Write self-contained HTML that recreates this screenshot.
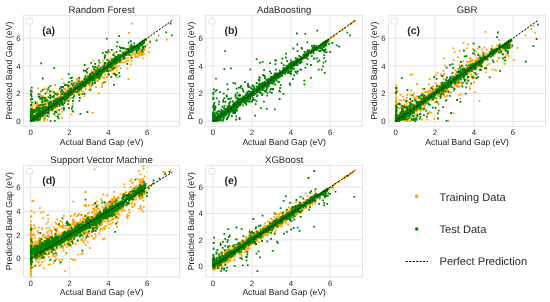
<!DOCTYPE html><html><head><meta charset="utf-8"><style>html,body{margin:0;padding:0;background:#fff;width:550px;height:302px;overflow:hidden}svg{display:block;filter:blur(0.3px)}text{font-family:"Liberation Sans",sans-serif;fill:#262626;text-rendering:geometricPrecision}</style></head><body>
<svg width="550" height="302" viewBox="0 0 550 302">
<path d="M30.69 15.20V126.20M23.60 121.15H179.50M69.52 15.20V126.20M23.60 93.51H179.50M108.35 15.20V126.20M23.60 65.86H179.50M147.17 15.20V126.20M23.60 38.22H179.50" stroke="#dedede" stroke-width="0.8" fill="none"/>
<rect x="23.60" y="15.20" width="155.90" height="111.00" stroke="#dedede" stroke-width="0.8" fill="none"/>
<path d="M31.3 117.8h0M31.9 108.7h0M32.0 117.2h0M30.8 120.0h0M30.9 119.6h0M31.9 117.9h0M31.2 99.8h0M31.2 119.5h0M31.2 120.9h0M31.4 117.7h0M31.0 118.1h0M30.9 121.2h0M31.6 117.2h0M31.2 117.9h0M31.4 118.9h0M30.8 115.5h0M31.4 116.5h0M30.7 121.1h0M31.6 116.6h0M31.3 116.6h0M30.8 112.8h0M31.3 119.7h0M31.0 120.4h0M31.4 120.9h0M31.7 115.0h0M30.9 120.1h0M30.8 114.3h0M30.8 120.6h0M31.0 115.2h0M30.8 115.5h0M31.6 120.3h0M31.4 118.8h0M30.9 116.1h0M31.3 119.1h0M31.6 118.5h0M31.5 109.9h0M30.9 121.0h0M30.7 120.1h0M30.8 113.4h0M31.2 107.6h0M30.9 117.1h0M31.7 110.3h0M32.1 117.4h0M30.8 118.6h0M31.0 117.5h0M31.6 118.9h0M31.7 113.2h0M31.6 114.4h0M31.3 110.4h0M31.1 119.3h0M30.7 100.8h0M31.4 117.7h0M31.7 118.6h0M31.6 117.6h0M31.0 118.6h0M31.2 119.7h0M31.2 119.0h0M30.9 117.6h0M30.7 115.4h0M31.3 117.8h0M31.8 119.0h0M30.8 121.1h0M30.7 110.7h0M31.2 114.1h0M31.3 117.7h0M31.5 113.7h0M31.1 117.2h0M31.5 118.4h0M30.9 115.4h0M31.1 120.8h0M30.7 115.6h0M31.1 112.7h0M30.9 114.1h0M31.2 93.6h0M31.4 120.3h0M30.9 121.0h0M31.1 117.5h0M31.0 119.7h0M31.3 113.2h0M31.2 120.9h0M30.8 113.3h0M31.6 117.8h0M32.1 117.9h0M31.1 116.3h0M31.6 120.4h0M30.8 120.0h0M31.3 116.5h0M31.3 117.0h0M30.7 115.0h0M31.4 105.4h0M52.9 105.1h0M40.0 116.3h0M46.3 89.3h0M55.7 105.7h0M34.6 115.1h0M39.7 108.4h0M31.2 119.1h0M39.1 112.4h0M35.3 116.2h0M43.4 105.4h0M59.3 97.1h0M44.5 115.0h0M38.2 116.0h0M54.5 102.9h0M31.1 121.0h0M43.5 115.9h0M47.2 109.1h0M53.0 107.7h0M53.5 102.9h0M50.6 110.1h0M49.8 109.0h0M60.8 95.4h0M57.8 102.9h0M35.7 119.9h0M47.8 109.8h0M70.8 88.5h0M34.0 118.2h0M33.1 118.4h0M33.2 112.9h0M46.2 109.9h0M43.2 111.3h0M31.7 119.7h0M35.1 118.2h0M53.8 108.2h0M32.4 120.6h0M43.4 102.6h0M41.7 113.2h0M37.7 108.8h0M32.3 115.0h0M31.8 120.6h0M31.8 119.1h0M51.3 106.3h0M37.6 108.6h0M35.3 117.3h0M32.4 107.1h0M35.9 116.1h0M43.0 107.1h0M34.3 119.0h0M40.8 113.0h0M39.2 114.3h0M43.1 110.9h0M35.3 108.5h0M36.9 106.2h0M32.8 119.3h0M34.2 105.2h0M52.3 105.0h0M35.2 117.5h0M45.4 112.7h0M38.7 118.2h0M76.3 92.2h0M32.3 108.7h0M51.7 106.5h0M45.5 111.2h0M47.2 113.4h0M59.4 98.3h0M41.2 111.4h0M42.6 96.1h0M44.5 88.6h0M36.8 111.2h0M35.9 115.3h0M36.1 119.1h0M38.3 116.0h0M33.8 110.4h0M35.4 119.5h0M46.3 106.2h0M44.0 114.8h0M46.6 111.9h0M53.5 103.9h0M32.2 115.3h0M33.0 114.6h0M45.9 109.5h0M34.6 117.6h0M39.9 113.6h0M33.7 115.2h0M46.5 105.6h0M41.1 95.7h0M34.6 117.2h0M41.0 111.3h0M39.0 114.9h0M33.3 120.0h0M35.5 120.0h0M32.1 115.9h0M39.8 115.0h0M69.1 91.1h0M43.3 112.0h0M41.1 116.7h0M33.2 119.9h0M31.3 110.5h0M31.1 115.0h0M31.5 120.0h0M36.2 118.5h0M32.6 112.4h0M37.8 112.8h0M63.9 97.5h0M59.1 100.8h0M35.6 119.6h0M38.1 116.6h0M31.9 120.2h0M42.8 112.9h0M32.9 120.3h0M54.1 105.8h0M44.1 110.9h0M31.1 121.0h0M47.8 102.2h0M57.0 101.1h0M58.4 104.1h0M64.4 83.8h0M49.3 110.5h0M43.1 102.6h0M31.4 118.4h0M35.7 118.8h0M36.5 114.9h0M31.1 113.8h0M41.9 110.6h0M48.7 103.5h0M35.3 115.5h0M34.1 119.2h0M36.0 119.2h0M38.8 116.2h0M46.7 108.9h0M31.7 113.4h0M45.7 109.4h0M39.4 117.0h0M45.2 109.8h0M64.1 97.1h0M36.5 110.6h0M50.3 105.8h0M34.7 116.9h0M39.2 112.1h0M44.9 116.7h0M31.8 116.1h0M45.3 111.7h0M51.9 103.1h0M46.4 107.7h0M34.6 119.2h0M67.0 93.6h0M48.9 107.0h0M42.9 116.1h0M37.9 88.4h0M51.1 101.4h0M40.9 116.6h0M63.8 82.9h0M94.3 72.3h0M33.5 120.5h0M35.3 112.3h0M32.3 118.9h0M38.8 108.3h0M41.9 115.5h0M32.6 120.1h0M35.6 119.1h0M46.6 108.9h0M38.2 106.5h0M32.9 121.1h0M31.7 118.3h0M35.3 108.2h0M31.3 121.0h0M31.6 114.3h0M36.8 114.4h0M54.2 113.9h0M31.1 114.8h0M31.2 116.2h0M47.8 110.8h0M36.5 104.3h0M36.3 117.9h0M39.9 99.6h0M64.9 99.5h0M47.2 102.1h0M38.6 117.6h0M52.8 102.8h0M58.4 96.6h0M31.3 117.7h0M33.7 117.5h0M40.9 114.6h0M33.2 119.9h0M36.2 113.7h0M52.8 102.4h0M53.7 105.2h0M36.0 118.8h0M56.8 102.8h0M42.8 102.7h0M39.5 115.4h0M32.8 120.4h0M31.7 120.7h0M34.1 111.0h0M32.5 117.7h0M36.7 120.8h0M31.1 120.4h0M97.4 76.7h0M68.0 95.0h0M38.8 111.8h0M58.4 105.4h0M106.1 63.6h0M44.8 101.8h0M55.5 93.3h0M51.0 105.8h0M103.6 71.6h0M53.8 106.0h0M50.9 91.4h0M54.8 101.3h0M109.6 52.3h0M105.4 70.8h0M66.4 98.2h0M93.5 78.4h0M97.4 73.0h0M38.1 108.0h0M83.4 84.3h0M59.5 100.8h0M43.9 100.6h0M112.8 62.3h0M42.9 113.1h0M85.4 78.4h0M66.3 90.4h0M90.4 81.8h0M103.3 65.7h0M62.3 93.2h0M60.8 98.5h0M82.0 82.8h0M53.6 105.8h0M104.9 67.3h0M116.7 65.6h0M38.6 118.5h0M94.9 78.7h0M64.8 99.2h0M52.5 107.5h0M55.8 107.9h0M91.0 76.4h0M104.6 68.3h0M88.2 81.7h0M40.0 117.8h0M56.2 101.1h0M45.2 113.3h0M40.6 108.1h0M46.0 107.8h0M101.0 68.2h0M66.2 93.1h0M116.6 57.9h0M96.8 73.0h0M107.5 64.6h0M87.3 82.1h0M68.6 96.7h0M38.5 94.6h0M68.3 93.3h0M92.1 81.2h0M68.8 99.5h0M91.0 80.4h0M64.5 100.5h0M86.0 80.5h0M60.2 113.6h0M85.2 79.1h0M111.3 60.7h0M111.8 68.6h0M99.6 72.6h0M73.5 87.8h0M60.9 89.4h0M94.7 74.3h0M58.4 105.9h0M69.2 92.6h0M95.8 73.6h0M59.7 103.4h0M37.1 113.7h0M93.6 79.9h0M99.9 68.9h0M49.5 110.1h0M62.1 118.1h0M42.9 111.5h0M48.1 106.5h0M59.4 102.0h0M66.7 97.4h0M82.0 86.3h0M55.8 102.0h0M42.1 104.9h0M85.9 89.3h0M104.2 69.2h0M105.6 67.8h0M62.2 100.0h0M99.7 68.9h0M107.5 52.8h0M73.7 90.4h0M116.7 60.2h0M53.4 107.9h0M44.3 111.0h0M90.6 76.4h0M113.1 62.0h0M56.5 100.3h0M97.7 71.3h0M66.4 100.4h0M39.6 111.0h0M113.0 61.7h0M88.4 67.8h0M105.4 68.9h0M54.3 103.9h0M87.0 83.3h0M98.9 79.8h0M104.5 68.3h0M67.5 92.3h0M68.1 88.0h0M47.1 108.1h0M101.4 76.2h0M85.1 85.5h0M108.7 70.0h0M37.5 115.0h0M66.4 97.9h0M103.0 82.9h0M70.5 90.3h0M102.3 86.2h0M52.6 105.0h0M72.8 93.5h0M52.4 106.5h0M45.0 114.7h0M40.3 105.1h0M64.6 98.1h0M60.1 101.1h0M87.5 81.3h0M108.0 65.5h0M47.2 91.8h0M103.7 66.8h0M90.4 80.1h0M50.7 106.5h0M95.1 71.6h0M102.3 71.0h0M37.7 114.4h0M107.6 67.6h0M73.6 89.9h0M115.5 67.0h0M64.0 99.2h0M54.3 103.2h0M108.2 73.1h0M85.7 80.3h0M42.2 114.8h0M99.0 70.4h0M107.3 65.7h0M55.9 104.3h0M52.0 110.2h0M84.6 84.0h0M80.9 85.8h0M117.4 59.8h0M105.1 65.9h0M43.0 115.9h0M113.9 66.8h0M43.3 104.4h0M54.1 107.8h0M74.9 92.0h0M46.3 108.8h0M50.8 98.5h0M58.0 94.4h0M107.2 69.8h0M71.0 95.2h0M109.3 67.4h0M47.8 109.9h0M98.2 73.1h0M65.0 93.8h0M50.6 108.3h0M79.3 89.1h0M69.1 96.8h0M40.7 112.8h0M85.0 87.9h0M88.7 83.1h0M109.7 64.4h0M49.4 105.1h0M76.9 92.2h0M53.4 107.1h0M69.3 93.8h0M94.8 72.0h0M117.4 60.0h0M85.2 84.0h0M98.0 72.5h0M71.6 92.3h0M92.3 74.1h0M108.9 67.6h0M44.6 107.9h0M96.0 73.7h0M92.7 78.1h0M67.2 96.3h0M74.4 93.2h0M78.6 91.4h0M111.4 60.3h0M89.7 77.3h0M65.6 95.9h0M94.7 72.5h0M104.8 54.9h0M109.4 63.3h0M63.8 89.2h0M42.0 114.2h0M81.2 82.0h0M62.8 100.6h0M87.7 78.4h0M63.1 97.2h0M112.1 65.1h0M89.2 82.4h0M87.8 81.2h0M98.9 76.9h0M74.4 87.4h0M90.8 81.1h0M112.1 60.3h0M107.8 75.6h0M56.3 103.5h0M84.8 82.3h0M51.0 106.3h0M117.5 77.5h0M38.8 114.5h0M115.3 66.5h0M99.0 69.3h0M99.0 70.2h0M68.6 92.6h0M68.8 98.1h0M115.7 60.6h0M115.2 68.4h0M72.0 93.0h0M81.5 87.6h0M74.1 94.9h0M72.7 86.2h0M56.5 110.9h0M82.1 82.5h0M66.1 96.5h0M83.6 84.3h0M85.4 81.6h0M101.5 74.1h0M40.0 106.9h0M53.3 103.0h0M43.4 116.6h0M63.3 96.4h0M106.5 65.3h0M48.8 108.5h0M62.1 103.4h0M81.1 86.5h0M107.9 65.9h0M38.1 110.0h0M102.7 70.5h0M111.8 66.9h0M46.9 100.2h0M49.2 109.1h0M111.3 67.0h0M77.2 89.2h0M60.0 97.7h0M101.7 66.3h0M66.1 96.9h0M40.8 109.0h0M61.7 102.5h0M84.0 85.6h0M89.2 89.8h0M59.1 101.0h0M91.0 81.5h0M86.8 80.7h0M47.1 115.9h0M79.8 94.3h0M49.0 108.1h0M118.0 62.3h0M99.1 76.0h0M65.7 96.8h0M94.4 78.5h0M45.6 99.1h0M65.5 91.5h0M94.3 77.4h0M64.5 102.7h0M50.2 109.3h0M100.7 72.0h0M51.8 109.6h0M66.3 94.1h0M108.2 65.1h0M105.9 69.5h0M107.6 64.3h0M40.9 106.6h0M39.5 115.9h0M69.4 96.8h0M66.0 89.9h0M108.1 69.1h0M99.4 78.8h0M40.1 114.4h0M49.5 107.2h0M52.1 91.5h0M79.0 83.2h0M74.3 95.5h0M111.0 64.9h0M79.3 86.7h0M85.7 81.1h0M83.7 82.6h0M44.3 114.5h0M41.6 112.2h0M79.6 85.8h0M56.0 116.1h0M89.7 80.9h0M48.4 106.7h0M40.1 116.3h0M75.0 90.5h0M81.5 86.4h0M63.1 100.9h0M109.6 68.0h0M97.1 68.9h0M62.0 111.6h0M60.9 103.3h0M87.2 80.5h0M90.6 79.1h0M36.8 113.3h0M79.5 86.2h0M83.7 85.5h0M99.6 70.1h0M95.8 75.0h0M53.9 107.6h0M62.2 105.2h0M102.9 68.3h0M105.3 67.9h0M80.5 86.6h0M66.8 93.5h0M112.8 61.7h0M82.7 83.4h0M38.9 113.3h0M73.3 88.8h0M49.4 112.1h0M54.0 103.4h0M45.0 113.6h0M49.3 108.0h0M40.9 113.9h0M83.2 85.1h0M118.0 55.7h0M91.5 85.0h0M37.2 118.9h0M95.6 70.5h0M53.6 103.6h0M113.6 64.4h0M44.5 101.2h0M80.7 88.9h0M76.8 89.4h0M79.6 84.3h0M89.8 90.5h0M104.6 69.1h0M92.2 75.1h0M89.6 77.8h0M113.7 69.3h0M111.0 58.5h0M72.9 91.1h0M78.2 87.9h0M69.5 92.3h0M40.5 115.4h0M69.1 91.1h0M80.4 89.9h0M84.8 84.5h0M48.9 108.6h0M42.7 110.2h0M40.5 107.5h0M87.3 79.8h0M95.8 73.5h0M37.5 104.2h0M85.9 80.3h0M112.9 69.9h0M87.6 80.5h0M47.2 103.5h0M54.5 98.9h0M54.8 104.8h0M109.8 60.7h0M104.3 65.7h0M92.6 112.9h0M90.1 78.6h0M67.9 94.4h0M44.5 112.5h0M49.1 107.7h0M82.0 85.3h0M76.4 88.6h0M107.8 71.0h0M45.6 111.1h0M57.3 105.3h0M60.3 100.9h0M39.1 106.4h0M64.6 93.5h0M90.1 80.7h0M39.5 106.0h0M62.3 79.2h0M111.3 63.1h0M100.2 71.7h0M86.7 77.0h0M81.5 84.6h0M78.8 89.4h0M77.6 88.1h0M112.0 67.2h0M92.0 74.0h0M97.1 75.7h0M114.9 64.0h0M105.0 74.6h0M72.8 92.0h0M58.4 94.8h0M79.2 79.5h0M70.3 92.2h0M85.5 76.9h0M39.2 114.1h0M100.7 72.3h0M111.1 61.6h0M92.6 79.5h0M101.0 70.9h0M52.8 106.3h0M99.6 77.2h0M80.3 81.8h0M108.3 70.0h0M115.0 65.3h0M107.1 69.0h0M80.9 86.6h0M48.7 106.1h0M57.8 103.6h0M40.4 109.7h0M80.2 82.9h0M101.4 69.9h0M53.9 97.7h0M84.5 82.1h0M57.3 98.9h0M77.1 80.5h0M69.2 94.6h0M57.9 102.4h0M115.9 59.0h0M113.2 65.0h0M54.2 106.0h0M74.5 88.9h0M79.4 78.8h0M102.0 72.6h0M97.5 73.9h0M39.0 116.5h0M111.5 62.9h0M101.4 71.5h0M105.0 64.9h0M75.8 83.8h0M106.2 71.4h0M54.3 105.6h0M45.1 107.4h0M90.5 78.4h0M62.3 97.1h0M104.9 69.1h0M88.6 81.1h0M83.7 85.5h0M76.9 86.6h0M86.8 79.0h0M41.6 102.1h0M67.5 91.5h0M97.4 81.1h0M67.8 90.8h0M54.9 99.2h0M71.2 91.1h0M96.1 87.0h0M49.6 104.6h0M91.5 71.1h0M48.3 108.2h0M108.9 63.0h0M101.7 70.3h0M64.0 94.8h0M54.6 107.4h0M57.2 99.0h0M57.8 98.8h0M93.8 77.9h0M74.5 87.8h0M90.9 86.5h0M47.6 109.2h0M72.0 91.7h0M94.0 75.9h0M94.3 74.1h0M41.3 115.6h0M115.7 59.1h0M52.9 105.1h0M84.1 85.1h0M37.2 110.8h0M66.5 93.1h0M95.9 79.1h0M113.9 60.6h0M63.2 95.7h0M86.9 79.9h0M48.3 110.1h0M116.8 58.7h0M53.8 103.1h0M61.0 100.8h0M81.2 87.0h0M76.8 89.0h0M69.7 81.9h0M99.5 70.8h0M111.2 61.4h0M115.7 66.0h0M76.6 92.0h0M54.0 104.6h0M57.9 100.7h0M63.3 101.3h0M99.2 72.6h0M46.1 98.2h0M83.5 80.7h0M98.7 93.5h0M97.1 72.6h0M38.8 108.2h0M47.9 108.0h0M51.0 107.3h0M92.4 78.8h0M95.5 75.7h0M46.8 110.2h0M36.9 109.7h0M40.7 114.9h0M49.1 117.0h0M92.3 77.0h0M82.5 84.1h0M89.1 85.5h0M37.4 116.4h0M107.6 63.5h0M56.6 94.2h0M103.2 67.6h0M87.4 80.0h0M98.1 74.6h0M104.7 69.2h0M56.3 106.2h0M56.6 104.1h0M57.9 97.7h0M64.7 102.1h0M103.2 71.4h0M84.7 86.6h0M42.6 113.8h0M36.6 111.1h0M82.1 83.5h0M80.6 88.3h0M39.3 117.1h0M70.2 95.0h0M106.6 77.1h0M104.3 77.8h0M85.9 82.3h0M89.8 83.2h0M108.7 74.0h0M84.8 82.2h0M39.8 114.1h0M85.8 81.2h0M57.3 98.2h0M89.4 80.5h0M90.0 83.8h0M94.4 79.4h0M64.8 99.4h0M107.4 68.1h0M65.1 89.0h0M112.8 65.5h0M86.7 77.8h0M69.7 92.9h0M70.3 92.9h0M72.7 89.3h0M70.1 93.2h0M105.3 65.9h0M85.7 82.4h0M102.1 71.2h0M114.2 72.7h0M76.4 87.2h0M72.2 92.1h0M104.5 71.1h0M61.3 98.1h0M72.9 103.8h0M60.8 99.8h0M53.9 106.7h0M69.2 95.0h0M59.2 90.3h0M115.4 62.0h0M82.6 84.1h0M101.0 68.8h0M86.0 85.3h0M71.3 89.2h0M110.0 66.9h0M92.0 80.1h0M98.3 70.9h0M74.5 88.2h0M111.2 61.7h0M37.2 112.3h0M105.4 66.6h0M112.3 70.2h0M73.6 90.0h0M108.8 66.3h0M71.4 114.6h0M103.0 60.8h0M59.1 97.7h0M92.9 79.3h0M80.9 88.7h0M72.7 89.1h0M60.6 97.1h0M79.8 87.8h0M38.0 115.7h0M116.9 59.0h0M80.4 84.2h0M39.3 117.8h0M116.9 67.6h0M113.0 67.1h0M59.1 99.9h0M104.3 65.8h0M116.9 60.5h0M75.7 91.7h0M92.1 78.9h0M54.3 102.5h0M62.2 99.8h0M51.3 106.2h0M107.9 67.3h0M71.4 92.1h0M46.0 108.7h0M46.7 110.2h0M94.0 80.0h0M56.3 104.9h0M71.0 98.1h0M39.0 116.4h0M115.6 61.3h0M95.1 78.7h0M79.9 82.3h0M66.8 95.0h0M55.1 85.0h0M109.4 65.1h0M51.6 101.9h0M113.2 59.5h0M50.0 109.1h0M96.0 72.7h0M62.4 97.9h0M98.4 78.1h0M110.8 59.7h0M99.8 69.7h0M47.0 110.6h0M86.8 81.7h0M101.9 83.9h0M40.2 112.9h0M68.5 88.3h0M114.5 52.9h0M74.9 82.2h0M114.7 61.3h0M104.7 71.1h0M49.9 108.0h0M113.0 61.5h0M63.9 99.0h0M102.2 70.0h0M67.4 100.8h0M43.8 108.9h0M86.5 85.6h0M109.6 62.1h0M59.0 103.0h0M41.3 111.2h0M108.9 61.7h0M115.8 59.9h0M41.5 105.4h0M93.6 77.5h0M108.1 67.6h0M81.6 83.9h0M83.8 91.8h0M59.9 100.3h0M101.1 72.8h0M68.3 94.6h0M94.7 74.3h0M79.2 92.8h0M46.9 108.8h0M81.0 90.5h0M105.1 68.1h0M69.2 92.4h0M38.3 119.5h0M82.1 85.0h0M84.3 96.1h0M116.6 63.3h0M101.3 74.9h0M100.0 73.4h0M66.0 94.7h0M67.2 96.3h0M79.8 87.6h0M77.1 78.8h0M48.5 103.1h0M87.0 83.3h0M105.4 69.7h0M44.1 120.8h0M65.1 101.1h0M101.0 72.8h0M82.5 91.6h0M107.1 62.8h0M105.5 68.4h0M67.5 95.5h0M54.5 107.5h0M45.9 108.6h0M41.9 113.0h0M109.6 67.6h0M93.8 73.8h0M95.5 76.9h0M64.7 96.5h0M59.1 100.8h0M56.0 102.1h0M114.0 60.9h0M44.8 109.3h0M83.3 83.2h0M55.6 104.6h0M42.5 110.0h0M62.6 96.7h0M100.2 73.9h0M109.2 65.9h0M97.1 71.7h0M36.8 117.8h0M90.2 84.5h0M39.6 114.4h0M78.6 86.6h0M61.1 98.6h0M71.6 94.3h0M94.6 76.7h0M58.9 102.7h0M83.5 82.5h0M73.5 89.5h0M110.6 66.1h0M116.8 70.4h0M48.5 103.9h0M55.9 107.1h0M92.5 74.6h0M41.5 114.1h0M39.4 117.7h0M59.3 102.7h0M93.9 78.6h0M66.7 95.3h0M82.9 86.7h0M93.5 60.7h0M50.2 110.0h0M75.2 89.4h0M104.2 67.7h0M107.7 73.9h0M116.4 58.9h0M94.2 78.4h0M82.3 87.0h0M64.4 98.0h0M82.2 85.4h0M97.8 70.4h0M114.9 66.0h0M87.3 81.2h0M40.3 113.7h0M113.2 63.6h0M58.6 98.5h0M89.6 76.5h0M87.3 82.2h0M117.1 61.6h0M115.3 67.0h0M103.9 69.4h0M66.7 95.9h0M75.3 87.5h0M115.7 57.6h0M82.1 86.2h0M78.8 85.6h0M40.1 117.8h0M37.7 117.9h0M43.7 114.6h0M87.4 82.3h0M103.9 77.3h0M52.9 106.9h0M102.8 77.7h0M39.2 115.1h0M104.5 69.3h0M94.1 76.5h0M110.5 68.0h0M114.1 59.6h0M38.3 117.4h0M94.3 80.4h0M102.7 72.5h0M63.1 97.2h0M68.8 98.0h0M58.2 106.0h0M44.9 98.4h0M91.1 80.2h0M88.4 81.5h0M66.7 96.1h0M77.5 93.4h0M112.6 62.7h0M38.0 118.5h0M94.0 77.7h0M112.3 63.9h0M95.8 70.9h0M39.5 116.9h0M44.3 111.3h0M76.5 85.7h0M45.6 106.5h0M113.1 66.0h0M113.6 63.0h0M48.3 108.5h0M61.5 103.8h0M112.5 62.8h0M41.6 114.5h0M84.5 84.7h0M55.2 103.1h0M112.6 63.3h0M102.1 66.4h0M88.1 79.6h0M91.1 81.9h0M46.8 111.6h0M91.7 77.8h0M112.8 73.6h0M86.4 83.2h0M107.2 64.2h0M77.8 86.4h0M70.7 92.1h0M101.8 87.2h0M60.5 102.8h0M97.7 72.3h0M68.5 94.4h0M41.5 115.4h0M92.1 76.1h0M97.3 70.6h0M88.7 76.6h0M49.5 106.2h0M82.3 85.7h0M93.5 70.1h0M65.4 94.4h0M95.4 75.5h0M91.8 75.1h0M111.0 65.1h0M98.4 72.5h0M64.2 100.3h0M89.4 82.0h0M45.8 110.3h0M46.6 108.7h0M53.0 101.5h0M114.0 60.0h0M40.6 113.4h0M58.0 93.1h0M91.0 79.3h0M90.5 78.5h0M114.0 63.6h0M63.9 95.5h0M66.7 96.5h0M110.5 63.0h0M46.9 111.1h0M116.9 61.0h0M105.5 70.0h0M99.3 73.2h0M66.9 95.2h0M92.2 78.3h0M40.2 113.4h0M43.3 105.2h0M68.1 92.3h0M106.4 81.9h0M42.5 114.9h0M79.1 89.1h0M68.9 89.0h0M97.2 73.3h0M85.8 75.6h0M50.6 106.0h0M115.8 61.1h0M113.8 62.7h0M58.0 103.6h0M66.9 92.9h0M72.0 90.4h0M73.5 112.0h0M50.1 101.2h0M57.4 100.8h0M41.4 112.2h0M83.4 83.8h0M62.5 98.4h0M71.5 90.3h0M46.7 113.4h0M82.7 86.1h0M59.0 99.0h0M87.7 75.4h0M112.0 66.3h0M78.4 86.6h0M79.4 90.6h0M66.6 96.8h0M65.3 99.4h0M97.4 76.6h0M83.9 83.6h0M90.4 81.1h0M68.0 96.6h0M110.8 62.2h0M45.3 112.5h0M37.0 111.3h0M50.3 109.0h0M113.7 69.6h0M96.6 76.9h0M115.8 61.6h0M49.8 107.6h0M94.7 73.5h0M40.0 113.4h0M49.7 93.2h0M39.8 110.6h0M61.5 108.7h0M109.9 62.4h0M47.8 107.3h0M64.3 96.8h0M37.3 102.5h0M108.1 66.0h0M57.4 95.1h0M59.5 100.9h0M56.1 105.2h0M70.3 92.0h0M78.5 85.7h0M68.7 94.0h0M88.0 77.4h0M56.5 95.1h0M61.3 97.3h0M102.3 67.1h0M49.5 109.6h0M68.2 98.6h0M80.0 81.1h0M96.3 73.2h0M110.5 61.0h0M60.3 101.6h0M81.1 86.7h0M58.5 102.9h0M82.9 83.0h0M79.3 79.2h0M61.6 98.8h0M37.8 118.5h0M104.0 68.8h0M39.7 114.3h0M62.4 98.2h0M42.7 114.3h0M67.8 92.5h0M95.0 75.9h0M40.7 111.2h0M97.8 81.0h0M102.4 66.0h0M61.1 99.1h0M45.5 115.9h0M61.4 98.2h0M44.0 111.0h0M63.8 96.5h0M108.1 68.7h0M73.3 93.3h0M98.9 75.9h0M111.8 61.4h0M108.0 68.3h0M68.8 98.9h0M106.4 65.7h0M101.5 69.0h0M108.7 64.3h0M99.8 70.9h0M115.4 59.9h0M95.5 81.1h0M43.2 107.9h0M89.6 83.6h0M72.6 88.2h0M111.4 64.0h0M41.7 110.8h0M84.0 83.1h0M50.8 105.1h0M84.7 84.7h0M60.5 98.6h0M49.0 104.3h0M70.5 85.2h0M38.9 115.5h0M102.7 72.8h0M67.9 95.6h0M48.9 116.3h0M101.6 67.6h0M45.0 107.3h0M38.5 111.4h0M93.4 78.0h0M47.3 119.7h0M39.9 112.4h0M53.2 100.9h0M40.0 94.4h0M44.5 109.8h0M96.0 67.1h0M106.1 65.3h0M60.7 99.2h0M96.6 71.6h0M65.6 97.7h0M52.1 102.3h0M118.0 57.9h0M79.9 83.2h0M113.4 65.0h0M54.4 103.6h0M127.9 51.6h0M128.7 54.9h0M132.3 47.2h0M131.4 50.3h0M125.7 53.7h0M133.0 51.9h0M128.1 49.5h0M132.2 52.6h0M137.4 52.7h0M118.3 58.1h0M132.4 55.0h0M131.4 49.1h0M127.2 51.0h0M122.7 62.2h0M128.2 53.9h0M136.9 45.9h0M135.4 57.1h0M133.3 47.1h0M128.7 53.2h0M122.5 59.4h0M120.7 59.8h0M132.1 57.9h0M130.9 47.3h0M136.9 56.7h0M130.4 50.9h0M128.2 52.7h0M131.5 60.7h0M126.2 53.8h0M128.0 58.0h0M137.1 46.2h0M134.1 48.7h0M125.0 62.1h0M129.7 47.7h0M127.6 53.9h0M135.6 56.9h0M135.1 48.3h0M121.6 57.4h0M125.7 59.1h0M128.0 54.0h0M136.0 46.8h0M133.0 47.4h0M133.7 47.5h0M123.3 56.2h0M127.4 68.5h0M121.0 57.1h0M125.4 55.1h0M119.9 58.2h0M137.0 53.0h0M120.8 56.6h0M128.8 33.0h0M119.1 61.4h0M125.6 51.3h0M133.3 50.2h0M134.2 53.8h0M136.2 49.3h0M131.2 50.5h0M132.1 47.6h0M129.4 55.1h0M120.9 68.2h0M118.5 59.1h0M123.4 56.9h0M135.4 55.0h0M132.0 48.5h0M131.0 47.3h0M126.9 60.9h0M131.2 58.1h0M129.8 45.8h0M132.4 51.5h0M120.4 54.9h0M121.2 58.2h0M121.4 58.5h0M135.0 49.6h0M119.3 58.8h0M128.3 50.6h0M129.5 51.6h0M123.1 54.9h0M134.5 48.1h0M123.8 57.2h0M132.3 49.7h0M122.4 55.8h0M124.9 52.0h0M127.1 51.0h0M135.3 47.8h0M129.0 48.7h0M122.3 55.5h0M118.4 56.8h0M128.7 60.7h0M127.1 50.1h0M122.4 51.7h0M119.6 62.5h0M136.0 55.8h0M128.4 79.0h0M122.5 57.9h0M119.7 56.8h0M133.7 48.3h0M124.5 54.0h0M121.2 62.4h0M126.4 55.0h0M124.7 53.4h0M132.3 49.7h0M130.8 64.4h0M122.2 53.4h0M125.6 57.1h0M128.2 54.9h0M119.3 65.8h0M131.7 23.6h0M118.2 60.0h0M128.6 52.6h0M125.5 53.3h0M128.6 49.0h0M134.6 53.3h0M136.1 46.4h0M142.5 50.0h0M140.8 43.2h0M142.1 42.3h0M138.7 52.6h0M143.1 51.3h0M144.1 42.0h0M143.0 41.3h0M143.4 41.0h0M140.0 43.4h0M141.5 42.6h0M140.0 43.8h0M140.7 45.2h0M140.8 49.3h0M141.4 55.3h0M143.8 53.6h0M141.4 43.1h0M141.2 43.5h0M142.7 41.5h0M142.0 42.7h0M143.5 41.6h0M141.7 53.1h0M141.8 50.6h0M140.4 43.8h0M141.9 42.4h0M136.4 47.0h0M142.6 41.6h0M140.1 43.7h0M141.0 43.6h0M143.5 54.5h0M143.8 50.5h0M142.9 41.9h0M142.7 50.5h0M139.8 44.6h0M140.9 50.5h0M140.5 50.6h0M139.9 44.5h0M142.9 43.3h0M139.1 46.5h0M142.7 54.6h0M142.4 49.6h0M139.1 44.7h0M141.1 44.3h0M144.4 49.3h0M142.8 41.6h0M139.6 44.1h0M143.1 41.7h0M142.1 44.2h0M142.5 41.9h0M146.1 40.4h0M142.4 41.8h0M138.3 57.2h0M142.9 41.3h0M138.6 44.6h0M138.4 45.3h0M143.1 51.3h0M140.6 42.9h0M143.3 58.3h0M139.4 51.6h0M139.5 52.2h0M139.3 43.9h0M142.6 49.8h0M140.7 54.3h0M141.1 51.1h0M144.8 40.3h0M136.6 46.8h0M144.9 40.0h0M141.9 42.5h0M141.3 44.0h0M136.8 46.3h0M143.5 42.3h0M138.3 45.8h0M143.7 41.0h0M143.5 41.2h0M139.4 44.6h0M139.8 43.6h0M142.6 43.6h0M142.5 42.3h0M142.3 43.3h0M142.4 51.8h0M138.9 54.2h0M146.9 44.6h0M142.6 41.5h0M143.2 43.1h0M141.7 42.7h0M140.0 54.8h0M142.7 43.0h0M140.2 43.8h0M142.6 49.5h0M143.0 51.8h0M143.1 41.6h0M141.5 43.3h0M141.5 42.4h0M144.0 40.7h0M142.5 42.5h0M141.8 45.1h0M142.2 51.7h0M138.9 53.5h0M140.5 51.0h0M137.6 45.6h0M136.2 46.8h0M142.6 50.3h0M144.6 49.0h0M139.7 43.6h0M141.5 42.3h0M141.5 51.1h0M143.4 42.5h0M141.2 42.7h0M142.5 42.9h0M139.1 52.8h0M142.2 42.0h0M141.6 51.5h0M136.3 48.2h0M143.1 48.8h0M142.4 43.7h0M143.7 40.8h0M138.4 44.8h0M142.7 49.8h0M143.6 53.8h0M141.8 54.8h0M138.1 54.5h0M140.2 44.1h0M144.6 40.3h0M140.2 52.3h0M141.7 44.0h0M142.2 50.7h0M142.8 51.9h0M145.3 40.1h0M138.9 46.0h0M141.3 43.2h0M142.8 53.8h0M140.9 43.5h0M139.9 43.7h0M140.7 43.1h0M145.9 39.7h0M139.6 43.7h0M140.4 43.5h0M141.9 51.4h0M138.4 45.5h0M150.0 41.6h0M166.7 39.5h0M158.8 35.5h0M149.0 52.2h0M149.5 47.7h0" stroke="#ffa500" stroke-width="1.8" stroke-linecap="square" fill="none"/>
<path d="M30.7 115.7h0M30.8 116.6h0M31.2 117.3h0M31.4 118.2h0M31.2 94.7h0M31.2 119.6h0M30.8 117.7h0M31.6 119.4h0M30.9 119.5h0M31.6 118.4h0M31.0 113.9h0M31.2 118.6h0M30.9 112.7h0M30.8 119.8h0M31.1 91.7h0M31.2 118.3h0M31.0 118.6h0M31.1 115.4h0M30.9 113.0h0M31.7 113.1h0M30.8 115.5h0M31.2 112.3h0M30.9 114.1h0M30.8 115.4h0M31.1 118.9h0M31.1 120.1h0M30.8 117.1h0M31.8 119.4h0M30.7 110.2h0M31.2 118.5h0M31.4 104.7h0M30.9 118.5h0M30.9 112.9h0M31.0 117.7h0M30.7 117.0h0M31.4 120.5h0M31.4 119.9h0M31.3 119.4h0M31.5 120.2h0M31.2 112.2h0M31.0 105.0h0M31.3 119.2h0M31.8 121.0h0M31.2 120.8h0M31.5 113.5h0M31.0 116.8h0M30.9 114.5h0M31.2 112.1h0M31.5 117.5h0M30.7 118.6h0M31.3 114.8h0M30.7 90.4h0M31.6 119.1h0M31.0 99.1h0M31.0 121.0h0M30.9 118.2h0M31.4 116.9h0M31.7 120.6h0M30.8 94.2h0M30.7 115.6h0M31.2 113.3h0M31.0 120.6h0M31.1 114.5h0M30.9 119.6h0M30.9 113.5h0M31.0 111.9h0M31.0 117.6h0M31.2 117.1h0M31.7 96.7h0M30.8 114.6h0M32.5 116.0h0M31.1 121.0h0M31.4 104.7h0M31.2 120.2h0M31.6 120.8h0M31.8 87.7h0M31.1 120.1h0M31.3 119.0h0M31.6 115.3h0M30.9 112.9h0M30.7 115.1h0M31.7 117.7h0M30.7 115.2h0M31.0 119.7h0M31.2 119.4h0M30.9 118.9h0M30.7 116.6h0M31.5 118.1h0M31.3 119.7h0M31.8 117.6h0M31.3 119.9h0M30.8 117.3h0M32.1 102.4h0M30.8 120.6h0M30.8 113.7h0M31.6 113.5h0M31.3 114.7h0M31.4 120.6h0M41.6 111.4h0M42.7 115.2h0M33.9 111.9h0M48.7 113.5h0M54.7 100.3h0M31.3 117.7h0M36.1 116.7h0M40.8 116.9h0M50.4 106.1h0M33.7 119.8h0M46.7 109.7h0M36.5 107.7h0M41.3 91.4h0M33.1 117.8h0M43.7 97.7h0M47.5 109.4h0M40.5 98.7h0M43.3 109.7h0M44.0 110.2h0M32.0 121.0h0M40.3 113.7h0M37.4 116.9h0M31.6 119.1h0M52.4 104.8h0M41.3 112.7h0M34.2 112.1h0M37.4 115.7h0M53.4 106.3h0M37.6 117.0h0M31.7 119.8h0M33.6 120.3h0M49.1 102.8h0M32.8 120.7h0M33.6 118.8h0M32.7 112.7h0M54.4 114.1h0M32.9 120.1h0M43.1 112.5h0M60.0 88.3h0M62.6 94.2h0M35.7 119.1h0M32.5 118.9h0M51.6 105.7h0M83.8 70.5h0M41.5 112.3h0M32.4 119.5h0M43.8 110.9h0M35.9 116.2h0M38.8 116.9h0M31.6 118.4h0M31.8 120.9h0M35.8 118.2h0M50.1 98.1h0M44.6 118.6h0M32.8 111.1h0M38.2 117.5h0M33.3 120.0h0M38.7 105.6h0M40.4 111.5h0M43.2 112.0h0M34.8 119.6h0M32.3 116.7h0M37.2 107.7h0M51.4 106.2h0M43.1 114.1h0M31.8 120.8h0M69.6 92.3h0M76.5 89.2h0M79.9 85.7h0M35.8 118.1h0M32.8 109.8h0M39.9 112.4h0M64.9 99.0h0M31.8 91.5h0M34.6 115.9h0M50.5 121.1h0M39.0 115.4h0M31.8 119.1h0M58.5 99.7h0M42.6 111.8h0M55.9 100.8h0M43.6 112.1h0M37.4 111.6h0M48.1 109.7h0M33.8 120.6h0M33.9 117.3h0M33.7 119.0h0M83.2 84.8h0M31.6 112.2h0M35.7 117.3h0M32.4 113.9h0M50.5 85.8h0M32.6 120.6h0M38.8 114.8h0M32.9 120.6h0M35.3 102.2h0M36.6 116.7h0M31.1 116.9h0M44.5 98.8h0M35.6 116.3h0M45.5 109.5h0M54.8 120.8h0M71.7 92.2h0M41.3 108.6h0M33.7 119.9h0M31.1 120.8h0M35.5 103.1h0M37.2 115.1h0M72.1 91.1h0M48.1 109.5h0M32.9 119.0h0M37.4 115.3h0M36.2 110.9h0M56.2 102.4h0M38.9 115.8h0M36.4 116.4h0M43.0 110.1h0M47.5 108.2h0M32.9 119.7h0M38.6 96.9h0M45.5 111.0h0M39.5 113.1h0M52.5 106.5h0M31.1 114.8h0M42.5 115.8h0M34.8 117.4h0M52.3 105.3h0M39.3 111.2h0M36.5 113.7h0M34.4 111.3h0M60.5 100.2h0M34.7 110.0h0M36.5 110.5h0M34.6 118.3h0M31.1 95.0h0M50.5 105.5h0M46.2 110.4h0M32.3 99.2h0M31.3 120.0h0M43.2 104.9h0M50.8 107.3h0M35.7 115.2h0M50.5 121.1h0M57.3 103.4h0M52.3 107.5h0M67.7 97.0h0M55.4 102.2h0M41.0 111.6h0M42.2 114.5h0M34.8 120.9h0M48.7 106.6h0M56.7 99.0h0M39.6 112.3h0M36.2 117.4h0M32.7 116.3h0M31.4 109.0h0M47.7 100.7h0M32.7 119.4h0M45.7 111.8h0M46.3 110.2h0M53.2 105.9h0M33.9 115.9h0M37.5 115.9h0M77.4 85.7h0M32.8 117.6h0M64.8 98.9h0M32.1 119.9h0M34.3 118.5h0M33.4 116.9h0M44.3 113.7h0M31.5 116.5h0M38.6 113.5h0M38.4 114.7h0M38.2 117.1h0M39.2 115.1h0M33.6 111.2h0M33.9 116.8h0M50.4 105.8h0M54.8 106.2h0M50.0 106.6h0M36.6 114.9h0M31.7 120.0h0M104.8 70.1h0M109.1 65.8h0M100.2 70.4h0M64.1 96.7h0M57.4 99.0h0M90.5 74.0h0M99.2 74.9h0M46.8 109.8h0M48.0 89.7h0M104.1 82.3h0M73.0 91.9h0M37.0 118.6h0M57.7 101.9h0M107.9 67.1h0M104.0 68.4h0M83.4 81.6h0M102.4 71.0h0M111.4 62.5h0M51.0 107.5h0M101.0 72.8h0M108.1 64.7h0M108.5 50.3h0M101.8 72.1h0M103.3 67.6h0M112.4 62.9h0M88.2 76.8h0M92.8 75.6h0M85.9 80.6h0M116.7 59.0h0M110.2 67.2h0M102.8 52.9h0M65.7 99.3h0M109.6 63.4h0M53.7 104.1h0M49.4 108.3h0M70.2 92.6h0M61.3 87.0h0M105.9 52.2h0M88.4 80.6h0M77.7 86.7h0M108.1 65.2h0M69.9 88.7h0M93.6 77.6h0M112.7 64.0h0M115.3 59.0h0M42.0 114.9h0M90.2 80.4h0M56.3 103.9h0M64.3 99.2h0M44.8 110.2h0M79.1 77.6h0M111.2 66.3h0M80.4 88.7h0M37.8 115.0h0M96.4 75.7h0M60.3 98.2h0M92.9 66.7h0M87.0 82.5h0M98.0 75.3h0M58.1 103.3h0M51.0 102.6h0M98.1 77.6h0M41.1 112.3h0M41.7 114.7h0M68.6 93.3h0M82.9 83.6h0M85.2 86.2h0M104.3 71.7h0M115.2 58.1h0M48.7 109.3h0M104.8 68.3h0M43.2 112.2h0M99.4 77.2h0M102.7 69.6h0M115.7 61.2h0M58.7 118.3h0M87.1 81.8h0M97.2 72.5h0M76.0 87.4h0M52.2 108.8h0M65.2 100.8h0M71.4 92.2h0M60.0 99.0h0M63.1 91.9h0M40.3 98.3h0M84.8 79.6h0M84.4 85.3h0M42.3 100.7h0M100.3 72.8h0M95.2 63.8h0M116.0 57.6h0M80.8 87.0h0M90.5 89.5h0M87.4 82.6h0M39.0 114.3h0M69.8 94.4h0M46.9 107.8h0M108.0 63.6h0M54.3 105.2h0M117.4 42.1h0M85.2 79.6h0M111.6 65.0h0M82.2 82.6h0M85.0 83.7h0M37.1 108.9h0M61.4 100.6h0M52.3 105.9h0M95.8 73.6h0M65.3 93.8h0M66.3 96.5h0M92.2 77.3h0M60.5 100.4h0M89.5 77.0h0M98.1 72.9h0M54.9 104.4h0M107.0 70.8h0M49.9 105.5h0M38.7 94.3h0M99.6 62.7h0M76.5 88.7h0M116.7 59.1h0M86.7 79.3h0M70.8 91.8h0M62.0 99.1h0M54.3 105.9h0M74.5 89.2h0M111.5 63.0h0M72.2 92.4h0M101.2 74.4h0M55.8 106.5h0M82.1 87.7h0M68.7 82.2h0M98.3 71.5h0M72.6 110.8h0M38.9 107.8h0M100.1 75.1h0M60.8 100.5h0M78.5 87.2h0M38.4 111.7h0M48.1 111.6h0M68.2 93.6h0M62.0 99.6h0M81.3 84.9h0M75.1 90.2h0M87.5 83.1h0M42.7 111.3h0M69.1 108.2h0M114.6 58.6h0M53.6 106.5h0M97.9 73.3h0M111.8 63.4h0M69.8 92.6h0M66.8 85.2h0M78.1 90.9h0M51.0 103.3h0M46.2 109.8h0M108.1 66.6h0M108.3 71.0h0M48.5 97.1h0M105.6 69.5h0M61.4 94.2h0M82.9 84.7h0M81.5 82.2h0M67.6 95.1h0M104.9 68.0h0M42.8 113.5h0M105.9 68.8h0M83.3 86.0h0M100.6 73.2h0M99.7 71.1h0M116.1 61.0h0M96.9 76.3h0M114.3 60.7h0M84.9 82.8h0M70.5 94.6h0M83.9 82.4h0M81.4 82.5h0M56.7 102.5h0M75.7 87.6h0M88.6 77.8h0M112.7 65.3h0M55.4 104.4h0M102.3 69.6h0M107.4 66.9h0M95.7 76.2h0M52.7 104.6h0M73.1 91.6h0M102.9 69.6h0M60.9 98.2h0M107.9 67.6h0M86.6 82.4h0M58.6 101.4h0M94.1 74.5h0M87.2 82.1h0M59.9 100.6h0M41.4 113.9h0M57.9 101.0h0M107.5 65.5h0M76.9 91.9h0M51.9 108.7h0M64.0 99.2h0M116.8 61.2h0M116.7 46.4h0M106.0 69.2h0M104.0 68.1h0M80.6 84.0h0M103.6 68.1h0M48.6 87.7h0M96.6 77.7h0M42.6 113.7h0M91.2 77.7h0M68.1 104.2h0M87.0 80.3h0M88.8 82.5h0M85.5 70.8h0M78.3 88.6h0M37.3 115.2h0M111.6 64.1h0M50.9 107.6h0M113.8 62.1h0M117.1 61.6h0M56.7 101.7h0M56.8 100.1h0M112.3 69.2h0M49.7 104.6h0M84.7 65.0h0M69.5 94.1h0M99.7 70.5h0M74.7 91.7h0M61.2 99.1h0M75.0 90.5h0M96.8 75.0h0M108.9 74.5h0M92.5 77.1h0M57.3 100.4h0M86.6 79.9h0M71.8 93.8h0M114.0 84.9h0M110.4 64.1h0M117.6 58.6h0M95.2 75.5h0M111.8 63.8h0M45.8 110.4h0M60.4 101.6h0M93.3 75.4h0M60.8 101.7h0M107.1 65.7h0M51.5 106.8h0M92.2 76.9h0M60.9 98.2h0M87.9 83.0h0M40.0 119.6h0M60.5 98.7h0M97.6 73.6h0M89.6 78.4h0M117.0 57.8h0M84.7 83.4h0M66.2 95.7h0M54.1 102.7h0M102.5 70.1h0M102.5 72.0h0M81.4 85.4h0M104.6 58.3h0M74.8 91.6h0M91.2 62.8h0M113.0 63.7h0M97.8 70.6h0M97.1 73.7h0M70.0 91.0h0M99.5 70.7h0M50.5 106.7h0M74.8 89.8h0M99.3 73.6h0M109.7 67.3h0M111.5 61.7h0M68.5 86.0h0M95.0 77.3h0M37.9 118.0h0M78.9 89.6h0M94.8 75.7h0M100.5 69.8h0M95.1 66.9h0M115.1 74.1h0M104.5 65.1h0M104.9 55.7h0M65.6 98.6h0M37.3 116.8h0M81.6 85.3h0M65.6 95.5h0M71.1 91.5h0M91.3 77.3h0M89.4 80.0h0M93.9 68.7h0M46.4 109.7h0M80.7 89.3h0M84.6 93.8h0M104.0 68.0h0M78.6 88.5h0M109.1 66.6h0M41.4 112.8h0M41.3 113.4h0M98.0 74.1h0M39.8 114.4h0M86.0 79.3h0M106.8 68.5h0M92.6 82.5h0M45.9 111.1h0M38.1 120.4h0M85.8 83.5h0M45.5 106.8h0M93.4 79.9h0M86.3 83.5h0M94.7 76.8h0M57.8 100.4h0M108.2 66.0h0M96.2 74.2h0M48.6 108.7h0M52.9 97.1h0M86.6 82.1h0M94.6 75.6h0M69.7 94.6h0M104.4 68.6h0M99.0 75.1h0M44.2 114.3h0M97.5 71.7h0M71.7 90.6h0M97.7 75.3h0M105.2 67.1h0M47.8 108.1h0M62.0 90.0h0M89.7 79.3h0M99.3 71.4h0M45.1 107.5h0M93.9 80.0h0M49.7 107.5h0M94.7 75.5h0M48.8 105.6h0M99.9 72.0h0M55.1 93.9h0M54.4 104.1h0M75.3 87.7h0M85.2 84.6h0M70.8 89.2h0M45.3 107.2h0M106.7 69.1h0M61.1 100.8h0M50.6 105.8h0M112.4 63.9h0M114.2 61.5h0M56.8 103.6h0M115.2 56.3h0M87.0 72.5h0M100.5 67.9h0M108.2 64.0h0M79.9 85.0h0M56.6 112.4h0M47.3 108.8h0M56.5 106.0h0M60.3 101.9h0M80.7 85.0h0M48.5 107.9h0M66.8 95.8h0M60.9 91.8h0M74.2 96.2h0M48.5 111.2h0M109.0 63.6h0M59.3 109.8h0M110.8 66.7h0M39.2 113.4h0M96.0 77.0h0M61.4 104.0h0M81.4 85.3h0M52.3 110.4h0M118.0 58.1h0M79.8 86.8h0M42.9 109.1h0M100.6 72.3h0M71.4 91.5h0M71.3 92.8h0M94.4 79.6h0M111.7 61.9h0M107.4 52.3h0M74.7 90.5h0M86.7 79.0h0M94.9 82.4h0M62.9 97.9h0M59.9 99.8h0M117.5 58.7h0M38.9 114.1h0M82.4 94.2h0M55.8 103.1h0M56.8 94.1h0M46.6 109.1h0M58.3 102.4h0M106.5 66.9h0M69.1 93.1h0M94.6 77.5h0M69.5 94.2h0M117.2 56.6h0M53.6 103.0h0M91.8 76.8h0M62.4 94.2h0M43.8 107.1h0M49.0 105.2h0M90.5 76.0h0M59.6 102.6h0M99.3 72.5h0M60.6 101.4h0M89.3 81.3h0M60.4 99.4h0M105.3 66.9h0M76.2 87.3h0M66.7 95.8h0M105.8 67.9h0M71.3 88.8h0M111.4 77.0h0M57.0 103.8h0M44.8 112.9h0M45.2 97.7h0M45.5 109.4h0M113.4 61.2h0M69.3 93.7h0M46.7 109.7h0M111.1 64.0h0M36.6 118.6h0M67.2 97.2h0M45.6 111.6h0M42.7 78.5h0M112.0 61.1h0M40.2 114.4h0M79.5 83.7h0M110.8 64.0h0M53.8 101.0h0M51.9 107.4h0M115.5 61.0h0M44.9 110.9h0M94.2 76.2h0M88.6 83.4h0M116.6 51.9h0M70.1 95.2h0M73.9 88.2h0M85.4 83.7h0M41.7 113.4h0M77.5 86.5h0M105.3 62.8h0M46.2 100.7h0M104.1 69.7h0M39.8 117.1h0M63.5 97.1h0M43.5 111.2h0M100.4 71.6h0M67.4 97.8h0M89.5 78.8h0M67.2 98.6h0M104.8 57.1h0M45.1 104.2h0M48.9 105.8h0M60.3 98.3h0M69.2 95.5h0M92.6 84.6h0M90.2 80.9h0M45.1 112.3h0M46.5 110.3h0M85.3 80.0h0M60.0 102.2h0M73.4 89.8h0M72.5 106.4h0M67.9 85.3h0M93.0 72.5h0M43.3 112.4h0M91.2 79.5h0M72.0 77.6h0M103.2 66.9h0M63.9 109.9h0M116.3 59.1h0M73.9 91.0h0M82.9 82.3h0M66.3 95.3h0M48.1 109.4h0M118.0 56.4h0M40.0 117.4h0M61.5 97.4h0M56.8 106.0h0M96.3 75.2h0M77.5 84.3h0M114.3 63.0h0M97.5 67.6h0M38.9 119.9h0M77.0 83.1h0M82.2 82.8h0M64.7 93.1h0M74.4 89.3h0M38.9 110.7h0M50.1 95.2h0M96.1 75.8h0M52.0 105.1h0M65.0 85.1h0M65.3 98.2h0M44.0 111.2h0M80.8 86.3h0M67.9 92.4h0M107.4 60.0h0M88.1 80.4h0M78.8 81.4h0M52.6 106.2h0M95.5 75.6h0M91.7 79.5h0M56.0 104.8h0M53.8 96.0h0M61.3 97.7h0M88.9 80.7h0M80.4 113.9h0M89.9 74.3h0M100.3 70.2h0M69.2 93.4h0M59.0 99.6h0M93.2 79.6h0M104.4 68.9h0M112.2 61.8h0M78.4 90.7h0M38.8 115.1h0M115.7 61.5h0M41.4 112.4h0M48.8 109.7h0M72.1 94.2h0M110.0 64.3h0M39.6 96.9h0M90.1 77.3h0M63.5 99.4h0M63.7 97.2h0M48.5 108.6h0M45.5 93.5h0M66.9 96.3h0M87.0 79.6h0M100.1 71.3h0M98.7 65.7h0M113.1 63.2h0M56.7 103.8h0M50.1 105.4h0M95.4 73.8h0M73.3 91.0h0M115.5 58.9h0M95.4 75.4h0M103.0 70.0h0M106.3 69.1h0M113.7 54.4h0M84.0 85.7h0M112.3 64.9h0M53.0 108.8h0M101.9 73.0h0M98.8 60.4h0M65.6 98.4h0M42.1 102.4h0M91.1 77.0h0M86.2 82.2h0M38.0 117.4h0M108.4 64.9h0M111.6 62.6h0M90.6 77.4h0M71.5 83.6h0M45.8 110.7h0M85.6 80.4h0M50.0 91.2h0M58.7 99.0h0M41.5 112.6h0M63.0 97.3h0M113.3 59.0h0M83.2 82.7h0M113.3 62.3h0M44.8 110.4h0M53.6 104.4h0M97.1 71.1h0M108.9 63.1h0M54.3 105.9h0M56.6 102.3h0M93.0 77.9h0M82.7 82.3h0M103.0 70.4h0M89.1 76.6h0M45.8 109.8h0M90.9 79.5h0M50.9 102.3h0M81.3 82.9h0M46.4 110.0h0M52.0 106.6h0M115.7 75.7h0M90.0 80.9h0M65.2 94.3h0M48.8 103.2h0M49.4 107.8h0M48.7 108.2h0M66.7 96.1h0M73.6 83.5h0M72.5 90.7h0M111.3 64.8h0M95.8 74.9h0M104.5 67.8h0M112.6 62.0h0M46.6 109.4h0M93.4 76.4h0M49.3 107.8h0M69.3 96.4h0M80.4 87.0h0M80.8 85.6h0M53.7 104.5h0M115.8 61.8h0M65.9 93.7h0M64.8 98.8h0M92.5 84.2h0M61.3 98.5h0M83.4 84.9h0M63.9 108.0h0M42.1 99.1h0M46.7 112.8h0M115.4 58.0h0M62.1 98.6h0M38.6 115.4h0M82.4 81.4h0M38.2 114.0h0M108.5 66.5h0M93.4 76.8h0M36.6 118.5h0M64.5 95.1h0M45.9 110.1h0M74.5 87.6h0M52.7 106.1h0M116.5 63.2h0M40.6 114.9h0M70.2 94.2h0M96.0 74.8h0M91.7 72.8h0M114.9 60.1h0M53.8 103.2h0M101.1 71.7h0M98.5 69.4h0M115.6 60.5h0M57.9 104.4h0M73.4 90.5h0M105.3 69.7h0M68.0 95.1h0M49.1 106.2h0M86.0 81.5h0M82.2 85.2h0M86.0 70.6h0M92.0 76.1h0M79.1 94.8h0M50.6 101.7h0M109.1 61.4h0M70.7 78.1h0M65.7 93.7h0M84.8 84.2h0M101.8 70.6h0M65.0 96.4h0M94.1 77.9h0M46.7 100.0h0M52.7 104.4h0M92.9 73.4h0M73.8 91.3h0M106.7 68.2h0M114.8 60.5h0M54.8 102.5h0M117.0 60.0h0M62.0 102.0h0M52.5 105.9h0M110.5 70.6h0M102.3 70.3h0M56.6 102.6h0M112.6 63.4h0M68.7 94.5h0M97.3 73.0h0M42.8 112.3h0M115.2 63.9h0M62.9 97.4h0M110.8 65.2h0M79.8 98.0h0M102.5 69.9h0M90.6 76.0h0M106.8 68.1h0M60.8 97.3h0M108.5 50.7h0M54.3 68.2h0M68.0 90.9h0M55.7 103.9h0M72.8 85.4h0M76.8 88.0h0M100.1 71.6h0M95.0 77.4h0M97.9 72.7h0M37.4 120.2h0M116.6 74.9h0M103.2 66.8h0M50.9 107.3h0M54.8 111.9h0M41.3 115.1h0M105.0 68.0h0M57.8 101.9h0M43.8 109.8h0M59.1 100.9h0M91.9 77.0h0M76.7 88.6h0M66.3 95.8h0M58.6 100.0h0M112.0 60.5h0M42.2 108.0h0M40.3 104.8h0M60.4 100.6h0M73.0 101.0h0M55.2 105.0h0M82.2 83.3h0M116.3 59.5h0M114.0 68.0h0M82.4 83.9h0M67.5 95.3h0M104.5 63.0h0M52.2 104.5h0M104.1 71.0h0M81.9 85.1h0M94.9 75.3h0M81.4 85.4h0M64.2 97.7h0M68.6 94.3h0M61.2 97.6h0M114.9 61.1h0M42.3 115.2h0M65.7 96.3h0M90.4 79.4h0M53.4 104.1h0M44.8 110.1h0M83.1 83.3h0M42.0 97.6h0M110.6 65.5h0M63.6 107.8h0M90.8 77.6h0M85.4 81.9h0M69.7 92.6h0M102.9 69.9h0M40.4 108.5h0M72.9 92.2h0M86.8 82.8h0M56.8 101.4h0M107.7 65.0h0M93.6 74.7h0M106.8 38.7h0M107.4 68.5h0M48.3 108.5h0M89.5 79.7h0M37.4 116.1h0M79.5 85.8h0M55.6 104.7h0M115.4 59.5h0M58.2 102.3h0M88.2 82.0h0M82.2 82.8h0M62.5 103.6h0M79.5 85.6h0M93.0 77.9h0M95.8 72.1h0M107.1 66.2h0M104.4 70.3h0M56.3 101.7h0M85.0 83.1h0M48.9 107.7h0M96.6 74.1h0M59.4 103.6h0M44.9 109.7h0M65.0 96.5h0M84.2 78.8h0M73.1 90.9h0M43.2 111.6h0M99.1 70.4h0M70.1 93.2h0M95.7 69.8h0M45.1 110.8h0M51.7 105.7h0M54.0 102.2h0M85.9 83.9h0M91.9 80.1h0M71.4 92.4h0M100.8 70.7h0M44.7 106.9h0M111.9 49.8h0M41.9 113.8h0M66.1 93.5h0M56.1 102.6h0M84.7 85.5h0M54.3 106.9h0M103.9 69.7h0M115.5 59.4h0M117.8 60.1h0M75.2 85.7h0M60.8 102.0h0M40.4 111.4h0M111.8 66.6h0M69.4 91.3h0M104.4 64.8h0M96.4 75.4h0M54.0 92.2h0M77.1 88.0h0M111.7 64.4h0M113.9 61.3h0M74.1 88.9h0M87.2 69.2h0M68.6 74.2h0M40.4 111.0h0M93.3 75.4h0M45.0 101.1h0M49.7 110.1h0M39.4 113.8h0M64.5 103.1h0M44.8 113.4h0M85.8 81.9h0M68.6 101.2h0M53.1 103.6h0M40.0 115.3h0M87.1 82.1h0M103.7 70.4h0M68.6 92.5h0M71.8 108.5h0M69.2 94.4h0M104.6 68.1h0M63.2 87.0h0M82.5 83.2h0M38.8 109.6h0M47.7 113.3h0M66.6 94.0h0M109.2 66.9h0M80.0 85.1h0M111.4 63.0h0M102.1 70.5h0M92.3 78.8h0M72.8 91.0h0M108.8 65.5h0M62.2 101.6h0M85.3 76.7h0M107.1 70.3h0M83.1 82.1h0M109.5 62.9h0M95.0 83.0h0M52.1 103.5h0M66.7 97.1h0M79.4 100.8h0M86.9 82.5h0M89.8 79.6h0M115.1 61.1h0M56.1 99.3h0M61.2 100.3h0M55.7 104.4h0M71.2 91.5h0M58.5 114.6h0M114.4 73.9h0M80.8 84.5h0M103.5 67.5h0M45.1 112.2h0M39.5 114.1h0M42.9 89.9h0M81.6 84.4h0M111.0 64.1h0M47.4 116.1h0M73.3 97.9h0M87.4 112.0h0M63.4 105.1h0M59.9 105.5h0M93.2 78.1h0M60.1 98.6h0M96.3 77.6h0M41.2 63.4h0M89.7 75.6h0M99.6 78.4h0M91.6 76.4h0M78.7 87.4h0M60.7 100.7h0M94.9 74.1h0M55.3 111.7h0M42.4 105.4h0M51.0 96.3h0M94.8 75.3h0M67.4 94.4h0M70.9 88.5h0M100.3 76.1h0M83.3 81.7h0M42.9 113.9h0M113.3 55.0h0M113.9 61.5h0M71.9 80.8h0M57.9 116.9h0M120.9 48.2h0M134.3 43.3h0M129.4 50.2h0M119.9 61.1h0M132.7 49.6h0M123.4 53.9h0M125.4 54.4h0M132.4 49.4h0M132.4 51.4h0M130.4 48.2h0M136.4 50.8h0M126.2 54.9h0M126.4 49.2h0M118.8 55.0h0M124.5 48.3h0M120.9 55.1h0M119.8 46.8h0M130.0 49.7h0M131.4 57.4h0M134.0 48.0h0M127.4 51.4h0M130.9 50.5h0M132.8 46.4h0M120.0 58.8h0M135.3 46.9h0M130.8 41.1h0M119.3 61.5h0M129.7 55.0h0M124.1 54.2h0M124.0 56.9h0M133.5 46.3h0M123.5 58.8h0M134.8 47.2h0M127.1 52.3h0M124.9 55.1h0M132.6 47.4h0M126.2 54.1h0M135.6 47.3h0M120.2 55.9h0M124.2 57.8h0M131.5 50.8h0M135.9 46.7h0M122.7 48.0h0M137.0 45.9h0M118.4 54.9h0M119.0 72.9h0M136.3 47.1h0M130.8 50.2h0M120.2 50.9h0M131.3 52.2h0M126.2 52.2h0M124.2 53.2h0M130.0 49.6h0M136.5 47.7h0M127.9 48.8h0M127.6 53.5h0M127.0 53.2h0M135.5 47.1h0M129.9 50.5h0M128.9 52.6h0M137.0 46.1h0M131.3 46.3h0M136.2 46.8h0M134.7 47.7h0M136.1 49.0h0M134.5 46.2h0M118.7 60.0h0M133.7 50.0h0M128.7 50.8h0M130.9 51.4h0M128.5 53.4h0M123.0 56.5h0M126.2 53.4h0M124.3 57.8h0M128.2 52.8h0M133.1 48.3h0M126.3 54.1h0M118.2 59.5h0M130.2 52.2h0M136.1 46.8h0M120.3 60.5h0M119.0 36.1h0M128.7 49.5h0M124.1 56.7h0M126.9 53.2h0M121.8 55.3h0M136.6 52.6h0M119.0 60.3h0M125.6 52.7h0M127.2 63.8h0M124.9 54.5h0M135.1 47.6h0M128.8 42.7h0M120.5 57.5h0M119.6 76.4h0M123.3 53.0h0M132.0 47.9h0M122.2 56.4h0M131.3 44.7h0M118.5 57.1h0M133.3 47.1h0M136.2 47.5h0M119.7 55.9h0M136.3 46.1h0M140.4 43.1h0M139.2 45.4h0M142.9 41.4h0M139.2 44.3h0M143.0 48.1h0M141.3 43.8h0M140.0 44.2h0M140.1 43.4h0M144.0 40.9h0M140.4 45.0h0M143.7 41.1h0M140.6 43.9h0M143.5 41.0h0M142.1 42.1h0M136.3 46.2h0M138.2 44.6h0M139.2 44.6h0M143.2 42.7h0M137.9 45.1h0M138.3 50.0h0M137.2 45.7h0M143.7 41.5h0M139.1 45.8h0M140.7 42.8h0M141.2 42.5h0M139.6 44.5h0M142.4 49.8h0M141.4 42.7h0M139.7 46.6h0M141.7 45.0h0M139.5 45.5h0M141.4 43.2h0M142.4 43.7h0M140.1 43.8h0M140.6 43.6h0M137.6 45.1h0M138.2 44.7h0M142.4 43.8h0M142.5 41.9h0M143.3 41.8h0M140.9 44.9h0M138.1 45.2h0M141.2 42.6h0M143.3 47.0h0M142.6 46.8h0M144.2 40.4h0M144.3 40.8h0M142.4 41.7h0M143.1 41.6h0M138.2 45.5h0M136.6 46.1h0M141.7 42.9h0M142.3 42.9h0M139.4 44.1h0M140.3 43.4h0M140.3 43.8h0M139.4 45.1h0M141.7 42.9h0M142.7 42.2h0M143.3 41.8h0M141.7 42.6h0M141.9 42.4h0M138.9 45.4h0M142.6 41.6h0M137.8 48.3h0M139.6 43.8h0M142.4 42.1h0M138.4 45.8h0M142.6 41.6h0M141.3 43.2h0M139.4 47.8h0M142.9 43.0h0M138.3 44.8h0M142.1 42.3h0M140.6 43.6h0M141.6 42.9h0M143.4 41.8h0M142.3 51.5h0M143.0 41.5h0M142.8 42.7h0M141.2 42.9h0M142.8 44.4h0M141.8 45.3h0M141.2 43.9h0M140.5 43.2h0M145.8 39.4h0M144.2 40.4h0M140.9 42.9h0M139.2 44.5h0M145.0 39.9h0M142.5 43.5h0M139.4 45.5h0M140.5 42.9h0M141.0 43.7h0M144.4 40.7h0M143.0 41.6h0M139.7 43.7h0M143.0 42.0h0M141.4 42.7h0M143.6 40.8h0M140.3 43.5h0M141.7 42.6h0M139.6 44.2h0M143.3 41.2h0M138.3 45.3h0M140.6 44.0h0M139.8 43.8h0M145.3 39.9h0M141.9 42.1h0M145.6 39.8h0M144.6 40.5h0M139.4 48.6h0M143.2 41.9h0M144.1 42.5h0M141.4 43.0h0M145.3 39.7h0M138.3 44.6h0M140.4 43.3h0M145.2 46.5h0M139.1 44.1h0M142.3 43.9h0M138.7 45.1h0M137.7 46.7h0M139.8 44.8h0M139.4 47.0h0M141.3 43.3h0M170.7 23.6h0M150.1 41.6h0M156.5 40.3h0M166.2 32.4h0M171.8 35.3h0" stroke="#008000" stroke-width="1.8" stroke-linecap="square" fill="none"/>
<line x1="30.69" y1="121.15" x2="172.41" y2="20.25" stroke="#000" stroke-width="1" stroke-dasharray="2.2 1.3"/>
<rect x="26.40" y="18.40" width="6.2" height="5.6" rx="1.5" stroke="#dddddd" stroke-width="0.8" fill="#fff" fill-opacity="0.8"/>
<text x="42.20" y="33.70" font-size="10.5" font-weight="bold">(a)</text>
<text x="101.55" y="12.70" font-size="9.6" text-anchor="middle">Random Forest</text>
<text x="30.69" y="135.10" font-size="7.8" text-anchor="middle">0</text>
<text x="20.70" y="123.95" font-size="7.8" text-anchor="end">0</text>
<text x="69.52" y="135.10" font-size="7.8" text-anchor="middle">2</text>
<text x="20.70" y="96.31" font-size="7.8" text-anchor="end">2</text>
<text x="108.35" y="135.10" font-size="7.8" text-anchor="middle">4</text>
<text x="20.70" y="68.66" font-size="7.8" text-anchor="end">4</text>
<text x="147.17" y="135.10" font-size="7.8" text-anchor="middle">6</text>
<text x="20.70" y="41.02" font-size="7.8" text-anchor="end">6</text>
<text x="101.55" y="144.60" font-size="8.6" text-anchor="middle">Actual Band Gap (eV)</text>
<text transform="translate(11.80 70.70) rotate(-90)" x="0" y="0" font-size="8.8" text-anchor="middle">Predicted Band Gap (eV)</text>
<path d="M212.93 15.20V126.20M205.80 121.15H362.60M251.98 15.20V126.20M205.80 93.51H362.60M291.03 15.20V126.20M205.80 65.86H362.60M330.09 15.20V126.20M205.80 38.22H362.60" stroke="#dedede" stroke-width="0.8" fill="none"/>
<rect x="205.80" y="15.20" width="156.80" height="111.00" stroke="#dedede" stroke-width="0.8" fill="none"/>
<path d="M213.6 120.4h0M213.0 121.0h0M213.7 121.1h0M213.4 121.1h0M213.6 120.8h0M213.4 121.1h0M213.6 121.0h0M213.1 121.1h0M213.1 120.2h0M213.4 120.7h0M213.5 121.1h0M213.3 120.9h0M213.1 121.0h0M214.1 121.1h0M214.2 120.8h0M213.8 121.1h0M213.0 120.9h0M213.4 121.0h0M213.0 120.6h0M213.1 121.2h0M213.0 121.0h0M213.3 121.0h0M213.2 120.7h0M213.0 120.7h0M213.5 120.8h0M213.2 121.1h0M213.0 120.9h0M214.2 120.9h0M213.2 120.4h0M214.1 121.1h0M213.2 121.0h0M213.1 120.4h0M213.5 120.8h0M213.3 121.0h0M213.4 120.6h0M213.4 120.7h0M213.8 120.9h0M213.3 121.0h0M213.0 120.3h0M213.7 120.9h0M213.8 121.1h0M213.0 120.8h0M213.0 120.5h0M213.1 120.4h0M213.4 120.9h0M213.1 121.0h0M213.3 121.0h0M213.2 120.8h0M213.1 120.7h0M214.0 121.1h0M213.5 120.2h0M213.1 120.7h0M213.2 120.5h0M213.2 120.9h0M213.0 120.9h0M213.1 121.0h0M214.0 120.8h0M213.6 121.0h0M213.7 121.1h0M213.6 120.7h0M213.3 120.8h0M213.0 120.9h0M213.7 120.7h0M213.2 121.2h0M213.1 120.8h0M213.8 120.9h0M213.1 120.8h0M213.1 121.1h0M213.0 121.1h0M212.9 121.1h0M213.6 121.1h0M213.2 120.7h0M213.4 120.9h0M213.0 120.9h0M213.6 121.0h0M213.6 120.7h0M213.0 121.1h0M213.5 121.1h0M213.2 120.8h0M213.5 121.0h0M213.6 120.7h0M214.0 120.8h0M213.0 120.8h0M213.1 120.3h0M213.4 120.9h0M213.3 121.1h0M213.0 120.5h0M213.1 120.5h0M213.5 120.8h0M213.0 120.6h0M213.1 121.1h0M213.3 121.1h0M213.5 121.0h0M213.9 121.0h0M213.1 120.7h0M213.6 120.9h0M213.0 120.9h0M213.7 120.9h0M213.3 120.8h0M213.8 121.1h0M213.5 120.2h0M213.0 120.9h0M213.4 120.6h0M213.1 120.8h0M213.0 120.7h0M213.3 121.0h0M213.2 120.1h0M213.3 121.0h0M213.4 120.4h0M213.4 120.9h0M213.0 120.8h0M213.0 121.1h0M213.3 121.0h0M213.7 121.1h0M213.8 121.0h0M213.1 121.0h0M213.2 120.9h0M213.7 120.7h0M213.7 120.9h0M214.5 121.0h0M231.4 108.5h0M213.3 120.5h0M223.7 113.5h0M216.3 118.3h0M215.8 118.5h0M218.1 117.9h0M233.3 107.6h0M221.4 114.9h0M218.4 116.6h0M217.6 118.2h0M219.4 117.1h0M214.5 119.8h0M217.7 118.3h0M285.7 69.0h0M230.0 108.7h0M213.3 121.1h0M233.3 106.8h0M213.8 121.0h0M229.1 109.4h0M239.5 102.4h0M219.7 117.0h0M215.4 120.0h0M223.8 113.6h0M221.8 115.2h0M218.2 116.9h0M236.3 104.9h0M304.7 56.6h0M217.0 118.5h0M229.5 109.3h0M217.8 117.3h0M213.4 120.7h0M213.3 121.0h0M219.6 116.1h0M277.9 75.3h0M224.9 112.2h0M233.0 106.6h0M218.0 117.1h0M213.7 121.0h0M226.1 111.7h0M231.8 107.2h0M243.6 99.3h0M233.3 107.3h0M215.0 119.5h0M223.5 113.7h0M222.6 115.4h0M220.1 116.6h0M219.5 116.6h0M215.1 119.0h0M214.4 119.8h0M229.0 109.9h0M217.9 117.3h0M220.3 115.0h0M217.9 117.9h0M230.2 109.1h0M244.4 99.1h0M225.5 112.5h0M221.0 115.9h0M216.0 118.8h0M222.1 114.9h0M231.9 107.3h0M220.3 115.4h0M217.4 118.2h0M216.2 118.7h0M225.1 112.2h0M230.0 109.0h0M220.0 116.2h0M225.9 112.1h0M241.3 101.7h0M216.1 119.4h0M223.6 113.9h0M225.4 112.3h0M227.9 110.9h0M240.0 102.3h0M226.6 111.3h0M221.3 115.0h0M213.8 120.0h0M218.5 117.3h0M215.7 119.8h0M219.7 116.5h0M228.7 109.6h0M251.8 93.3h0M225.2 113.5h0M242.4 99.8h0M214.4 120.1h0M213.4 120.8h0M232.4 107.4h0M215.8 118.7h0M218.4 116.6h0M220.0 116.1h0M224.4 112.2h0M213.7 120.4h0M235.1 105.6h0M215.6 118.9h0M216.1 118.6h0M217.1 118.2h0M226.7 111.5h0M228.2 109.9h0M225.0 112.4h0M242.4 100.5h0M216.9 118.7h0M220.9 116.9h0M214.9 119.7h0M218.4 117.4h0M216.4 119.4h0M218.3 117.5h0M299.1 60.6h0M214.8 120.3h0M215.8 118.9h0M221.8 115.8h0M224.0 113.8h0M227.5 111.1h0M215.8 118.3h0M213.3 121.1h0M228.5 110.4h0M218.4 116.8h0M218.7 117.3h0M214.5 120.9h0M217.7 118.0h0M214.6 120.3h0M229.0 110.3h0M217.5 118.1h0M215.3 119.1h0M233.7 106.1h0M219.0 117.1h0M235.1 105.3h0M237.7 103.7h0M220.3 116.5h0M216.3 119.3h0M222.3 114.3h0M219.3 116.4h0M217.5 117.3h0M213.8 120.8h0M214.9 118.8h0M242.2 100.4h0M221.0 115.3h0M234.1 105.9h0M222.0 114.3h0M222.8 113.8h0M214.8 120.0h0M260.0 88.2h0M236.9 104.7h0M227.3 111.4h0M225.2 111.7h0M244.0 99.7h0M229.6 109.8h0M216.2 119.2h0M248.3 95.7h0M227.4 110.8h0M241.0 101.9h0M219.5 115.6h0M233.8 106.9h0M225.3 111.9h0M233.2 107.2h0M222.5 114.6h0M213.3 121.1h0M230.9 108.1h0M214.3 119.6h0M229.9 108.8h0M213.3 121.0h0M241.5 100.6h0M229.3 109.8h0M220.4 116.1h0M268.8 81.6h0M217.8 118.2h0M215.1 119.5h0M216.0 118.7h0M232.3 106.5h0M215.4 119.6h0M214.0 120.0h0M216.0 119.3h0M215.0 118.9h0M220.7 115.7h0M214.6 120.1h0M220.6 116.0h0M220.2 116.4h0M215.0 119.9h0M223.1 114.5h0M230.2 109.2h0M228.5 110.2h0M227.7 111.4h0M220.6 115.4h0M229.8 109.6h0M217.9 117.7h0M219.6 116.7h0M214.2 119.6h0M213.8 120.6h0M214.5 120.2h0M220.5 116.2h0M215.3 119.1h0M228.4 110.8h0M214.7 119.6h0M214.7 119.7h0M215.3 119.5h0M221.1 115.5h0M222.0 114.5h0M224.0 113.3h0M216.5 118.9h0M225.4 111.7h0M217.2 118.1h0M251.6 93.2h0M222.8 114.0h0M218.7 116.9h0M213.5 120.8h0M216.6 118.8h0M220.6 115.8h0M216.2 118.5h0M223.5 114.0h0M228.0 110.9h0M228.0 110.5h0M223.1 114.1h0M233.1 107.6h0M223.6 114.4h0M226.8 111.1h0M218.5 116.9h0M219.8 116.0h0M222.9 113.5h0M214.4 120.1h0M227.6 111.6h0M217.7 117.7h0M231.4 108.1h0M213.3 120.4h0M217.0 117.4h0M213.3 120.8h0M217.4 118.0h0M213.3 121.1h0M224.8 113.1h0M240.4 101.9h0M215.9 119.6h0M223.3 113.8h0M219.9 116.5h0M214.9 119.6h0M221.7 114.5h0M217.1 118.1h0M214.9 119.9h0M250.7 94.0h0M215.8 119.1h0M225.5 112.6h0M229.6 109.6h0M216.1 119.6h0M215.3 119.5h0M219.0 116.3h0M214.5 120.1h0M220.7 115.3h0M217.5 118.2h0M216.0 119.4h0M213.3 120.9h0M233.3 107.0h0M215.2 119.4h0M219.6 117.0h0M225.2 112.8h0M217.7 117.8h0M221.2 115.0h0M242.0 100.0h0M218.6 117.2h0M221.2 114.9h0M228.9 110.2h0M214.7 119.2h0M213.9 121.0h0M214.0 120.2h0M218.9 116.4h0M252.1 92.1h0M216.1 118.9h0M238.5 102.9h0M254.1 91.7h0M252.7 93.2h0M274.6 77.2h0M298.4 60.9h0M271.5 79.8h0M248.7 95.9h0M235.2 104.9h0M294.9 63.3h0M281.1 72.6h0M242.2 100.1h0M274.1 77.7h0M234.4 106.0h0M285.8 69.7h0M269.0 81.9h0M254.1 92.1h0M272.9 78.3h0M254.2 91.0h0M270.1 80.9h0M268.2 81.5h0M271.9 79.7h0M257.6 89.4h0M219.4 116.6h0M268.0 82.0h0M233.4 106.8h0M225.4 112.5h0M266.9 83.6h0M238.1 103.6h0M243.3 100.0h0M273.3 78.8h0M238.9 102.5h0M298.5 60.5h0M259.1 89.0h0M266.9 83.0h0M239.3 102.4h0M219.1 116.0h0M219.4 116.4h0M285.3 70.1h0M229.7 109.0h0M280.3 73.0h0M229.0 109.8h0M263.4 85.5h0M276.8 76.3h0M268.7 82.3h0M281.4 72.4h0M270.3 80.7h0M267.4 82.3h0M240.3 101.7h0M265.1 84.6h0M232.9 106.7h0M258.1 89.2h0M251.4 94.3h0M280.6 73.6h0M255.0 91.7h0M240.7 101.2h0M223.4 113.7h0M260.5 87.3h0M231.8 107.0h0M297.8 61.0h0M238.3 102.7h0M275.3 76.7h0M230.3 109.2h0M294.7 62.1h0M282.3 72.5h0M287.5 68.5h0M276.3 76.1h0M293.6 63.6h0M258.6 89.3h0M265.8 84.1h0M262.9 86.2h0M299.9 60.4h0M222.0 114.7h0M265.0 84.2h0M284.6 70.9h0M231.3 108.1h0M273.2 78.7h0M251.7 92.9h0M220.2 115.8h0M282.4 71.8h0M285.9 69.7h0M258.4 88.5h0M290.1 67.1h0M228.7 109.9h0M230.9 108.3h0M288.0 68.2h0M269.7 80.7h0M267.4 82.8h0M229.3 109.9h0M239.9 101.8h0M288.8 67.7h0M264.7 83.9h0M262.6 86.4h0M264.7 83.9h0M300.4 59.3h0M246.7 97.3h0M264.8 84.8h0M260.7 87.9h0M232.8 107.3h0M226.7 111.4h0M256.7 90.2h0M276.6 76.5h0M282.0 72.3h0M244.3 98.7h0M228.4 109.3h0M297.8 61.1h0M279.0 74.3h0M269.9 81.0h0M254.9 91.0h0M231.8 108.2h0M286.6 68.7h0M240.9 102.1h0M229.6 108.8h0M277.0 75.5h0M228.5 110.4h0M235.0 105.2h0M243.4 99.3h0M223.2 114.0h0M245.3 98.6h0M261.2 86.9h0M253.0 93.2h0M283.8 70.9h0M227.5 110.9h0M229.3 109.3h0M241.0 100.8h0M283.4 71.1h0M293.4 64.2h0M221.1 115.0h0M258.8 88.6h0M243.8 99.1h0M266.7 82.4h0M228.8 110.1h0M283.2 72.0h0M226.3 111.9h0M268.2 81.7h0M251.3 94.3h0M261.9 86.3h0M241.8 100.9h0M298.0 60.7h0M268.3 81.8h0M221.7 115.3h0M223.0 113.4h0M250.4 95.0h0M223.9 113.8h0M293.6 64.0h0M272.5 79.0h0M250.4 94.2h0M293.1 64.4h0M219.2 116.9h0M280.9 73.4h0M283.7 71.1h0M299.0 59.6h0M291.3 66.3h0M243.3 99.8h0M272.8 78.4h0M230.2 109.1h0M242.7 100.5h0M270.3 80.6h0M252.4 93.7h0M278.2 74.9h0M283.9 70.6h0M246.2 97.8h0M261.6 87.1h0M281.6 73.2h0M297.2 60.7h0M276.7 76.4h0M238.6 103.1h0M298.7 60.2h0M271.8 80.1h0M278.6 74.0h0M224.5 113.1h0M266.4 82.9h0M278.6 74.0h0M241.6 101.0h0M247.5 97.0h0M291.5 65.1h0M263.4 85.6h0M235.0 105.7h0M252.2 93.2h0M225.0 112.9h0M267.6 82.7h0M282.7 71.6h0M295.5 63.3h0M237.9 103.9h0M231.1 108.4h0M238.9 102.5h0M256.1 90.3h0M233.0 106.3h0M231.0 108.1h0M226.1 112.3h0M274.9 77.1h0M282.0 72.8h0M262.3 86.5h0M296.6 62.1h0M274.1 77.3h0M283.2 71.6h0M296.2 61.8h0M249.4 95.1h0M244.9 98.7h0M262.6 85.8h0M270.3 79.9h0M254.1 92.1h0M227.4 110.9h0M287.1 68.9h0M293.9 63.7h0M257.8 89.6h0M269.9 81.8h0M283.8 70.7h0M250.7 94.6h0M255.9 91.4h0M247.5 96.7h0M245.7 98.4h0M290.4 66.1h0M276.5 76.0h0M232.9 106.4h0M275.8 76.4h0M265.6 83.6h0M236.1 104.3h0M237.5 103.2h0M293.3 64.7h0M224.7 112.1h0M225.6 112.3h0M283.7 71.5h0M239.1 102.7h0M269.0 82.4h0M260.4 87.3h0M221.3 115.1h0M296.0 62.6h0M245.1 98.6h0M247.6 96.5h0M288.3 67.5h0M253.7 92.5h0M226.3 112.1h0M220.4 115.9h0M258.0 90.0h0M274.2 77.8h0M227.2 110.3h0M264.5 85.3h0M245.3 98.0h0M241.1 100.8h0M262.3 86.1h0M274.1 78.1h0M300.5 59.2h0M262.4 85.5h0M237.4 104.0h0M235.4 105.3h0M299.8 60.5h0M278.8 75.0h0M246.0 97.2h0M242.0 100.6h0M274.6 77.4h0M279.4 74.6h0M269.3 81.0h0M278.0 75.0h0M243.8 99.8h0M260.4 88.3h0M289.0 67.1h0M245.4 97.9h0M264.9 84.3h0M243.5 99.0h0M242.0 100.5h0M290.8 66.3h0M300.0 59.8h0M256.3 90.2h0M253.6 92.6h0M221.7 114.0h0M226.5 112.2h0M223.3 113.7h0M237.7 103.4h0M261.5 87.0h0M240.6 100.6h0M278.4 74.9h0M286.5 69.7h0M250.1 95.3h0M297.3 61.4h0M261.9 86.2h0M244.5 98.3h0M293.8 63.8h0M269.1 81.4h0M287.0 67.8h0M244.7 99.2h0M248.9 96.7h0M299.2 60.7h0M224.1 113.1h0M251.4 94.4h0M286.1 69.7h0M244.3 98.3h0M228.6 110.1h0M260.9 86.6h0M223.0 114.1h0M222.8 115.0h0M230.1 109.3h0M219.9 116.6h0M277.9 74.6h0M219.4 117.0h0M253.9 91.3h0M235.3 104.8h0M258.6 88.8h0M299.8 59.7h0M269.7 80.5h0M235.3 105.3h0M247.7 96.4h0M231.3 108.5h0M224.6 113.2h0M256.7 89.9h0M284.6 70.8h0M266.1 83.5h0M240.6 101.2h0M274.3 78.1h0M252.2 93.8h0M263.3 85.4h0M244.1 98.8h0M293.6 64.1h0M261.1 86.8h0M278.7 74.6h0M272.8 78.3h0M219.2 117.1h0M269.1 81.4h0M279.9 74.2h0M286.3 69.3h0M300.4 59.2h0M253.0 92.3h0M257.2 89.6h0M232.0 108.0h0M283.2 70.7h0M270.6 80.9h0M247.1 96.8h0M228.7 109.7h0M225.2 113.3h0M249.2 95.3h0M286.5 68.3h0M264.5 85.1h0M230.3 108.6h0M288.8 68.4h0M257.8 89.5h0M222.0 114.8h0M255.7 91.3h0M295.1 62.8h0M296.8 61.9h0M274.5 77.7h0M245.8 97.7h0M243.8 98.8h0M287.5 68.4h0M244.0 98.9h0M247.3 96.2h0M288.9 67.7h0M251.7 93.6h0M228.8 110.1h0M272.9 78.7h0M297.1 61.3h0M222.0 114.6h0M228.1 110.2h0M253.3 93.1h0M250.2 95.1h0M250.0 95.0h0M296.8 61.7h0M254.7 91.3h0M222.8 114.6h0M239.4 102.4h0M263.9 85.0h0M224.9 112.7h0M282.8 71.1h0M259.1 88.9h0M259.8 87.8h0M238.8 103.4h0M256.8 89.8h0M256.2 90.3h0M268.2 82.0h0M255.7 90.8h0M220.3 116.5h0M244.0 98.6h0M266.5 82.7h0M252.5 92.6h0M293.2 64.2h0M239.4 103.0h0M287.5 68.7h0M284.8 70.0h0M232.4 107.1h0M264.4 84.1h0M288.4 68.0h0M296.7 61.7h0M264.4 84.7h0M237.3 104.1h0M279.5 73.8h0M254.7 91.5h0M226.3 111.9h0M224.8 113.0h0M280.3 73.2h0M259.3 88.4h0M236.4 104.2h0M238.7 103.6h0M249.1 95.2h0M263.1 85.4h0M292.0 65.1h0M288.5 67.9h0M240.5 102.2h0M238.2 102.8h0M298.9 60.2h0M245.6 98.7h0M254.3 92.5h0M224.0 113.5h0M259.0 88.4h0M255.5 91.0h0M243.2 99.6h0M269.5 80.9h0M277.4 75.5h0M225.8 111.9h0M294.3 63.7h0M284.0 70.7h0M293.2 63.9h0M288.1 68.8h0M232.2 108.3h0M266.5 82.4h0M264.1 85.0h0M267.5 83.3h0M275.3 77.9h0M288.6 67.9h0M235.8 105.4h0M298.3 61.0h0M285.1 70.1h0M277.7 75.2h0M276.5 76.6h0M252.5 92.4h0M221.5 115.0h0M231.0 108.2h0M262.9 86.3h0M273.8 78.2h0M270.1 80.1h0M223.3 113.2h0M235.3 105.3h0M290.7 66.7h0M237.0 104.0h0M269.2 81.2h0M228.1 110.1h0M272.1 79.1h0M299.2 59.9h0M248.5 96.0h0M300.1 58.7h0M231.2 108.1h0M281.6 72.3h0M221.1 114.9h0M244.9 98.6h0M249.3 95.1h0M263.7 85.4h0M270.7 79.5h0M300.7 59.2h0M291.5 65.4h0M264.1 84.6h0M297.5 61.9h0M250.5 94.5h0M283.9 71.1h0M220.5 115.7h0M236.0 105.3h0M283.9 70.9h0M297.1 61.8h0M297.2 62.0h0M297.0 61.4h0M244.4 98.8h0M275.5 76.5h0M229.7 108.9h0M280.5 73.6h0M290.1 66.8h0M255.4 91.6h0M241.4 101.0h0M268.8 81.6h0M266.5 84.2h0M242.0 99.8h0M247.5 96.7h0M244.6 98.9h0M251.7 93.9h0M239.0 102.5h0M238.5 103.3h0M238.0 103.3h0M235.5 106.0h0M271.7 80.2h0M275.1 76.7h0M284.6 71.2h0M244.8 98.7h0M287.9 68.3h0M288.9 67.5h0M220.1 116.2h0M252.6 92.9h0M232.1 107.5h0M242.2 100.5h0M295.0 63.2h0M232.8 106.9h0M296.5 62.5h0M271.6 79.9h0M235.1 105.6h0M271.7 80.0h0M290.3 66.4h0M284.2 71.1h0M289.6 67.3h0M280.1 72.9h0M261.7 86.3h0M248.0 96.5h0M278.8 74.3h0M248.7 96.2h0M285.6 70.0h0M247.1 97.6h0M273.1 78.3h0M243.7 99.6h0M282.6 71.0h0M250.7 94.0h0M226.9 111.6h0M265.4 84.4h0M262.8 85.8h0M232.8 106.4h0M284.0 71.0h0M268.4 81.7h0M298.6 60.8h0M255.9 90.7h0M259.0 88.6h0M261.9 86.5h0M283.5 70.9h0M237.7 104.0h0M263.5 85.1h0M271.3 79.9h0M298.3 60.4h0M283.2 71.2h0M295.3 62.4h0M262.8 85.9h0M221.6 114.8h0M255.9 90.2h0M227.0 110.8h0M227.6 111.0h0M226.1 112.4h0M274.6 77.2h0M249.0 95.9h0M227.8 110.5h0M230.7 107.6h0M257.6 89.8h0M254.1 91.6h0M286.0 69.5h0M290.2 66.9h0M261.4 86.6h0M283.6 71.2h0M276.9 75.7h0M270.9 80.1h0M297.1 62.0h0M238.3 103.2h0M237.0 104.0h0M270.4 80.5h0M239.9 102.6h0M238.7 103.0h0M279.0 74.0h0M228.7 109.4h0M268.6 82.1h0M259.8 87.7h0M231.3 108.2h0M227.1 111.1h0M235.4 105.4h0M268.8 81.3h0M262.8 86.1h0M235.6 104.9h0M226.0 111.2h0M239.0 102.6h0M261.3 86.8h0M275.4 76.8h0M265.4 84.7h0M238.7 103.0h0M239.1 102.9h0M229.8 109.0h0M258.9 88.4h0M226.6 111.5h0M275.3 76.9h0M256.9 90.4h0M220.2 116.0h0M243.6 100.3h0M257.8 89.4h0M263.0 86.0h0M264.2 84.9h0M300.5 58.9h0M264.3 84.3h0M266.8 82.6h0M278.3 75.3h0M245.7 97.8h0M238.7 103.5h0M281.4 73.0h0M294.4 63.9h0M224.1 113.5h0M259.1 87.7h0M259.0 89.3h0M272.4 78.9h0M295.6 63.1h0M283.3 71.3h0M255.9 90.6h0M246.5 97.2h0M245.3 98.1h0M228.6 110.8h0M221.5 115.7h0M227.1 111.3h0M230.5 109.0h0M224.7 112.8h0M279.3 73.6h0M234.2 106.5h0M273.3 78.5h0M275.5 76.9h0M262.8 86.2h0M294.0 62.7h0M239.7 103.0h0M253.4 92.8h0M252.2 93.4h0M275.3 77.4h0M279.5 74.8h0M264.2 84.6h0M221.5 114.8h0M266.8 83.2h0M258.1 90.3h0M290.9 66.4h0M290.9 65.0h0M270.8 80.7h0M219.9 115.8h0M263.1 86.2h0M279.8 74.3h0M274.5 77.4h0M222.8 114.8h0M248.4 95.7h0M226.6 111.3h0M288.4 68.2h0M246.6 96.8h0M227.7 110.7h0M223.1 114.1h0M227.7 110.4h0M225.0 112.3h0M248.6 96.2h0M292.0 64.4h0M261.7 86.9h0M281.6 72.0h0M238.9 103.2h0M287.6 68.1h0M286.6 68.7h0M262.3 86.6h0M283.4 71.7h0M219.7 116.2h0M296.1 61.9h0M260.6 87.0h0M227.5 111.1h0M299.3 60.3h0M267.8 82.3h0M240.4 101.4h0M233.8 105.4h0M238.9 103.6h0M268.3 82.4h0M220.7 115.2h0M267.3 81.9h0M292.9 64.1h0M250.6 95.0h0M291.0 66.0h0M277.6 75.5h0M264.0 84.8h0M246.5 97.4h0M257.7 88.9h0M273.6 78.0h0M226.8 111.5h0M245.6 98.2h0M225.5 113.1h0M265.9 84.1h0M223.2 113.8h0M255.6 90.9h0M226.7 111.6h0M244.6 98.6h0M238.6 103.5h0M286.3 68.9h0M219.8 116.3h0M300.7 59.2h0M276.0 76.5h0M278.0 75.7h0M266.2 83.4h0M273.7 78.0h0M281.0 72.7h0M247.0 97.9h0M274.3 77.4h0M227.0 110.9h0M280.5 72.6h0M255.1 91.4h0M256.9 90.2h0M267.7 82.2h0M249.9 94.2h0M223.9 112.6h0M234.5 106.0h0M239.2 102.9h0M295.0 62.4h0M236.6 104.0h0M222.0 113.7h0M273.1 78.3h0M235.5 105.7h0M266.6 82.5h0M253.2 93.1h0M227.3 110.4h0M294.8 63.6h0M294.8 63.4h0M269.0 81.7h0M249.9 95.0h0M252.9 93.1h0M223.4 113.8h0M291.6 65.0h0M249.5 95.0h0M245.4 98.0h0M243.2 99.0h0M234.0 106.0h0M236.7 104.4h0M221.6 115.1h0M220.5 115.8h0M271.5 79.6h0M285.4 68.9h0M294.0 63.7h0M275.0 77.9h0M243.2 99.3h0M239.9 102.6h0M276.6 75.6h0M274.8 77.3h0M274.1 77.0h0M221.7 114.8h0M284.7 70.4h0M299.7 59.2h0M300.3 59.5h0M265.1 84.5h0M284.6 70.4h0M224.6 112.5h0M294.4 64.0h0M239.8 102.1h0M251.2 94.3h0M224.2 113.8h0M248.6 95.4h0M286.0 68.9h0M231.7 107.0h0M246.3 98.2h0M284.0 71.1h0M292.5 65.0h0M291.4 65.4h0M220.9 115.4h0M236.2 104.3h0M288.8 68.3h0M219.6 115.6h0M264.5 84.5h0M244.4 98.7h0M248.0 96.6h0M283.4 71.9h0M299.6 59.2h0M246.9 97.1h0M237.7 103.9h0M231.3 108.0h0M268.1 82.9h0M232.7 107.3h0M270.6 80.3h0M284.2 70.0h0M280.7 73.0h0M272.4 78.8h0M284.4 70.4h0M247.5 96.4h0M272.2 78.9h0M254.7 91.4h0M286.3 69.2h0M245.3 98.6h0M248.2 95.6h0M251.0 94.0h0M244.2 99.5h0M285.5 70.0h0M237.0 104.2h0M235.8 104.8h0M272.9 78.3h0M283.9 70.9h0M292.4 65.1h0M245.9 97.8h0M219.6 116.3h0M224.6 112.3h0M273.7 78.4h0M287.4 68.1h0M265.6 83.9h0M256.9 90.5h0M230.6 108.8h0M261.1 86.6h0M235.3 106.4h0M237.0 104.4h0M248.9 96.1h0M287.7 68.5h0M293.6 63.8h0M237.2 103.6h0M237.6 103.5h0M223.6 113.9h0M280.7 72.7h0M266.9 82.5h0M245.8 98.4h0M240.4 101.9h0M290.9 66.8h0M242.6 101.1h0M274.2 77.8h0M272.8 78.5h0M277.7 75.3h0M261.5 86.9h0M242.3 100.2h0M245.4 98.2h0M238.2 103.2h0M268.7 81.4h0M279.6 74.6h0M290.4 66.6h0M252.7 92.9h0M221.7 114.8h0M285.4 70.6h0M293.0 64.0h0M278.9 74.7h0M223.5 113.7h0M250.3 93.9h0M296.8 61.2h0M238.9 103.0h0M273.8 78.2h0M237.9 103.7h0M258.6 88.4h0M252.7 92.7h0M277.6 75.5h0M291.6 65.6h0M283.4 70.9h0M242.7 100.6h0M256.1 90.1h0M266.0 82.5h0M251.6 93.5h0M292.0 64.8h0M259.0 88.8h0M262.6 85.8h0M246.5 97.3h0M258.0 89.4h0M298.5 60.3h0M285.0 70.2h0M232.6 107.3h0M271.3 79.8h0M235.9 105.1h0M292.2 64.7h0M265.2 83.6h0M266.5 83.6h0M224.0 113.2h0M239.1 102.7h0M274.4 78.5h0M297.8 61.1h0M256.9 90.3h0M234.2 105.6h0M234.4 105.9h0M254.9 90.7h0M223.6 113.1h0M232.2 107.8h0M251.1 94.1h0M248.5 96.4h0M287.6 68.5h0M257.6 89.3h0M222.4 114.3h0M268.3 81.4h0M219.1 116.6h0M264.4 84.0h0M243.9 99.4h0M282.4 71.7h0M293.5 64.2h0M295.4 63.4h0M233.6 106.2h0M270.2 80.6h0M266.5 83.6h0M270.0 80.4h0M278.7 73.9h0M253.3 92.1h0M300.6 58.8h0M229.4 109.3h0M258.8 88.7h0M274.6 77.1h0M275.4 77.1h0M254.8 92.3h0M231.7 107.6h0M241.8 100.7h0M221.9 115.2h0M249.7 95.5h0M219.3 116.8h0M276.8 75.7h0M285.1 70.4h0M283.4 71.5h0M297.5 61.1h0M226.5 112.1h0M272.8 79.4h0M286.7 69.5h0M224.5 113.2h0M276.1 77.1h0M266.6 83.6h0M231.8 108.1h0M272.0 78.9h0M229.1 109.0h0M273.3 78.5h0M283.7 71.5h0M297.0 61.8h0M272.6 78.7h0M279.3 73.8h0M257.1 90.2h0M240.1 100.7h0M261.0 86.5h0M297.5 61.8h0M250.1 94.9h0M234.4 106.0h0M294.2 63.3h0M233.2 106.4h0M294.9 63.3h0M234.6 106.3h0M272.4 78.9h0M266.0 84.2h0M300.1 59.1h0M254.6 91.2h0M276.5 76.3h0M257.3 89.9h0M251.8 94.2h0M292.9 63.7h0M264.5 84.2h0M223.9 113.3h0M291.6 65.1h0M225.5 111.9h0M289.1 67.3h0M277.6 76.4h0M227.9 110.8h0M296.6 61.3h0M275.5 76.1h0M298.1 60.5h0M247.5 97.0h0M230.2 109.6h0M285.0 69.6h0M266.2 83.4h0M293.2 64.1h0M250.1 94.9h0M274.0 77.7h0M260.4 88.1h0M295.8 62.8h0M252.4 93.3h0M265.5 83.1h0M242.9 99.4h0M288.5 67.9h0M289.0 67.8h0M234.4 106.0h0M267.0 83.4h0M292.2 65.5h0M226.8 111.0h0M229.6 109.5h0M254.3 92.4h0M284.8 69.9h0M286.2 69.2h0M271.4 80.1h0M227.1 111.5h0M272.8 79.4h0M262.3 86.5h0M258.8 89.0h0M291.9 64.8h0M234.7 105.6h0M234.5 105.7h0M256.2 89.5h0M221.4 115.3h0M226.6 112.1h0M224.4 112.9h0M295.2 62.9h0M223.7 113.1h0M257.5 89.8h0M249.6 95.2h0M252.4 92.8h0M276.3 76.6h0M287.4 68.5h0M260.6 87.7h0M266.8 83.3h0M244.9 98.7h0M219.2 116.7h0M256.7 90.2h0M275.3 77.0h0M262.2 86.3h0M297.4 60.7h0M237.6 104.3h0M252.3 93.9h0M284.4 70.3h0M261.3 86.6h0M280.6 73.1h0M300.0 59.4h0M255.6 91.1h0M295.1 62.8h0M219.8 116.4h0M266.1 83.6h0M264.1 84.5h0M220.9 115.5h0M246.4 97.2h0M293.9 63.8h0M223.9 113.5h0M227.8 111.0h0M230.5 108.5h0M277.8 75.5h0M267.0 82.5h0M296.1 62.0h0M269.5 81.3h0M230.5 109.4h0M300.1 59.3h0M222.7 114.6h0M275.7 76.7h0M249.4 95.7h0M288.8 66.7h0M260.5 87.7h0M271.3 80.2h0M245.5 98.0h0M225.7 112.2h0M263.8 85.1h0M250.5 94.4h0M238.2 103.6h0M219.9 116.5h0M237.0 104.3h0M296.5 62.2h0M243.4 100.2h0M250.8 95.5h0M228.4 110.0h0M244.7 98.3h0M248.7 95.7h0M263.3 86.0h0M248.8 95.7h0M234.3 106.3h0M257.9 89.1h0M279.4 73.8h0M238.8 103.1h0M274.5 77.6h0M261.8 87.2h0M229.0 109.8h0M290.4 66.4h0M224.7 112.1h0M254.6 91.0h0M233.4 106.7h0M281.8 72.3h0M273.4 78.5h0M242.8 100.0h0M254.5 92.1h0M292.7 64.6h0M237.3 103.5h0M254.7 91.6h0M282.2 72.0h0M295.0 63.2h0M268.3 81.8h0M270.1 80.6h0M237.9 104.1h0M234.2 105.9h0M236.9 104.6h0M276.1 76.6h0M252.1 93.7h0M259.6 88.5h0M262.4 85.6h0M281.5 72.9h0M276.6 75.7h0M230.3 109.6h0M280.6 73.4h0M291.4 65.6h0M264.9 83.9h0M231.0 108.7h0M230.6 108.8h0M267.5 82.9h0M282.3 72.1h0M233.3 107.4h0M292.6 64.7h0M252.4 92.7h0M252.0 94.3h0M270.0 80.5h0M245.3 98.4h0M242.8 100.7h0M238.2 103.0h0M282.3 71.2h0M292.0 65.5h0M259.8 88.5h0M248.2 96.3h0M229.9 110.2h0M273.7 78.6h0M279.8 73.6h0M285.2 69.3h0M237.7 104.1h0M245.8 98.1h0M265.7 83.9h0M257.6 89.3h0M249.8 94.4h0M250.7 94.1h0M294.3 63.5h0M252.3 93.6h0M261.5 86.8h0M261.0 86.8h0M284.1 71.0h0M227.6 110.6h0M255.5 90.9h0M251.1 93.6h0M253.6 92.1h0M236.3 103.7h0M296.0 61.6h0M226.6 111.9h0M283.8 71.4h0M275.4 76.5h0M278.8 74.5h0M232.0 107.9h0M281.3 72.0h0M265.4 84.6h0M246.1 97.7h0M286.7 68.9h0M220.0 116.2h0M242.6 100.9h0M285.7 68.6h0M259.5 88.7h0M238.9 102.9h0M241.7 101.0h0M270.3 80.8h0M256.1 90.9h0M232.1 106.8h0M294.6 63.2h0M250.7 94.1h0M258.7 89.1h0M297.5 61.7h0M228.8 109.4h0M276.2 76.4h0M277.6 74.4h0M246.0 97.5h0M285.9 68.9h0M270.7 80.7h0M282.3 72.2h0M272.0 80.1h0M250.6 94.5h0M289.8 67.1h0M267.2 82.1h0M221.0 115.2h0M227.6 110.8h0M222.5 114.4h0M273.2 78.9h0M276.5 75.6h0M242.2 100.3h0M244.3 99.4h0M226.8 110.8h0M279.7 73.8h0M251.0 94.0h0M274.6 77.7h0M239.5 102.1h0M272.5 79.2h0M292.9 64.9h0M249.3 94.9h0M274.4 77.4h0M225.8 111.7h0M234.8 105.0h0M245.5 97.6h0M267.8 82.7h0M271.8 79.6h0M248.4 95.5h0M282.7 71.5h0M290.6 66.1h0M233.5 107.0h0M293.6 63.6h0M266.5 83.8h0M223.1 113.8h0M282.7 71.6h0M228.0 110.0h0M234.3 105.6h0M291.2 65.5h0M295.0 62.9h0M265.4 85.0h0M248.6 96.1h0M222.9 114.4h0M247.0 96.9h0M264.7 84.3h0M294.7 63.5h0M251.7 94.0h0M270.3 80.3h0M266.7 83.2h0M294.1 63.2h0M296.6 61.8h0M291.3 65.5h0M223.9 113.1h0M267.6 82.0h0M269.6 80.7h0M271.0 80.0h0M271.8 79.3h0M232.7 106.8h0M249.2 95.3h0M229.0 110.2h0M235.5 104.6h0M255.8 91.2h0M262.7 85.7h0M238.4 103.8h0M264.1 84.6h0M252.2 93.2h0M286.7 68.5h0M264.3 84.6h0M299.5 60.5h0M262.7 84.6h0M244.7 98.9h0M227.7 110.6h0M294.6 62.7h0M274.2 78.1h0M270.2 80.9h0M243.1 100.4h0M255.7 90.6h0M291.6 65.9h0M285.8 69.9h0M231.9 108.4h0M296.3 62.3h0M256.1 90.3h0M272.3 78.7h0M238.8 102.8h0M264.6 84.9h0M263.1 85.2h0M267.4 82.5h0M248.4 95.6h0M248.6 96.3h0M264.2 85.4h0M279.6 73.5h0M274.6 77.7h0M267.2 82.3h0M262.0 86.7h0M268.5 81.1h0M228.2 110.4h0M297.3 61.3h0M241.9 100.8h0M237.3 104.6h0M295.5 62.6h0M252.4 93.0h0M255.2 91.2h0M225.9 112.4h0M266.5 82.8h0M298.7 60.7h0M275.3 77.0h0M270.1 81.0h0M242.2 100.7h0M255.5 91.3h0M247.7 96.5h0M257.8 89.3h0M218.9 116.9h0M257.4 90.5h0M253.4 92.4h0M227.4 111.7h0M246.1 98.1h0M237.7 103.8h0M242.3 99.4h0M223.3 112.7h0M228.0 110.1h0M297.5 61.0h0M292.5 64.3h0M285.3 70.4h0M287.5 68.4h0M244.1 99.6h0M232.0 108.3h0M223.9 113.1h0M220.7 115.8h0M280.1 73.4h0M231.0 107.9h0M222.5 114.0h0M279.9 73.6h0M285.0 70.6h0M296.6 62.7h0M223.0 114.3h0M262.4 86.2h0M280.6 74.3h0M291.5 65.1h0M220.6 115.6h0M233.4 106.5h0M234.9 105.9h0M226.0 111.5h0M277.5 76.3h0M222.7 113.8h0M271.8 79.2h0M295.8 61.6h0M240.1 102.0h0M248.3 96.1h0M246.9 97.1h0M220.5 114.9h0M289.5 67.4h0M294.5 63.8h0M291.8 65.4h0M250.3 94.1h0M280.0 74.2h0M255.3 91.9h0M242.5 100.5h0M272.7 78.5h0M282.0 72.2h0M291.8 65.8h0M280.6 72.9h0M264.0 84.5h0M268.7 81.1h0M297.8 60.7h0M248.7 95.5h0M240.7 101.6h0M231.4 107.5h0M253.0 92.9h0M279.5 74.0h0M261.3 86.1h0M243.3 100.6h0M269.1 81.4h0M249.7 94.3h0M252.9 92.8h0M311.4 51.3h0M314.1 48.5h0M304.2 57.5h0M301.7 58.8h0M309.7 53.4h0M302.9 57.5h0M313.4 49.6h0M304.6 56.4h0M306.8 54.5h0M306.8 54.5h0M320.0 45.5h0M319.4 45.8h0M301.9 58.0h0M301.9 58.0h0M302.8 57.8h0M312.9 50.1h0M310.8 51.8h0M318.3 46.7h0M305.3 56.2h0M306.7 54.1h0M301.1 58.9h0M313.8 49.9h0M302.8 57.4h0M317.2 47.5h0M312.1 50.5h0M307.4 53.7h0M307.2 54.3h0M300.8 58.9h0M317.4 47.7h0M302.2 57.8h0M304.7 56.2h0M315.1 49.1h0M311.5 51.4h0M319.0 46.2h0M308.9 53.0h0M310.7 52.4h0M309.4 52.5h0M307.6 54.3h0M309.5 52.4h0M310.5 53.0h0M309.7 52.6h0M311.4 51.0h0M315.7 48.7h0M309.1 52.9h0M309.9 53.2h0M320.3 45.3h0M311.8 50.7h0M302.1 57.5h0M317.1 47.5h0M313.6 50.1h0M305.1 56.0h0M313.9 48.8h0M304.4 56.9h0M309.2 52.9h0M316.0 49.2h0M305.9 55.2h0M311.0 51.6h0M311.4 51.4h0M311.3 51.4h0M309.5 53.1h0M311.5 51.4h0M307.3 55.2h0M311.3 51.7h0M309.3 53.0h0M306.4 54.9h0M317.4 47.7h0M314.8 49.2h0M306.8 54.1h0M311.8 51.3h0M316.8 48.4h0M316.3 48.8h0M320.2 45.4h0M305.5 55.6h0M316.4 47.7h0M307.8 54.4h0M302.9 57.2h0M305.3 55.8h0M318.1 46.9h0M308.2 53.6h0M303.8 56.8h0M307.4 54.2h0M319.7 45.6h0M302.6 57.7h0M305.1 55.5h0M305.9 55.5h0M318.1 46.8h0M312.2 50.5h0M304.8 56.7h0M310.5 51.8h0M303.3 57.4h0M302.7 58.4h0M320.1 45.3h0M315.6 48.9h0M307.5 54.4h0M309.5 53.1h0M319.7 46.0h0M318.2 46.9h0M313.4 50.1h0M309.4 52.8h0M318.3 46.7h0M308.2 54.6h0M310.2 52.3h0M310.6 52.5h0M303.9 56.3h0M319.8 45.8h0M314.5 48.4h0M303.1 57.3h0M319.7 45.7h0M318.5 46.5h0M301.6 58.5h0M306.0 55.1h0M307.0 54.4h0M314.9 48.2h0M304.6 56.3h0M314.9 49.2h0M309.4 53.5h0M307.4 54.1h0M317.5 47.4h0M303.2 56.9h0M302.7 58.1h0M303.3 57.0h0M317.2 47.5h0M310.7 51.9h0M319.3 45.9h0M303.9 56.5h0M306.3 55.5h0M313.8 50.7h0M307.2 54.9h0M305.9 55.8h0M301.1 58.4h0M318.4 46.5h0M309.2 53.4h0M315.7 48.5h0M304.4 56.8h0M314.1 49.8h0M320.1 45.4h0M302.5 58.2h0M310.0 52.8h0M315.1 49.4h0M310.0 52.5h0M305.2 56.0h0M305.2 55.8h0M312.3 51.1h0M312.0 51.1h0M314.4 48.7h0M312.0 50.7h0M305.2 55.6h0M308.7 53.6h0M314.8 49.1h0M313.1 50.0h0M326.7 40.7h0M322.9 43.3h0M322.9 43.4h0M325.2 41.8h0M325.2 41.8h0M327.9 40.0h0M324.1 42.5h0M323.1 43.2h0M321.8 44.1h0M327.5 40.1h0M324.6 42.3h0M322.3 43.9h0M323.2 43.2h0M323.1 43.2h0M325.6 41.7h0M323.8 43.1h0M326.0 41.1h0M323.2 43.5h0M323.4 43.3h0M325.2 41.8h0M326.1 41.5h0M323.9 43.2h0M325.9 41.4h0M325.5 41.6h0M326.2 41.1h0M327.1 40.5h0M325.6 41.5h0M328.6 39.9h0M326.7 40.8h0M323.4 43.1h0M324.0 42.5h0M325.2 41.7h0M325.3 42.1h0M322.0 44.1h0M327.3 40.4h0M326.8 40.7h0M321.4 44.5h0M325.3 41.8h0M327.3 40.4h0M326.5 41.0h0M325.7 41.3h0M324.5 42.4h0M322.8 43.6h0M324.5 42.3h0M323.6 43.0h0M323.5 42.9h0M325.4 41.7h0M328.1 39.7h0M326.2 41.0h0M324.1 42.5h0M327.8 40.0h0M323.8 42.8h0M323.3 43.0h0M323.6 43.0h0M323.1 43.5h0M321.5 44.3h0M321.4 44.4h0M325.0 41.9h0M320.8 45.0h0M323.6 43.1h0M321.0 44.7h0M326.5 41.3h0M323.6 42.9h0M324.9 42.0h0M323.6 42.9h0M327.4 40.3h0M322.9 43.4h0M321.4 44.4h0M325.6 41.5h0M322.2 44.0h0M326.0 41.4h0M322.2 43.8h0M322.7 43.9h0M324.8 42.2h0M322.1 43.9h0M323.8 42.7h0M324.8 42.0h0M324.7 42.3h0M325.5 41.7h0M327.1 40.5h0M320.0 45.7h0M322.5 43.6h0M323.8 42.7h0M322.3 43.9h0M324.8 42.2h0M322.9 43.3h0M322.5 43.6h0M323.7 42.7h0M320.5 45.3h0M327.9 39.8h0M323.8 42.6h0M324.0 42.8h0M324.2 42.5h0M326.4 41.1h0M326.6 40.8h0M324.2 42.7h0M320.9 45.2h0M324.1 42.5h0M327.0 40.6h0M324.2 42.4h0M325.9 41.3h0M322.0 44.0h0M323.6 42.9h0M329.6 38.7h0M321.3 44.7h0M321.8 44.2h0M323.3 43.2h0M326.4 41.2h0M324.8 42.1h0M322.6 44.1h0M325.3 41.6h0M326.3 41.3h0M322.5 43.6h0M324.9 42.3h0M324.1 42.6h0M325.0 42.3h0M323.1 43.2h0M321.4 44.6h0M321.2 44.7h0M323.3 43.0h0M324.1 42.5h0M322.9 43.8h0M321.1 44.6h0M324.1 42.5h0M324.3 42.4h0M323.7 42.8h0M324.0 42.7h0M326.5 40.8h0M322.1 44.0h0M318.5 46.5h0M328.3 39.5h0M323.1 43.3h0M323.8 43.0h0M325.9 41.4h0M323.8 42.9h0M323.4 43.0h0M322.3 43.8h0M325.1 41.9h0M323.7 43.0h0M327.1 40.3h0M322.8 43.6h0M321.5 44.4h0M324.5 42.2h0M327.8 40.2h0M322.5 43.8h0M323.8 42.8h0M324.3 42.6h0M321.2 44.5h0M324.2 42.4h0M325.4 41.8h0M327.6 40.0h0M326.1 41.1h0M325.1 42.1h0M323.9 42.7h0M326.0 41.3h0M321.6 44.4h0M325.4 41.7h0M324.0 42.6h0M325.2 41.9h0M323.0 43.4h0M327.2 40.3h0M325.9 41.5h0M319.1 46.1h0M325.7 41.4h0M323.8 42.8h0M322.8 43.7h0M324.5 42.3h0M322.1 43.9h0M323.6 42.9h0M324.7 42.1h0M324.4 42.4h0M323.7 43.1h0M323.3 43.1h0M322.5 43.7h0M326.2 41.3h0M329.3 39.3h0M332.5 37.0h0M334.1 35.8h0M350.4 24.4h0M340.5 31.0h0M355.4 20.3h0M349.7 24.4h0M352.4 22.6h0M342.8 29.5h0M345.1 28.0h0M349.7 24.6h0M336.2 34.0h0M351.0 23.8h0M353.8 21.4h0" stroke="#ffa500" stroke-width="1.8" stroke-linecap="square" fill="none"/>
<path d="M213.5 120.6h0M213.0 118.2h0M214.0 110.3h0M213.2 118.7h0M213.0 118.5h0M213.7 115.7h0M213.2 120.6h0M213.2 116.4h0M213.5 119.6h0M212.9 120.1h0M213.1 118.4h0M213.2 119.9h0M213.5 114.9h0M213.5 120.9h0M213.4 119.4h0M213.0 112.8h0M213.0 97.6h0M213.1 120.4h0M213.4 119.9h0M213.3 120.8h0M213.0 118.2h0M213.3 114.6h0M213.2 115.7h0M213.8 116.5h0M213.2 119.7h0M213.7 121.0h0M213.0 115.8h0M213.1 118.5h0M213.0 112.8h0M213.2 119.9h0M214.1 113.2h0M213.4 116.2h0M212.9 117.5h0M213.8 118.4h0M213.4 120.1h0M213.4 99.0h0M213.2 119.5h0M213.7 115.4h0M213.4 118.0h0M213.1 120.3h0M213.5 120.4h0M214.4 118.1h0M213.9 117.1h0M213.1 119.6h0M214.1 116.0h0M213.6 120.0h0M213.2 118.6h0M213.1 119.0h0M213.1 119.8h0M213.6 120.0h0M212.9 119.2h0M213.1 120.5h0M213.1 119.8h0M213.3 117.5h0M213.2 119.1h0M214.2 113.9h0M213.4 118.9h0M213.5 97.8h0M213.1 121.1h0M213.7 120.7h0M213.4 119.4h0M213.0 120.4h0M213.3 94.4h0M214.3 118.5h0M213.1 114.7h0M213.4 121.1h0M213.0 118.7h0M213.0 120.3h0M213.1 114.0h0M213.4 118.3h0M213.3 112.4h0M213.2 117.2h0M213.5 120.0h0M213.5 106.7h0M213.6 117.7h0M212.9 119.2h0M213.0 118.7h0M213.4 120.4h0M212.9 116.6h0M213.8 116.2h0M213.3 118.4h0M213.0 116.1h0M214.8 108.2h0M213.9 110.4h0M223.6 113.6h0M214.3 119.8h0M215.0 120.8h0M215.4 118.1h0M216.9 118.2h0M239.0 102.7h0M217.4 121.0h0M224.3 112.3h0M215.8 120.4h0M245.8 97.5h0M213.3 120.9h0M257.4 88.5h0M227.2 112.1h0M232.5 107.5h0M218.4 115.3h0M220.2 115.1h0M227.6 108.5h0M235.9 104.6h0M213.3 113.2h0M232.2 109.0h0M258.7 79.6h0M216.6 120.2h0M213.8 104.7h0M213.6 120.8h0M217.7 116.8h0M216.8 98.3h0M216.2 112.3h0M219.5 116.7h0M213.3 92.7h0M224.0 116.3h0M221.8 113.1h0M214.1 117.3h0M236.1 105.9h0M228.7 114.6h0M226.4 111.2h0M228.7 108.8h0M220.9 119.9h0M215.0 121.1h0M213.3 120.6h0M216.0 116.8h0M237.3 102.1h0M221.0 116.0h0M213.9 118.2h0M216.9 120.0h0M215.0 109.5h0M219.6 115.8h0M216.2 120.1h0M217.1 116.4h0M224.3 113.4h0M215.9 116.9h0M213.9 89.4h0M223.4 112.6h0M235.8 104.9h0M224.0 113.0h0M217.2 118.9h0M214.3 116.8h0M217.6 118.0h0M215.0 106.5h0M215.2 120.6h0M217.4 116.6h0M225.3 111.7h0M221.4 114.2h0M222.0 110.8h0M213.3 117.6h0M216.0 78.7h0M214.5 113.6h0M220.5 116.7h0M214.3 115.7h0M229.7 102.7h0M213.3 115.8h0M214.3 117.2h0M225.3 109.8h0M222.5 114.9h0M223.0 120.7h0M220.4 116.8h0M217.4 118.1h0M225.4 101.7h0M213.3 113.6h0M213.5 120.2h0M214.4 102.9h0M217.5 120.8h0M254.0 91.9h0M223.1 114.4h0M247.4 94.6h0M217.9 111.5h0M223.6 111.0h0M240.2 102.0h0M230.8 111.0h0M216.7 119.1h0M245.8 94.8h0M220.9 114.0h0M215.9 117.7h0M235.2 102.6h0M218.0 117.2h0M216.7 117.8h0M231.4 110.6h0M235.8 102.5h0M222.8 115.9h0M228.4 110.4h0M215.3 115.2h0M220.3 112.0h0M250.5 93.5h0M220.1 117.6h0M217.3 120.0h0M214.1 114.0h0M225.3 113.4h0M213.3 120.3h0M213.3 120.7h0M232.8 101.5h0M220.4 117.2h0M223.8 113.8h0M216.3 120.1h0M222.3 115.9h0M228.9 103.8h0M214.6 120.5h0M215.6 107.2h0M236.6 103.6h0M227.7 116.6h0M229.7 112.9h0M217.7 117.8h0M235.3 103.8h0M222.9 113.8h0M213.7 115.3h0M216.6 89.8h0M248.8 97.8h0M216.5 112.9h0M214.4 116.4h0M218.1 119.5h0M251.0 93.4h0M216.6 118.7h0M214.5 120.8h0M223.3 116.5h0M217.7 117.0h0M214.5 119.4h0M233.3 113.1h0M213.9 120.0h0M223.4 113.5h0M228.4 109.5h0M216.3 121.1h0M226.8 109.2h0M213.3 117.9h0M224.9 111.4h0M218.0 115.2h0M233.7 103.5h0M220.7 116.6h0M217.0 113.6h0M219.8 118.5h0M236.1 119.6h0M214.7 109.4h0M214.3 114.7h0M214.0 120.1h0M247.2 97.0h0M225.1 108.9h0M222.7 116.7h0M241.5 100.0h0M229.5 109.7h0M220.7 113.5h0M215.4 117.7h0M256.6 59.2h0M225.0 112.2h0M219.3 120.3h0M221.0 115.5h0M231.3 98.4h0M213.3 106.0h0M218.3 117.7h0M218.0 120.1h0M236.8 106.8h0M218.8 114.1h0M217.3 118.9h0M227.3 118.5h0M221.5 114.8h0M217.7 116.0h0M223.3 113.1h0M223.3 112.5h0M215.7 120.3h0M213.3 119.5h0M239.5 101.5h0M232.6 107.5h0M221.2 112.8h0M214.1 121.1h0M213.3 107.9h0M235.4 109.4h0M213.6 120.6h0M215.5 91.4h0M295.1 64.4h0M221.6 117.6h0M252.5 86.0h0M268.3 78.8h0M255.8 89.5h0M284.4 72.0h0M272.3 81.4h0M247.8 97.5h0M239.6 101.9h0M239.1 103.4h0M292.1 67.9h0M268.3 81.8h0M247.8 85.5h0M222.5 115.7h0M220.4 117.5h0M251.5 92.0h0M290.6 68.0h0M264.6 84.6h0M246.9 97.1h0M292.9 65.9h0M288.1 69.9h0M289.7 67.3h0M261.2 92.9h0M234.2 106.1h0M275.3 77.4h0M249.0 94.6h0M234.0 112.2h0M227.8 108.8h0M253.6 90.7h0M260.5 88.7h0M274.9 73.6h0M232.8 106.0h0M239.5 102.1h0M281.9 72.2h0M266.5 83.1h0M294.3 61.7h0M250.3 101.6h0M257.4 90.6h0M285.6 68.5h0M280.1 88.0h0M284.0 73.2h0M219.3 116.7h0M251.6 95.4h0M280.7 73.0h0M288.7 66.4h0M221.0 115.0h0M241.2 101.2h0M237.4 102.5h0M255.0 91.2h0M264.8 85.6h0M254.0 92.2h0M277.4 75.8h0M234.6 106.7h0M283.7 65.1h0M283.4 72.5h0M300.2 69.7h0M235.4 104.8h0M298.1 59.4h0M248.0 94.7h0M219.1 118.3h0M275.1 74.5h0M262.6 83.1h0M239.6 117.9h0M284.6 70.8h0M262.5 90.0h0M260.0 88.0h0M269.9 81.0h0M273.5 77.8h0M234.5 104.7h0M222.2 106.6h0M250.5 92.3h0M299.0 60.1h0M281.0 75.0h0M291.5 70.2h0M290.8 60.3h0M257.1 96.0h0M297.5 51.1h0M283.6 71.6h0M257.1 89.7h0M287.5 69.6h0M286.4 71.3h0M288.4 68.8h0M221.2 109.6h0M270.4 89.6h0M265.3 77.5h0M243.0 101.7h0M241.3 101.2h0M288.6 65.9h0M241.7 99.3h0M295.3 63.9h0M241.2 102.5h0M267.8 83.6h0M229.2 114.8h0M274.4 76.7h0M284.2 69.6h0M259.0 84.1h0M277.0 75.3h0M274.8 109.3h0M237.0 107.4h0M243.5 91.7h0M245.8 97.6h0M253.9 94.1h0M281.0 74.1h0M283.4 68.3h0M243.9 100.0h0M245.9 98.3h0M291.5 65.8h0M233.8 107.1h0M297.4 65.2h0M226.8 112.3h0M252.9 89.4h0M262.3 83.4h0M240.0 102.9h0M226.7 109.4h0M276.2 73.3h0M255.1 115.6h0M294.1 63.6h0M287.4 68.3h0M247.7 98.1h0M231.9 110.3h0M282.3 71.1h0M278.3 81.9h0M282.6 73.4h0M265.2 86.5h0M226.0 113.5h0M234.8 103.8h0M258.8 91.5h0M245.7 102.6h0M243.9 97.7h0M285.1 70.9h0M265.7 84.4h0M226.1 113.4h0M260.4 87.3h0M242.3 98.0h0M228.2 116.9h0M297.4 63.4h0M261.3 87.7h0M249.4 94.6h0M236.4 101.4h0M235.6 104.6h0M227.8 110.4h0M224.8 115.5h0M233.5 106.9h0M292.9 79.2h0M264.0 75.8h0M243.2 97.6h0M220.3 114.8h0M256.7 83.0h0M289.6 66.1h0M253.5 91.1h0M249.0 96.2h0M228.9 113.6h0M291.8 62.1h0M236.4 104.3h0M236.3 116.3h0M279.2 90.6h0M258.5 89.3h0M256.9 92.7h0M223.7 93.6h0M297.3 44.5h0M236.2 106.6h0M292.2 66.3h0M279.1 74.8h0M236.7 109.9h0M221.7 114.6h0M269.9 81.1h0M258.1 91.9h0M276.1 60.4h0M281.3 72.2h0M297.5 58.6h0M238.3 102.0h0M247.6 97.3h0M241.2 86.0h0M237.3 107.8h0M282.2 75.1h0M225.6 113.8h0M222.9 112.0h0M225.7 111.2h0M279.5 73.7h0M219.3 115.3h0M244.9 96.5h0M273.3 77.6h0M249.6 98.6h0M275.6 78.5h0M249.8 95.5h0M294.2 75.4h0M262.8 88.6h0M278.7 74.6h0M239.6 119.2h0M226.0 110.3h0M227.4 111.2h0M267.2 92.8h0M270.3 79.9h0M273.8 78.0h0M240.1 102.1h0M224.2 111.4h0M230.1 107.6h0M288.7 67.1h0M294.5 65.4h0M272.4 80.5h0M283.8 68.9h0M218.9 111.1h0M265.9 91.0h0M295.5 60.3h0M245.1 101.5h0M271.2 73.4h0M291.0 74.0h0M245.9 96.1h0M292.2 68.2h0M241.2 102.0h0M269.3 84.1h0M233.5 106.7h0M235.4 96.2h0M260.6 85.0h0M297.0 61.6h0M277.0 76.9h0M247.1 95.3h0M263.7 87.6h0M287.9 69.6h0M262.6 61.8h0M255.0 93.7h0M247.4 97.9h0M229.6 107.5h0M265.0 83.0h0M278.7 74.3h0M276.7 80.3h0M298.9 59.5h0M222.9 114.3h0M229.4 105.6h0M288.3 68.4h0M259.8 92.5h0M224.3 69.2h0M253.9 89.1h0M269.9 63.2h0M271.0 81.8h0M231.0 109.3h0M277.2 73.3h0M271.7 79.0h0M266.7 89.8h0M242.5 100.8h0M290.7 63.1h0M246.8 95.5h0M277.4 78.0h0M279.6 75.4h0M252.7 91.2h0M237.3 102.0h0M293.3 62.9h0M254.8 93.7h0M235.8 106.8h0M240.2 99.0h0M260.0 88.2h0M257.4 92.4h0M219.9 118.1h0M248.6 101.1h0M219.1 116.0h0M283.0 70.6h0M276.5 76.1h0M238.6 98.6h0M287.9 70.8h0M276.5 76.1h0M274.4 76.8h0M259.0 87.4h0M284.6 71.8h0M282.4 58.6h0M252.4 92.3h0M238.1 100.8h0M264.3 90.7h0M223.1 100.2h0M259.8 86.6h0M226.9 109.0h0M236.9 105.1h0M294.3 61.7h0M237.4 104.4h0M237.6 107.5h0M237.6 102.4h0M292.2 65.5h0M236.9 102.7h0M240.1 95.7h0M249.5 93.3h0M295.5 62.2h0M246.6 97.3h0M300.2 61.7h0M274.0 76.2h0M225.8 112.8h0M288.6 67.5h0M299.3 60.3h0M285.8 68.1h0M273.0 77.4h0M252.1 95.8h0M239.0 95.0h0M231.5 111.3h0M244.1 98.2h0M266.4 80.0h0M237.4 104.8h0M262.6 83.7h0M279.2 73.9h0M275.9 74.3h0M253.4 93.9h0M245.4 97.2h0M275.4 64.1h0M271.5 80.5h0M248.5 97.5h0M233.0 106.4h0M291.2 65.3h0M223.3 114.2h0M255.4 89.2h0M250.8 96.7h0M221.1 115.4h0M298.3 61.8h0M257.0 90.9h0M236.6 107.5h0M253.9 95.1h0M264.1 70.2h0M224.5 105.9h0M253.5 94.1h0M275.3 60.5h0M292.4 64.2h0M227.8 110.4h0M221.4 115.3h0M223.5 101.9h0M283.1 70.2h0M225.2 51.2h0M272.3 78.3h0M246.5 95.6h0M269.6 82.0h0M238.4 100.8h0M250.8 87.8h0M247.6 91.8h0M277.4 74.8h0M248.1 96.3h0M292.0 66.1h0M229.5 107.1h0M268.9 85.8h0M251.5 88.7h0M264.9 78.4h0M241.9 100.2h0M236.5 104.0h0M246.4 97.5h0M226.7 109.6h0M259.9 88.9h0M250.3 93.7h0M296.0 62.1h0M230.2 109.4h0M233.4 104.8h0M253.1 97.8h0M263.5 86.2h0M290.1 84.8h0M290.1 66.0h0M239.4 100.2h0M219.1 101.5h0M224.7 114.0h0M237.7 99.0h0M255.5 93.9h0M224.0 114.4h0M287.8 70.4h0M243.2 100.7h0M292.4 65.4h0M273.6 79.0h0M218.8 104.4h0M291.8 66.9h0M293.8 64.0h0M220.7 120.6h0M230.4 110.6h0M238.3 100.7h0M230.7 109.3h0M237.1 103.6h0M258.0 88.6h0M221.7 116.8h0M288.0 66.2h0M300.3 59.6h0M280.1 91.7h0M245.7 101.3h0M247.3 93.1h0M273.4 79.4h0M274.5 76.5h0M267.0 85.6h0M226.9 112.2h0M262.5 94.2h0M253.6 92.5h0M248.4 96.5h0M247.2 94.2h0M250.3 69.4h0M287.0 61.1h0M267.3 95.7h0M247.5 93.7h0M271.2 76.7h0M254.2 92.8h0M254.1 87.4h0M288.7 71.5h0M283.6 72.0h0M298.6 59.9h0M286.1 53.6h0M260.2 87.0h0M224.0 110.5h0M237.9 100.8h0M252.9 85.5h0M246.3 96.6h0M242.3 88.7h0M223.9 115.5h0M296.9 33.5h0M231.5 110.1h0M220.7 112.6h0M265.0 82.9h0M267.6 87.4h0M262.9 82.6h0M245.9 102.9h0M293.0 64.9h0M278.5 77.9h0M245.7 96.1h0M234.7 106.2h0M221.0 113.1h0M279.5 74.9h0M281.6 63.2h0M288.8 70.9h0M222.0 116.2h0M292.0 63.9h0M287.5 69.4h0M224.9 113.2h0M241.3 102.0h0M287.3 67.2h0M259.5 77.2h0M262.3 89.2h0M225.7 113.3h0M286.1 69.6h0M234.4 105.8h0M252.1 101.4h0M239.9 99.2h0M256.3 86.4h0M235.7 104.0h0M218.9 116.1h0M262.3 87.8h0M248.0 83.8h0M253.6 91.5h0M236.2 103.7h0M245.8 98.0h0M240.4 95.1h0M268.4 82.4h0M227.6 111.6h0M257.1 87.6h0M280.8 73.3h0M270.5 80.7h0M246.7 95.8h0M297.4 63.0h0M262.9 85.7h0M236.4 105.2h0M268.5 79.1h0M244.6 101.2h0M228.5 110.8h0M291.2 64.9h0M279.0 75.1h0M263.9 86.5h0M241.3 101.5h0M253.9 94.2h0M293.6 64.0h0M245.0 99.0h0M243.3 96.3h0M232.7 110.6h0M292.4 66.8h0M249.0 86.5h0M291.2 71.1h0M220.0 92.2h0M240.7 98.9h0M254.5 89.6h0M262.3 86.6h0M282.8 71.0h0M258.2 89.0h0M265.4 85.1h0M285.8 57.5h0M232.8 107.8h0M256.8 89.2h0M259.7 78.4h0M270.0 92.2h0M266.8 108.8h0M226.5 111.8h0M274.3 75.2h0M231.6 107.4h0M255.7 104.1h0M289.0 64.5h0M249.9 93.4h0M300.0 63.3h0M277.4 75.2h0M238.0 103.6h0M274.0 81.1h0M273.1 88.9h0M267.8 81.5h0M223.6 113.7h0M225.5 112.1h0M228.6 113.2h0M226.9 96.7h0M279.0 82.1h0M288.1 67.8h0M288.3 70.4h0M290.6 68.9h0M248.0 99.0h0M239.2 104.7h0M257.7 90.1h0M229.4 110.6h0M290.9 62.8h0M275.4 79.6h0M227.4 106.4h0M241.6 102.8h0M273.6 82.4h0M257.2 92.1h0M257.6 89.8h0M258.1 89.4h0M270.5 83.2h0M291.4 62.7h0M275.1 78.4h0M268.7 84.9h0M244.7 99.9h0M232.9 111.2h0M265.2 91.7h0M238.2 106.2h0M235.2 103.6h0M240.3 101.1h0M223.9 115.7h0M231.4 107.2h0M231.0 109.0h0M245.7 99.9h0M270.5 78.5h0M262.0 85.7h0M265.3 85.7h0M232.6 107.8h0M290.3 63.8h0M275.7 78.2h0M279.2 72.7h0M272.9 76.7h0M275.5 77.9h0M273.5 83.3h0M245.7 94.8h0M239.4 103.1h0M244.4 99.6h0M246.7 101.2h0M248.4 87.0h0M300.4 60.2h0M276.5 74.3h0M226.6 110.4h0M240.0 105.6h0M237.2 98.3h0M252.4 92.0h0M257.0 90.2h0M275.3 73.5h0M221.4 114.9h0M278.6 76.0h0M230.6 106.3h0M296.8 60.0h0M228.7 109.2h0M225.2 110.0h0M275.3 76.8h0M246.8 98.8h0M261.6 87.2h0M300.5 57.0h0M252.9 93.8h0M260.7 88.0h0M251.8 93.9h0M300.4 59.1h0M252.2 93.5h0M235.7 107.5h0M294.8 63.4h0M284.7 69.7h0M288.4 67.8h0M248.5 101.6h0M272.0 79.0h0M276.0 69.6h0M280.7 85.2h0M224.4 98.1h0M269.9 82.7h0M259.9 87.0h0M219.4 116.8h0M287.1 70.2h0M256.8 90.2h0M245.1 99.7h0M256.4 101.1h0M290.2 64.0h0M260.9 85.7h0M296.3 60.8h0M243.0 97.1h0M227.4 111.2h0M289.1 64.9h0M292.9 65.5h0M258.9 86.7h0M220.1 118.7h0M227.6 110.0h0M224.0 107.9h0M238.6 100.5h0M259.8 90.4h0M274.7 76.1h0M281.9 72.4h0M228.5 99.0h0M247.8 99.9h0M277.1 74.4h0M294.0 62.4h0M239.5 104.0h0M296.9 64.3h0M275.8 77.3h0M263.5 85.1h0M223.3 119.1h0M239.7 104.5h0M227.0 109.6h0M235.4 104.4h0M259.8 91.2h0M226.6 119.4h0M235.6 104.0h0M275.9 75.8h0M232.8 106.5h0M295.4 63.0h0M286.8 70.3h0M244.8 103.4h0M248.8 97.5h0M235.6 94.6h0M279.7 77.0h0M236.3 102.3h0M257.2 90.6h0M245.4 100.7h0M242.4 101.9h0M299.2 55.9h0M290.5 71.9h0M250.6 92.0h0M271.0 82.1h0M243.6 100.7h0M231.9 107.4h0M227.9 89.3h0M264.7 86.2h0M266.1 83.9h0M263.1 84.6h0M283.6 67.8h0M226.7 96.4h0M221.7 115.5h0M273.8 79.7h0M238.8 104.6h0M263.8 88.2h0M284.9 71.3h0M256.7 90.4h0M272.6 81.5h0M223.8 118.2h0M238.7 105.5h0M270.4 78.7h0M232.7 105.9h0M270.8 83.2h0M297.9 61.1h0M253.0 93.0h0M295.6 58.2h0M252.8 100.0h0M240.7 102.1h0M271.7 79.3h0M236.6 88.6h0M261.0 108.2h0M234.3 103.6h0M275.0 74.7h0M243.3 99.0h0M290.7 67.8h0M280.9 74.4h0M291.9 67.1h0M247.1 98.3h0M268.5 85.9h0M277.7 76.9h0M233.5 104.2h0M246.4 104.5h0M273.4 80.5h0M242.2 99.1h0M297.8 63.5h0M243.1 100.9h0M290.6 67.3h0M237.1 110.7h0M274.5 78.7h0M243.1 90.3h0M272.5 83.7h0M261.0 85.7h0M265.3 84.5h0M282.6 72.2h0M280.7 72.1h0M259.8 83.7h0M257.5 95.4h0M295.4 71.7h0M258.0 87.3h0M285.0 73.9h0M242.1 99.6h0M229.4 98.9h0M263.9 101.7h0M278.0 77.3h0M258.9 89.6h0M233.5 82.9h0M270.4 83.2h0M299.0 59.8h0M300.6 58.5h0M297.5 60.1h0M287.9 73.2h0M230.9 68.4h0M272.8 89.6h0M262.4 85.3h0M240.6 101.1h0M253.1 91.7h0M237.1 107.6h0M226.2 113.7h0M300.6 57.5h0M254.6 99.6h0M261.8 87.7h0M240.3 100.1h0M297.3 73.3h0M241.3 98.3h0M285.0 71.7h0M231.9 116.0h0M258.4 89.5h0M233.0 107.1h0M248.2 98.8h0M269.7 81.7h0M249.0 91.2h0M234.6 105.1h0M235.5 111.7h0M239.9 100.4h0M252.9 93.8h0M270.7 80.0h0M256.3 86.3h0M262.1 95.0h0M248.7 94.5h0M224.7 111.0h0M281.6 72.9h0M250.1 98.9h0M296.3 60.3h0M290.2 67.3h0M266.7 88.2h0M288.6 65.1h0M233.7 106.0h0M240.5 87.5h0M259.9 62.7h0M288.4 66.7h0M245.4 98.5h0M227.1 109.8h0M263.0 74.9h0M285.8 72.2h0M219.5 118.5h0M247.4 97.6h0M255.6 89.7h0M287.4 68.0h0M250.4 99.0h0M255.1 89.8h0M246.4 96.7h0M241.9 98.7h0M283.7 69.5h0M283.9 69.5h0M232.4 107.8h0M222.0 112.2h0M235.0 110.0h0M280.7 75.8h0M289.1 66.9h0M250.6 97.1h0M219.4 118.3h0M220.0 117.2h0M282.2 75.8h0M284.8 71.8h0M234.1 105.8h0M243.8 102.1h0M247.7 94.2h0M259.5 80.8h0M261.7 84.5h0M293.6 65.1h0M227.7 107.5h0M228.7 107.4h0M260.8 89.7h0M265.1 83.1h0M289.9 73.1h0M299.4 60.1h0M269.9 71.3h0M272.0 77.6h0M284.1 69.5h0M266.4 84.2h0M289.7 83.3h0M239.7 101.5h0M274.2 76.0h0M251.0 94.6h0M295.7 65.2h0M297.8 62.4h0M283.4 93.9h0M264.7 82.2h0M230.3 108.5h0M296.0 72.3h0M229.2 111.8h0M250.0 97.8h0M294.6 64.3h0M235.1 113.1h0M257.0 91.6h0M275.9 78.5h0M227.3 84.4h0M264.8 85.4h0M274.3 77.9h0M243.2 99.9h0M278.7 74.1h0M279.8 70.7h0M236.4 104.0h0M245.0 82.2h0M257.7 90.7h0M226.8 119.2h0M293.1 66.6h0M249.9 95.0h0M233.9 110.8h0M289.7 64.0h0M240.3 101.0h0M226.9 112.5h0M271.1 77.9h0M221.6 115.4h0M285.3 71.4h0M243.6 100.4h0M236.2 97.9h0M262.6 86.8h0M251.2 95.9h0M232.9 105.1h0M264.4 83.0h0M221.2 112.8h0M234.1 109.2h0M279.4 76.4h0M267.3 86.1h0M231.8 108.0h0M230.4 101.7h0M266.5 84.3h0M293.6 61.6h0M265.8 86.2h0M243.0 105.4h0M248.6 96.0h0M226.3 114.2h0M282.5 72.4h0M290.7 67.8h0M290.4 67.4h0M263.4 84.0h0M220.4 116.3h0M235.2 107.7h0M293.9 65.9h0M258.6 86.0h0M274.4 78.8h0M272.9 77.5h0M257.2 87.2h0M237.3 92.8h0M220.0 119.4h0M293.8 64.2h0M238.3 95.9h0M228.2 108.6h0M297.6 71.2h0M249.8 94.1h0M286.0 71.5h0M238.8 87.6h0M227.9 111.2h0M297.4 64.2h0M250.5 95.3h0M275.3 84.6h0M284.1 72.6h0M268.4 80.1h0M271.4 77.0h0M247.6 95.8h0M263.5 87.7h0M239.2 101.1h0M262.9 85.8h0M293.9 68.9h0M264.6 75.7h0M233.9 105.9h0M267.7 83.0h0M219.3 116.4h0M261.7 83.4h0M246.9 97.6h0M246.5 93.5h0M247.0 98.0h0M240.9 104.1h0M225.8 115.3h0M274.4 81.4h0M252.5 91.9h0M275.7 79.2h0M242.3 99.8h0M219.0 117.4h0M286.5 65.9h0M271.3 88.8h0M231.9 111.6h0M225.8 111.1h0M271.9 92.9h0M270.9 78.1h0M221.7 117.6h0M229.1 111.9h0M286.4 66.8h0M259.7 86.3h0M221.0 116.8h0M285.1 72.8h0M273.5 78.2h0M293.9 65.2h0M298.0 59.4h0M251.4 94.2h0M240.7 101.4h0M287.3 65.6h0M282.3 71.2h0M242.5 99.8h0M293.3 48.5h0M252.2 93.5h0M226.7 95.5h0M241.4 102.0h0M264.9 81.9h0M290.8 69.1h0M235.4 83.7h0M279.6 99.0h0M319.8 46.7h0M310.4 52.6h0M301.6 47.9h0M308.4 55.6h0M308.3 52.6h0M304.6 57.2h0M319.7 45.8h0M317.8 48.3h0M309.0 51.8h0M307.1 53.3h0M306.7 54.9h0M312.9 51.5h0M317.3 58.3h0M319.9 45.9h0M314.9 47.9h0M317.3 30.7h0M302.2 58.4h0M316.4 50.3h0M317.4 48.5h0M300.9 60.3h0M316.6 47.6h0M314.2 46.2h0M304.3 80.7h0M311.7 52.2h0M308.5 53.3h0M307.4 42.4h0M304.3 57.1h0M312.5 49.2h0M313.0 47.9h0M314.6 58.5h0M317.0 48.2h0M304.5 51.8h0M319.0 46.8h0M305.7 58.1h0M310.8 77.9h0M319.8 47.8h0M313.5 50.9h0M301.3 61.1h0M312.6 47.9h0M302.6 57.7h0M310.9 53.3h0M301.4 58.7h0M311.5 50.3h0M310.9 65.0h0M309.2 50.7h0M317.6 61.6h0M319.7 46.4h0M307.7 58.9h0M305.6 53.3h0M305.4 57.2h0M313.9 50.4h0M319.0 50.9h0M313.6 53.3h0M304.0 54.3h0M316.5 46.0h0M311.8 56.2h0M308.1 53.9h0M319.7 46.1h0M304.4 55.7h0M300.9 61.8h0M317.6 49.1h0M302.7 58.9h0M301.2 69.6h0M301.7 59.7h0M306.6 55.8h0M319.1 47.6h0M304.4 84.4h0M311.5 50.2h0M306.9 56.9h0M300.9 59.9h0M304.4 55.9h0M307.1 51.3h0M309.1 50.5h0M316.3 48.0h0M316.3 47.7h0M302.0 48.5h0M313.3 51.4h0M313.7 58.6h0M305.3 33.8h0M315.2 49.8h0M308.1 51.6h0M305.4 67.6h0M315.9 49.9h0M312.9 50.0h0M314.6 48.2h0M308.0 50.5h0M315.2 48.8h0M307.0 64.2h0M301.5 62.3h0M303.9 57.6h0M314.0 45.4h0M313.4 51.0h0M318.7 69.6h0M303.2 55.3h0M315.7 49.1h0M317.7 48.6h0M308.7 51.1h0M305.6 53.9h0M316.3 46.7h0M316.4 48.1h0M317.0 48.7h0M300.8 59.9h0M315.8 46.9h0M312.0 46.0h0M319.1 46.6h0M325.8 42.1h0M322.8 50.2h0M324.7 45.9h0M321.6 44.2h0M325.1 42.3h0M323.9 42.9h0M324.3 44.3h0M327.0 41.1h0M326.2 42.0h0M324.1 43.1h0M326.4 42.8h0M323.0 43.3h0M326.5 41.3h0M325.2 42.4h0M323.0 45.4h0M325.1 43.1h0M320.6 46.4h0M324.2 44.7h0M324.9 43.0h0M323.9 47.1h0M326.6 52.1h0M324.8 46.0h0M324.5 45.3h0M324.1 42.8h0M325.2 44.5h0M328.3 40.5h0M323.2 43.4h0M322.2 49.0h0M321.8 45.7h0M323.2 45.9h0M327.6 41.9h0M324.7 72.9h0M325.1 43.8h0M321.6 44.6h0M320.4 51.1h0M321.6 44.4h0M326.9 41.2h0M322.8 44.7h0M322.7 45.3h0M325.9 42.4h0M324.1 43.1h0M325.5 41.5h0M325.6 43.8h0M323.3 43.4h0M324.2 58.1h0M325.9 41.2h0M327.4 41.8h0M323.4 44.1h0M323.9 46.4h0M326.2 42.1h0M324.0 43.1h0M322.6 44.2h0M322.6 44.1h0M321.4 45.3h0M325.6 42.2h0M325.6 49.3h0M324.7 44.4h0M324.1 51.0h0M330.3 52.0h0M323.5 43.1h0M323.8 43.5h0M324.3 55.2h0M323.0 66.3h0M324.3 45.4h0M319.4 60.5h0M329.1 43.9h0M324.3 45.0h0M324.3 43.1h0M324.5 42.7h0M325.7 61.3h0M324.3 43.0h0M325.2 50.2h0M324.5 42.5h0M325.2 43.7h0M323.5 44.9h0M324.2 44.0h0M326.3 45.4h0M322.3 46.8h0M327.2 40.9h0M320.2 46.1h0M324.4 42.6h0M324.6 52.1h0M323.0 43.7h0M324.9 43.3h0M327.3 41.3h0M320.8 46.1h0M325.0 43.0h0M324.3 42.3h0M324.8 44.7h0M324.3 42.5h0M324.0 44.8h0M322.5 44.1h0M320.1 48.3h0M326.4 41.0h0M324.8 43.0h0M326.3 41.1h0M327.1 41.9h0M323.5 42.9h0M322.8 43.4h0M327.1 41.1h0M323.5 44.7h0M321.4 45.7h0M325.7 43.3h0M323.9 46.6h0M321.5 44.4h0M324.2 42.5h0M325.7 44.0h0M325.1 42.8h0M323.4 49.8h0M324.8 42.9h0M326.3 41.7h0M321.7 69.7h0M322.5 43.9h0M324.8 42.6h0M326.1 43.5h0M322.3 44.0h0M320.7 50.6h0M324.2 42.7h0M321.1 47.5h0M322.5 46.5h0M322.4 44.5h0M324.7 43.7h0M320.9 44.9h0M320.3 48.0h0M323.2 49.9h0M326.7 42.4h0M325.7 41.9h0M323.5 62.7h0M336.7 45.4h0M347.3 32.7h0M349.9 35.4h0M332.3 43.0h0M339.1 46.5h0" stroke="#008000" stroke-width="1.8" stroke-linecap="square" fill="none"/>
<line x1="212.93" y1="121.15" x2="355.47" y2="20.25" stroke="#000" stroke-width="1" stroke-dasharray="2.2 1.3"/>
<rect x="208.60" y="18.40" width="6.2" height="5.6" rx="1.5" stroke="#dddddd" stroke-width="0.8" fill="#fff" fill-opacity="0.8"/>
<text x="224.40" y="33.70" font-size="10.5" font-weight="bold">(b)</text>
<text x="284.20" y="12.70" font-size="9.6" text-anchor="middle">AdaBoosting</text>
<text x="212.93" y="135.10" font-size="7.8" text-anchor="middle">0</text>
<text x="202.90" y="123.95" font-size="7.8" text-anchor="end">0</text>
<text x="251.98" y="135.10" font-size="7.8" text-anchor="middle">2</text>
<text x="202.90" y="96.31" font-size="7.8" text-anchor="end">2</text>
<text x="291.03" y="135.10" font-size="7.8" text-anchor="middle">4</text>
<text x="202.90" y="68.66" font-size="7.8" text-anchor="end">4</text>
<text x="330.09" y="135.10" font-size="7.8" text-anchor="middle">6</text>
<text x="202.90" y="41.02" font-size="7.8" text-anchor="end">6</text>
<text x="284.20" y="144.60" font-size="8.6" text-anchor="middle">Actual Band Gap (eV)</text>
<text transform="translate(194.00 70.70) rotate(-90)" x="0" y="0" font-size="8.8" text-anchor="middle">Predicted Band Gap (eV)</text>
<path d="M395.73 15.20V126.20M388.60 121.15H545.50M434.81 15.20V126.20M388.60 93.51H545.50M473.89 15.20V126.20M388.60 65.86H545.50M512.97 15.20V126.20M388.60 38.22H545.50" stroke="#dedede" stroke-width="0.8" fill="none"/>
<rect x="388.60" y="15.20" width="156.90" height="111.00" stroke="#dedede" stroke-width="0.8" fill="none"/>
<path d="M395.8 101.7h0M396.2 116.9h0M395.9 121.0h0M396.0 116.3h0M396.5 113.7h0M396.7 119.0h0M395.9 118.7h0M396.4 120.6h0M396.1 116.2h0M396.2 119.7h0M396.3 85.3h0M396.1 118.7h0M396.9 111.1h0M396.5 118.9h0M396.2 109.4h0M395.9 118.8h0M395.8 89.6h0M396.0 118.8h0M396.1 119.4h0M396.4 110.8h0M396.0 114.5h0M396.7 119.6h0M396.5 120.7h0M395.9 109.2h0M396.2 106.0h0M395.7 118.5h0M396.8 114.2h0M396.4 110.1h0M395.8 118.7h0M396.0 104.4h0M396.2 93.9h0M395.9 119.8h0M396.4 113.8h0M396.6 120.6h0M396.1 106.8h0M396.0 120.4h0M396.1 113.5h0M396.1 109.8h0M396.2 96.2h0M396.5 87.5h0M396.4 116.8h0M396.2 120.5h0M395.9 110.0h0M395.8 117.8h0M395.9 119.0h0M396.9 116.1h0M396.4 115.9h0M395.8 118.5h0M396.7 113.9h0M396.3 119.0h0M395.8 100.9h0M396.2 115.8h0M395.8 113.2h0M396.0 115.4h0M396.5 106.6h0M397.0 108.4h0M396.0 112.6h0M396.9 120.9h0M396.8 113.2h0M395.8 120.6h0M396.0 114.1h0M396.0 114.4h0M396.3 114.7h0M395.9 98.3h0M396.1 100.6h0M395.9 114.5h0M395.9 115.9h0M395.8 109.0h0M396.5 115.7h0M395.8 116.2h0M396.2 101.4h0M396.6 117.3h0M396.3 115.3h0M396.8 115.5h0M396.0 121.1h0M395.7 121.1h0M396.0 113.3h0M397.0 118.3h0M396.8 119.9h0M396.4 119.4h0M395.8 105.5h0M395.8 120.9h0M396.2 118.0h0M396.2 107.0h0M395.9 119.9h0M395.8 113.9h0M395.9 120.9h0M396.1 114.7h0M396.5 112.6h0M396.6 91.2h0M395.9 108.3h0M396.2 118.6h0M396.3 111.8h0M395.8 111.3h0M396.3 116.2h0M395.8 110.6h0M395.9 116.2h0M396.9 112.8h0M395.9 110.5h0M395.8 114.1h0M396.3 110.4h0M396.1 120.8h0M396.1 111.3h0M396.4 109.0h0M396.3 119.2h0M395.9 119.9h0M396.0 119.6h0M397.1 113.9h0M395.8 114.1h0M396.0 105.0h0M396.1 111.5h0M395.8 110.4h0M395.9 109.8h0M396.2 116.1h0M396.6 117.0h0M396.1 121.0h0M395.8 107.4h0M395.9 120.7h0M395.9 109.2h0M396.7 101.9h0M396.9 104.6h0M395.8 107.1h0M397.3 119.7h0M396.0 115.1h0M396.6 118.6h0M397.0 118.7h0M396.3 116.5h0M396.4 106.4h0M396.1 113.4h0M396.0 104.4h0M396.0 99.3h0M396.1 117.9h0M396.1 114.3h0M396.3 104.9h0M396.6 111.1h0M396.1 117.7h0M412.5 107.6h0M402.6 117.3h0M410.6 107.3h0M406.5 110.5h0M396.1 120.5h0M396.1 102.3h0M422.8 103.4h0M407.4 95.0h0M397.9 120.1h0M403.6 110.4h0M418.5 108.7h0M399.5 118.5h0M403.7 112.8h0M400.2 113.0h0M403.4 110.2h0M400.7 115.8h0M403.8 120.3h0M410.9 108.1h0M401.3 100.3h0M438.2 104.4h0M402.7 113.6h0M410.4 94.7h0M401.7 111.9h0M418.1 108.5h0M396.5 121.1h0M404.1 116.8h0M402.7 116.3h0M397.0 120.6h0M399.1 115.7h0M403.0 114.8h0M405.3 113.7h0M398.3 120.5h0M419.2 104.1h0M422.9 102.9h0M402.1 117.8h0M396.8 114.1h0M423.7 101.4h0M396.1 121.1h0M457.6 79.4h0M398.0 120.4h0M397.4 120.6h0M408.1 109.0h0M396.1 120.1h0M398.9 116.2h0M404.7 105.8h0M411.2 90.5h0M398.0 118.5h0M406.9 105.6h0M413.7 109.5h0M397.0 120.1h0M409.7 112.3h0M396.2 121.0h0M406.9 114.3h0M413.4 107.7h0M400.9 117.2h0M397.8 114.2h0M412.7 106.2h0M421.3 102.9h0M396.1 120.9h0M399.8 119.2h0M396.9 120.6h0M401.6 116.0h0M410.4 112.6h0M411.0 110.3h0M398.4 119.5h0M401.4 113.8h0M415.6 101.7h0M402.5 105.9h0M426.6 103.4h0M397.1 120.5h0M410.7 117.1h0M416.3 117.6h0M420.9 113.5h0M405.9 107.1h0M413.8 99.6h0M416.4 96.4h0M400.7 107.7h0M396.5 119.5h0M451.5 82.0h0M407.4 113.2h0M418.6 109.9h0M399.9 118.4h0M404.6 119.1h0M404.8 117.5h0M396.4 121.0h0M432.5 96.6h0M406.5 113.5h0M400.4 94.9h0M398.5 116.3h0M431.3 94.7h0M401.2 112.1h0M403.0 96.6h0M417.4 105.2h0M403.6 107.8h0M396.4 119.3h0M420.4 103.9h0M400.4 116.2h0M409.9 112.6h0M401.1 117.5h0M432.9 94.3h0M400.8 118.8h0M396.8 119.3h0M398.7 121.1h0M406.5 106.6h0M402.3 113.2h0M396.6 117.2h0M405.3 114.4h0M407.5 100.9h0M422.3 105.5h0M411.7 106.1h0M399.3 119.4h0M401.2 107.7h0M408.6 108.3h0M410.4 109.7h0M411.4 110.1h0M414.3 109.3h0M397.8 119.6h0M398.9 119.3h0M399.7 100.3h0M410.8 103.3h0M408.4 112.7h0M402.1 114.5h0M396.5 115.0h0M400.4 115.2h0M397.1 119.0h0M403.6 116.0h0M410.6 112.1h0M404.7 113.9h0M405.8 114.6h0M405.1 114.1h0M407.8 111.2h0M403.4 117.6h0M414.9 104.8h0M396.2 119.2h0M408.3 112.3h0M401.8 115.3h0M399.5 119.2h0M396.6 119.0h0M398.1 120.9h0M411.8 112.3h0M436.9 94.4h0M401.9 118.1h0M400.9 107.1h0M415.8 108.0h0M403.5 115.1h0M396.3 119.8h0M406.3 100.7h0M397.5 119.4h0M412.6 107.8h0M398.0 120.8h0M429.0 96.8h0M401.5 116.0h0M419.6 103.9h0M396.6 118.6h0M410.2 111.3h0M409.0 107.6h0M419.3 98.5h0M401.5 116.6h0M399.4 120.6h0M400.0 117.5h0M399.2 119.9h0M398.1 119.8h0M397.5 120.5h0M400.5 118.9h0M396.8 110.2h0M401.3 118.9h0M396.3 115.3h0M407.1 111.5h0M396.1 119.4h0M397.7 115.4h0M398.8 118.4h0M424.2 95.6h0M420.4 113.9h0M420.0 106.3h0M397.6 116.8h0M402.2 118.5h0M400.4 118.3h0M403.4 114.8h0M419.1 107.9h0M399.1 108.6h0M406.7 109.5h0M427.1 98.5h0M400.7 118.2h0M427.4 102.2h0M409.2 113.7h0M401.8 118.0h0M397.6 121.1h0M415.5 117.2h0M434.4 95.6h0M397.4 116.3h0M413.1 111.2h0M397.0 121.0h0M396.7 119.6h0M408.4 111.9h0M403.4 116.6h0M413.3 106.9h0M430.8 96.8h0M403.4 113.3h0M402.4 114.9h0M420.2 105.7h0M406.7 102.6h0M409.8 112.5h0M405.1 113.6h0M408.4 111.9h0M424.6 99.5h0M418.6 104.6h0M396.4 119.1h0M461.7 74.4h0M396.9 120.5h0M410.7 110.7h0M414.6 108.7h0M410.7 112.8h0M403.3 118.5h0M406.4 120.8h0M425.8 99.4h0M423.7 104.7h0M405.2 112.1h0M396.7 117.1h0M482.4 56.2h0M477.1 58.2h0M425.0 99.7h0M461.5 74.4h0M480.9 64.3h0M457.1 74.8h0M467.3 62.6h0M481.6 69.6h0M421.8 103.8h0M408.2 114.9h0M431.2 96.6h0M432.3 88.1h0M473.3 63.2h0M440.9 83.4h0M469.7 67.4h0M475.9 66.0h0M474.0 63.4h0M449.0 81.3h0M443.8 88.8h0M456.6 79.3h0M424.0 104.4h0M437.8 90.0h0M403.6 114.3h0M467.7 80.1h0M426.8 99.0h0M442.9 89.0h0M441.4 96.4h0M458.4 85.9h0M404.5 115.0h0M432.8 96.5h0M413.1 106.2h0M444.2 89.2h0M424.9 101.3h0M416.6 99.4h0M407.2 113.6h0M429.3 98.7h0M468.3 72.0h0M453.5 91.1h0M408.9 115.0h0M428.9 84.4h0M466.7 48.3h0M461.1 66.0h0M430.9 96.9h0M472.6 67.5h0M405.2 111.5h0M425.2 105.3h0M452.2 81.0h0M464.4 71.8h0M417.0 105.6h0M482.9 58.3h0M431.7 95.0h0M425.7 101.8h0M402.8 114.2h0M409.6 109.5h0M406.6 115.0h0M467.2 69.7h0M435.6 75.4h0M479.7 57.6h0M402.9 115.9h0M438.8 103.8h0M418.2 105.6h0M441.4 90.0h0M442.4 88.2h0M424.7 96.2h0M413.1 110.5h0M475.2 92.4h0M407.0 107.1h0M475.6 65.1h0M434.1 94.8h0M465.7 74.1h0M466.4 71.1h0M430.3 98.3h0M448.1 81.4h0M403.0 115.3h0M455.9 80.1h0M480.8 67.3h0M475.1 64.6h0M461.8 67.1h0M480.1 69.9h0M413.2 119.1h0M419.9 104.6h0M423.1 103.3h0M424.6 97.8h0M407.4 121.1h0M435.7 93.1h0M447.9 83.4h0M416.6 105.8h0M461.0 79.3h0M417.7 106.9h0M475.3 69.1h0M401.6 115.2h0M448.7 84.0h0M474.7 64.4h0M462.3 72.3h0M475.6 63.7h0M475.4 65.3h0M402.4 114.0h0M441.8 88.3h0M464.9 73.1h0M428.2 99.1h0M434.8 95.6h0M439.7 94.3h0M435.6 89.6h0M421.4 99.5h0M445.8 84.5h0M476.4 65.5h0M460.9 71.9h0M471.9 67.2h0M462.9 66.4h0M482.6 59.1h0M471.1 68.4h0M477.0 64.5h0M454.1 79.7h0M482.6 61.9h0M449.9 86.9h0M472.7 66.5h0M404.3 115.5h0M482.5 59.6h0M411.0 100.3h0M418.1 105.3h0M454.4 85.0h0M419.6 102.1h0M418.1 106.3h0M426.2 97.5h0M463.9 69.4h0M405.8 115.7h0M439.9 92.1h0M448.3 120.6h0M467.4 79.0h0M478.4 54.1h0M448.2 85.0h0M426.7 99.4h0M423.5 100.5h0M444.9 85.4h0M474.6 65.7h0M450.5 85.9h0M414.9 98.0h0M455.3 75.3h0M459.0 83.2h0M409.5 112.6h0M448.4 82.2h0M426.6 100.0h0M417.7 104.6h0M480.8 62.0h0M401.8 117.7h0M469.2 67.2h0M426.0 98.8h0M436.8 91.5h0M403.9 115.3h0M431.2 92.7h0M411.1 110.9h0M426.3 100.3h0M466.5 71.1h0M469.3 62.0h0M420.3 103.9h0M461.2 73.8h0M463.4 74.1h0M431.3 93.6h0M439.6 86.7h0M428.1 92.5h0M471.4 74.4h0M416.2 107.1h0M440.1 86.1h0M461.1 82.5h0M402.6 114.6h0M422.5 99.7h0M476.5 67.2h0M467.4 69.6h0M407.6 114.9h0M435.7 93.8h0M421.2 104.5h0M476.2 51.8h0M470.5 66.9h0M463.2 61.1h0M411.3 104.7h0M480.6 60.9h0M470.0 70.5h0M470.7 63.3h0M463.3 71.4h0M426.9 97.1h0M423.9 100.9h0M470.0 70.1h0M462.6 75.6h0M416.9 103.0h0M404.5 119.0h0M427.3 91.8h0M457.3 82.3h0M454.9 81.4h0M441.6 89.2h0M449.4 80.3h0M434.5 98.1h0M411.1 106.1h0M455.9 78.6h0M404.2 119.7h0M466.6 73.3h0M455.4 77.2h0M457.3 84.0h0M407.7 111.7h0M426.0 102.0h0M457.6 76.1h0M443.8 79.2h0M442.0 91.1h0M432.4 97.1h0M433.4 95.1h0M413.3 109.1h0M403.3 115.7h0M404.9 115.9h0M412.9 111.0h0M430.7 96.9h0M407.3 112.0h0M414.0 106.9h0M422.5 103.7h0M477.3 62.3h0M439.5 87.8h0M438.0 88.9h0M435.5 92.3h0M437.7 90.7h0M462.0 75.8h0M438.7 91.1h0M467.8 69.4h0M460.3 77.2h0M468.3 70.6h0M453.9 79.7h0M407.4 107.5h0M403.9 118.4h0M411.8 115.7h0M409.7 107.6h0M429.9 99.1h0M461.3 76.4h0M465.8 70.0h0M463.3 70.5h0M407.9 112.7h0M444.1 86.5h0M447.0 86.1h0M416.8 110.1h0M457.9 69.0h0M437.1 94.2h0M456.4 81.3h0M467.5 71.3h0M420.1 102.4h0M420.0 109.6h0M467.1 70.8h0M438.5 93.1h0M475.8 63.3h0M481.8 59.7h0M428.0 101.2h0M441.9 85.3h0M431.8 97.7h0M454.8 76.9h0M472.9 49.1h0M408.9 111.6h0M412.4 110.6h0M410.8 110.3h0M470.9 68.9h0M427.3 100.3h0M410.4 109.1h0M420.1 105.3h0M437.4 90.5h0M412.7 108.3h0M429.4 99.1h0M422.2 100.1h0M421.9 101.9h0M481.1 58.1h0M431.6 91.6h0M452.3 82.4h0M445.0 85.1h0M480.2 61.8h0M474.6 67.5h0M435.9 92.3h0M451.4 82.4h0M429.2 98.6h0M425.1 92.2h0M461.9 72.5h0M475.3 60.1h0M430.0 98.2h0M421.9 100.4h0M479.5 100.9h0M418.6 104.1h0M434.0 94.6h0M466.1 69.6h0M403.4 117.8h0M425.1 99.9h0M410.3 102.0h0M428.2 97.7h0M408.4 111.6h0M426.7 98.3h0M420.0 98.1h0M433.2 97.2h0M446.6 86.0h0M469.9 58.0h0M422.2 96.6h0M419.6 106.7h0M464.9 75.0h0M479.6 60.7h0M438.6 96.1h0M403.1 116.7h0M405.1 112.5h0M468.8 66.6h0M466.4 71.6h0M429.6 98.3h0M461.3 73.4h0M411.4 120.6h0M423.8 97.0h0M451.1 82.2h0M474.2 64.9h0M433.1 92.2h0M475.5 65.5h0M408.5 112.9h0M404.0 116.1h0M443.9 74.0h0M448.4 84.5h0M460.1 76.8h0M469.7 70.8h0M419.0 102.6h0M460.3 76.0h0M405.2 119.4h0M403.8 119.9h0M406.8 118.4h0M416.3 111.5h0M440.7 89.8h0M470.3 67.4h0M402.2 111.8h0M438.0 102.7h0M442.6 93.7h0M402.6 111.6h0M431.1 94.2h0M478.0 63.2h0M455.7 78.5h0M475.2 64.8h0M465.1 75.1h0M427.8 97.6h0M470.7 74.3h0M407.3 112.0h0M439.0 89.2h0M471.9 68.9h0M479.9 55.5h0M452.1 81.5h0M443.9 92.2h0M427.6 96.2h0M443.0 85.1h0M409.5 112.0h0M411.6 111.4h0M423.6 100.6h0M427.6 99.7h0M461.3 74.9h0M446.8 100.1h0M451.1 80.5h0M416.1 105.6h0M417.0 105.3h0M406.1 114.1h0M431.2 88.0h0M404.6 111.7h0M422.6 88.9h0M454.5 84.6h0M421.3 101.3h0M404.7 118.0h0M467.3 65.8h0M481.1 60.3h0M402.8 116.6h0M438.3 89.6h0M478.8 65.1h0M474.1 65.2h0M402.6 119.5h0M483.3 59.8h0M428.4 98.4h0M413.9 93.3h0M468.7 67.2h0M479.3 61.7h0M445.6 85.6h0M462.8 69.0h0M441.1 89.5h0M443.0 82.3h0M462.8 73.9h0M467.2 69.7h0M476.5 66.8h0M456.5 75.8h0M456.5 84.3h0M453.7 60.0h0M464.3 81.0h0M428.7 100.3h0M470.6 69.0h0M462.7 74.0h0M459.7 74.7h0M480.8 58.8h0M414.1 107.5h0M459.1 72.6h0M418.7 104.9h0M422.4 104.8h0M476.4 63.5h0M452.0 76.0h0M471.2 70.4h0M439.8 91.8h0M467.2 68.0h0M427.3 119.3h0M429.3 96.4h0M470.4 65.4h0M450.4 81.8h0M416.5 107.6h0M450.9 92.9h0M477.3 67.0h0M456.5 79.8h0M429.6 97.0h0M457.3 76.7h0M436.5 94.0h0M469.6 66.8h0M478.0 48.5h0M453.3 48.3h0M482.2 58.7h0M425.0 102.1h0M427.3 99.9h0M440.0 90.7h0M447.0 80.2h0M455.0 82.1h0M454.7 79.3h0M409.3 102.5h0M464.3 74.5h0M416.4 107.7h0M470.3 67.2h0M411.9 109.9h0M470.6 69.6h0M457.9 75.3h0M443.5 87.4h0M467.0 61.6h0M421.7 104.8h0M412.3 109.7h0M452.6 79.4h0M403.8 114.3h0M433.0 86.2h0M421.7 93.4h0M452.0 78.5h0M467.6 73.1h0M442.9 88.7h0M465.7 72.1h0M432.8 94.0h0M406.3 114.0h0M473.5 72.4h0M429.0 112.7h0M475.1 55.2h0M449.7 83.0h0M481.1 58.9h0M434.3 96.2h0M452.6 80.8h0M446.7 87.6h0M431.0 97.4h0M422.3 101.7h0M444.6 89.9h0M437.1 92.7h0M413.3 108.8h0M401.7 113.6h0M414.3 106.3h0M457.2 76.8h0M402.9 110.4h0M419.7 103.1h0M462.1 85.4h0M472.4 67.7h0M440.9 89.3h0M421.8 98.3h0M481.1 62.8h0M465.7 73.8h0M425.3 97.0h0M478.9 61.6h0M441.1 90.6h0M455.9 77.4h0M482.1 59.9h0M454.2 80.3h0M403.4 116.6h0M469.1 72.5h0M471.8 68.6h0M465.7 71.0h0M467.5 69.6h0M447.9 82.8h0M451.2 80.2h0M409.5 111.3h0M438.3 86.8h0M428.8 97.5h0M422.2 103.4h0M422.4 104.7h0M437.1 72.7h0M425.0 101.4h0M401.6 118.8h0M445.0 91.7h0M478.4 64.9h0M442.5 87.0h0M480.5 60.7h0M437.7 91.9h0M470.0 62.7h0M435.3 92.8h0M450.0 79.5h0M449.9 83.0h0M468.1 70.9h0M471.5 69.5h0M473.2 68.9h0M436.6 93.0h0M461.5 73.3h0M404.6 115.7h0M402.7 113.2h0M467.7 70.2h0M427.6 96.3h0M437.2 91.2h0M481.1 60.5h0M448.2 90.1h0M475.2 68.9h0M472.1 60.0h0M417.4 107.0h0M410.7 112.3h0M432.8 92.4h0M480.0 64.2h0M478.7 62.4h0M432.1 94.2h0M419.7 105.5h0M461.7 74.3h0M406.5 113.2h0M477.5 58.2h0M424.9 103.8h0M440.3 88.3h0M428.4 97.6h0M412.5 74.3h0M477.0 58.3h0M449.6 80.9h0M436.3 87.8h0M422.0 102.8h0M431.5 112.7h0M445.3 88.4h0M445.9 78.8h0M461.3 94.3h0M456.5 77.2h0M412.0 108.9h0M439.3 88.4h0M458.2 76.7h0M433.2 93.6h0M406.3 113.2h0M473.9 67.1h0M454.1 79.3h0M409.9 121.0h0M476.3 65.0h0M426.1 100.6h0M415.6 107.8h0M482.0 59.0h0M430.1 90.2h0M472.2 66.2h0M469.3 67.0h0M454.5 81.0h0M440.9 74.5h0M440.7 88.8h0M432.2 96.8h0M444.1 58.4h0M414.6 119.9h0M457.6 77.4h0M443.5 84.4h0M470.5 58.7h0M445.0 85.3h0M456.0 80.3h0M456.2 81.3h0M445.7 86.2h0M402.2 114.3h0M452.0 82.9h0M463.6 42.9h0M452.9 80.6h0M434.7 91.7h0M403.5 116.5h0M467.9 71.9h0M409.3 109.2h0M432.8 94.7h0M481.8 63.5h0M477.9 62.1h0M406.9 111.3h0M454.2 76.5h0M464.1 72.4h0M424.4 102.7h0M428.3 94.7h0M403.9 100.0h0M429.8 98.8h0M442.7 85.6h0M417.0 107.7h0M457.5 75.9h0M429.6 79.0h0M456.2 77.3h0M444.1 95.3h0M432.0 100.3h0M430.8 94.9h0M458.4 75.4h0M425.9 99.3h0M478.2 64.7h0M479.8 61.7h0M473.5 75.8h0M453.3 78.7h0M474.6 63.3h0M421.7 103.0h0M471.4 60.7h0M465.2 72.6h0M443.9 87.3h0M472.9 65.9h0M468.5 67.1h0M449.9 84.7h0M469.6 70.2h0M403.8 116.7h0M450.5 82.0h0M452.6 77.7h0M429.1 98.7h0M469.6 72.0h0M471.6 61.2h0M472.1 67.9h0M418.6 108.1h0M451.8 82.6h0M403.3 106.9h0M462.3 74.8h0M459.9 66.6h0M405.8 113.5h0M474.6 67.0h0M410.9 112.6h0M435.0 101.8h0M471.9 69.7h0M413.3 108.3h0M436.8 101.5h0M419.8 104.1h0M447.9 81.6h0M418.3 101.9h0M481.3 60.5h0M463.6 72.2h0M447.1 83.3h0M433.7 96.2h0M466.4 72.4h0M464.1 72.9h0M414.0 97.3h0M416.0 114.4h0M429.8 97.8h0M478.9 63.2h0M464.4 73.3h0M477.6 63.5h0M443.8 87.0h0M442.6 89.6h0M450.2 86.8h0M459.8 65.2h0M409.6 105.7h0M408.2 112.9h0M404.0 117.5h0M465.1 73.0h0M414.5 105.1h0M472.6 78.5h0M481.5 58.3h0M436.2 91.5h0M441.7 91.0h0M465.7 67.8h0M438.6 90.8h0M427.9 99.6h0M477.0 65.5h0M409.7 109.1h0M430.4 93.6h0M480.6 60.8h0M461.2 76.4h0M402.7 115.4h0M461.5 74.4h0M443.4 90.6h0M437.7 94.5h0M441.4 89.8h0M425.9 95.6h0M444.5 86.4h0M441.6 92.3h0M463.1 72.0h0M404.5 114.1h0M447.0 83.7h0M436.0 90.2h0M472.6 66.3h0M432.6 95.8h0M448.6 80.4h0M418.9 106.2h0M474.2 64.7h0M406.7 117.7h0M477.8 60.3h0M426.4 97.4h0M423.4 101.7h0M476.8 67.5h0M440.2 88.6h0M437.0 90.8h0M469.1 69.7h0M443.5 85.2h0M436.0 91.2h0M453.0 79.7h0M446.3 85.6h0M455.9 73.4h0M468.4 68.5h0M402.0 117.6h0M442.8 88.2h0M411.8 110.5h0M422.6 105.5h0M434.9 93.1h0M471.7 66.6h0M428.5 97.3h0M467.7 68.1h0M444.1 89.7h0M459.4 74.3h0M434.4 89.4h0M420.3 105.1h0M425.7 91.5h0M454.1 79.7h0M463.0 74.8h0M426.3 101.2h0M453.5 87.4h0M413.5 113.1h0M441.8 91.4h0M439.0 88.5h0M478.6 66.3h0M405.9 114.4h0M430.9 96.8h0M465.7 69.5h0M401.7 118.0h0M469.0 71.5h0M459.1 76.0h0M416.7 111.7h0M431.3 99.2h0M476.0 63.5h0M422.3 101.1h0M425.9 101.0h0M450.6 80.4h0M439.2 91.4h0M469.1 68.3h0M473.6 64.8h0M462.7 76.3h0M469.0 71.0h0M457.6 76.4h0M421.3 101.8h0M469.2 65.1h0M458.3 57.2h0M451.8 82.2h0M452.8 80.4h0M449.1 84.9h0M481.6 61.3h0M468.1 44.5h0M420.4 106.1h0M431.0 92.1h0M411.1 111.4h0M478.5 58.8h0M443.5 70.8h0M441.5 88.9h0M409.0 114.3h0M478.2 62.2h0M424.1 102.6h0M439.5 88.4h0M421.7 102.8h0M415.7 104.6h0M475.8 65.4h0M426.6 102.9h0M438.2 89.7h0M428.5 98.8h0M421.0 107.6h0M424.5 108.7h0M474.5 66.8h0M414.0 112.1h0M461.9 76.3h0M466.0 70.4h0M426.3 97.5h0M457.2 72.0h0M445.4 87.2h0M450.8 85.7h0M469.9 70.0h0M419.6 105.0h0M436.0 83.3h0M468.0 65.4h0M440.0 89.6h0M440.8 89.9h0M431.5 95.5h0M465.6 70.0h0M479.2 59.6h0M412.4 106.6h0M455.5 77.8h0M435.5 89.8h0M419.5 102.7h0M435.9 91.8h0M455.9 79.5h0M426.7 97.7h0M404.2 119.1h0M470.2 68.0h0M446.6 86.1h0M434.1 118.9h0M477.7 58.3h0M477.9 62.0h0M467.8 67.3h0M463.0 74.0h0M407.5 111.0h0M426.9 97.1h0M439.7 87.7h0M407.1 97.8h0M436.4 90.2h0M410.6 75.0h0M418.6 108.0h0M457.4 86.8h0M404.2 110.9h0M441.4 87.9h0M446.5 90.6h0M464.3 71.5h0M438.1 93.2h0M427.9 100.9h0M418.4 106.4h0M464.0 70.3h0M460.3 98.9h0M453.0 77.9h0M401.8 115.4h0M469.9 89.0h0M425.8 99.0h0M454.7 76.0h0M417.6 108.7h0M404.7 104.6h0M457.2 77.5h0M463.6 79.0h0M421.1 95.8h0M402.1 119.5h0M432.6 92.7h0M451.6 81.2h0M450.3 92.0h0M406.5 114.9h0M444.2 86.7h0M436.0 94.4h0M430.2 99.3h0M438.5 88.7h0M427.7 97.5h0M459.4 86.8h0M479.8 62.1h0M433.0 92.9h0M450.3 84.0h0M430.9 95.7h0M448.5 87.5h0M460.2 72.4h0M475.6 67.2h0M433.7 95.0h0M442.2 86.6h0M441.3 87.1h0M438.5 90.0h0M451.5 81.8h0M476.9 64.2h0M406.2 114.7h0M438.7 90.7h0M451.6 82.8h0M426.1 91.8h0M430.5 95.0h0M476.2 66.4h0M459.2 95.1h0M406.6 113.7h0M463.8 70.5h0M416.2 104.2h0M414.0 110.1h0M427.2 100.0h0M481.9 59.0h0M472.5 66.1h0M467.9 71.5h0M438.1 90.7h0M405.0 114.9h0M406.0 110.8h0M455.5 81.1h0M469.5 71.3h0M448.6 85.9h0M410.0 112.4h0M423.2 93.6h0M475.1 63.5h0M464.6 76.0h0M469.6 86.6h0M478.0 62.3h0M422.8 102.1h0M408.4 111.6h0M413.1 104.6h0M477.7 74.4h0M457.9 74.8h0M459.2 71.5h0M459.8 79.0h0M447.9 84.6h0M447.1 89.0h0M414.5 108.8h0M414.7 110.0h0M443.3 85.9h0M414.3 105.7h0M416.5 106.2h0M482.6 51.8h0M445.0 65.6h0M417.1 105.7h0M443.6 85.7h0M412.2 106.9h0M476.3 64.9h0M459.8 50.8h0M410.4 112.0h0M401.9 117.2h0M429.9 94.7h0M428.8 98.7h0M462.6 74.5h0M431.5 94.8h0M465.4 69.4h0M441.0 88.4h0M424.5 108.7h0M453.7 89.1h0M471.1 68.8h0M429.0 96.6h0M460.0 82.4h0M455.4 78.6h0M472.4 68.7h0M407.3 109.0h0M470.5 60.8h0M445.5 87.9h0M447.2 85.2h0M447.2 96.1h0M443.9 86.1h0M482.2 66.1h0M457.2 78.6h0M413.1 105.8h0M445.6 85.1h0M422.1 104.5h0M457.6 76.5h0M481.7 49.4h0M472.1 66.1h0M454.8 52.2h0M421.3 109.5h0M429.7 112.1h0M403.6 111.4h0M453.1 81.1h0M479.9 61.1h0M470.3 68.1h0M402.2 107.8h0M411.5 114.0h0M413.2 108.5h0M461.9 74.8h0M445.3 92.4h0M427.7 99.1h0M407.4 110.2h0M453.4 113.4h0M412.1 109.3h0M420.8 110.9h0M450.3 82.7h0M433.7 94.7h0M417.0 84.0h0M472.2 67.8h0M473.5 67.7h0M422.7 101.6h0M430.7 94.6h0M455.8 78.1h0M476.9 61.0h0M477.1 62.8h0M422.1 103.1h0M406.9 113.6h0M475.1 63.9h0M441.5 87.4h0M448.8 83.9h0M426.9 98.9h0M409.2 110.5h0M470.4 68.4h0M446.9 95.6h0M409.9 109.0h0M411.2 109.0h0M478.8 60.6h0M435.8 88.6h0M412.2 107.9h0M419.8 105.0h0M443.9 75.4h0M477.2 64.0h0M434.5 94.2h0M424.6 105.9h0M467.3 70.3h0M425.6 101.9h0M415.4 106.2h0M468.5 66.3h0M404.8 111.3h0M453.2 79.6h0M419.9 101.5h0M406.2 114.4h0M421.1 103.3h0M410.2 105.5h0M427.6 100.8h0M480.1 61.3h0M413.3 109.4h0M459.7 78.0h0M419.6 103.4h0M475.2 63.5h0M472.1 67.0h0M408.6 109.4h0M404.1 116.3h0M441.6 83.8h0M469.2 66.4h0M440.9 90.1h0M473.8 64.9h0M464.0 71.6h0M467.3 72.0h0M474.1 82.2h0M432.4 96.2h0M405.5 120.8h0M410.8 113.9h0M430.7 96.7h0M476.7 64.4h0M434.0 97.9h0M458.6 86.1h0M459.9 74.5h0M471.5 68.5h0M456.3 77.8h0M439.2 92.8h0M429.1 91.4h0M450.5 85.2h0M427.4 100.2h0M448.2 83.5h0M413.4 118.8h0M455.1 70.4h0M442.5 91.0h0M459.6 80.6h0M412.7 110.0h0M449.8 85.1h0M445.0 85.4h0M457.1 77.6h0M458.1 80.6h0M439.0 91.2h0M459.6 74.9h0M468.0 72.1h0M408.5 110.9h0M427.4 102.6h0M478.0 65.3h0M458.0 78.1h0M432.5 94.6h0M411.9 111.2h0M465.8 71.3h0M402.8 118.4h0M472.0 67.9h0M466.4 73.4h0M421.7 106.6h0M452.6 81.0h0M469.4 69.7h0M452.4 82.4h0M465.2 69.6h0M422.0 119.5h0M438.2 92.1h0M454.0 81.5h0M430.5 97.8h0M467.9 72.1h0M445.8 88.9h0M428.5 96.3h0M468.3 73.2h0M452.6 78.2h0M402.0 108.7h0M466.7 70.1h0M460.5 75.5h0M418.7 105.2h0M445.0 97.1h0M413.0 108.3h0M443.1 88.9h0M426.2 96.2h0M453.2 80.6h0M404.0 113.3h0M419.4 106.7h0M430.6 94.9h0M430.0 97.2h0M456.4 86.1h0M433.4 95.6h0M438.6 85.2h0M458.8 71.2h0M439.3 92.9h0M417.9 107.4h0M453.8 81.7h0M449.0 85.6h0M465.7 82.7h0M417.7 105.1h0M405.9 116.4h0M444.0 88.6h0M476.3 66.7h0M413.7 93.8h0M410.2 109.7h0M479.3 62.3h0M451.6 83.7h0M473.0 64.6h0M432.7 92.0h0M406.6 112.0h0M450.2 84.2h0M495.5 50.5h0M501.9 46.3h0M490.8 52.9h0M497.2 48.9h0M484.9 60.1h0M498.0 49.4h0M493.2 50.9h0M497.3 60.9h0M501.4 47.2h0M488.4 57.2h0M489.5 55.3h0M495.6 50.5h0M497.8 50.2h0M485.7 52.9h0M484.2 60.3h0M487.9 57.5h0M499.5 57.8h0M495.9 48.1h0M498.8 58.1h0M499.9 47.9h0M487.6 57.5h0M490.6 52.2h0M493.1 54.1h0M501.7 51.0h0M496.5 50.6h0M490.8 55.4h0M494.5 51.8h0M490.7 53.4h0M501.0 47.7h0M486.5 58.9h0M495.1 50.3h0M484.5 58.2h0M485.9 55.8h0M498.7 50.1h0M485.9 72.3h0M502.9 49.5h0M490.3 52.3h0M494.6 53.2h0M493.0 54.8h0M491.0 53.8h0M499.7 50.8h0M485.9 57.2h0M486.0 56.4h0M498.6 39.9h0M497.2 49.5h0M488.0 58.7h0M484.8 55.4h0M490.0 52.1h0M502.8 45.6h0M484.4 57.4h0M497.6 48.2h0M488.8 56.9h0M486.7 57.9h0M485.2 57.8h0M498.5 49.0h0M488.3 55.6h0M489.3 63.9h0M490.7 55.7h0M494.6 69.7h0M501.1 48.2h0M492.2 69.7h0M498.9 46.9h0M500.1 48.5h0M496.9 48.2h0M485.4 60.0h0M488.6 57.3h0M488.4 57.2h0M491.6 50.4h0M486.9 49.7h0M485.6 67.7h0M497.0 51.1h0M492.1 53.7h0M492.9 49.6h0M499.0 46.6h0M487.2 65.1h0M498.0 49.5h0M491.9 51.6h0M484.8 57.3h0M497.1 48.9h0M484.3 58.0h0M490.4 52.8h0M485.6 31.9h0M501.8 46.5h0M502.0 46.5h0M486.5 56.4h0M498.0 31.9h0M491.5 54.9h0M496.4 49.7h0M497.1 45.6h0M494.0 51.6h0M488.0 55.3h0M495.4 51.4h0M500.1 44.0h0M486.6 55.6h0M490.1 52.6h0M489.9 54.5h0M492.3 46.3h0M493.1 52.0h0M485.6 53.5h0M492.3 53.3h0M492.2 48.7h0M497.4 49.2h0M490.1 52.0h0M489.2 55.0h0M497.6 49.9h0M492.6 52.0h0M495.0 49.6h0M490.7 53.8h0M496.7 51.6h0M484.4 47.6h0M492.6 50.1h0M495.3 54.4h0M503.1 46.2h0M501.2 46.7h0M501.0 47.7h0M488.0 54.2h0M493.0 52.1h0M500.6 47.9h0M489.1 54.1h0M485.7 59.0h0M488.3 53.7h0M496.3 70.7h0M495.8 52.1h0M498.5 50.6h0M493.0 53.6h0M509.0 41.7h0M508.6 44.5h0M507.1 42.5h0M507.3 43.0h0M510.1 40.2h0M507.1 42.8h0M510.0 40.3h0M505.0 48.5h0M506.1 43.6h0M505.8 44.5h0M509.6 40.7h0M506.0 44.0h0M506.0 44.7h0M507.8 42.7h0M508.3 43.1h0M504.7 44.4h0M508.0 42.8h0M504.0 44.7h0M509.2 41.1h0M504.1 44.6h0M509.2 40.9h0M507.7 46.8h0M506.8 42.8h0M506.3 43.1h0M508.6 56.0h0M506.0 44.0h0M504.5 44.3h0M507.4 54.4h0M507.7 42.1h0M506.9 43.5h0M508.0 42.1h0M508.8 44.6h0M505.3 51.4h0M506.3 43.0h0M505.8 44.0h0M504.8 63.9h0M506.7 43.8h0M509.6 40.9h0M507.4 42.4h0M506.5 44.1h0M508.5 44.2h0M507.2 50.7h0M510.3 40.9h0M507.4 43.0h0M507.6 42.2h0M504.4 57.3h0M505.4 44.1h0M508.0 42.5h0M510.2 40.4h0M506.4 43.5h0M508.0 46.1h0M507.0 43.3h0M508.8 41.4h0M511.5 39.9h0M508.7 42.3h0M506.8 44.5h0M509.7 43.5h0M506.2 43.0h0M505.2 44.3h0M506.5 45.6h0M504.4 44.6h0M506.0 44.1h0M509.7 47.8h0M507.5 42.9h0M504.9 44.8h0M506.0 45.6h0M509.8 43.0h0M509.2 41.8h0M504.7 45.5h0M505.7 44.8h0M507.0 43.0h0M504.6 45.5h0M508.1 42.5h0M507.4 42.6h0M506.0 43.6h0M506.8 42.8h0M509.1 41.8h0M508.9 43.7h0M506.7 43.4h0M504.5 45.4h0M507.8 43.2h0M505.7 44.6h0M505.1 44.5h0M506.7 44.7h0M508.4 41.5h0M511.0 39.8h0M505.4 44.5h0M504.7 44.2h0M507.1 42.4h0M506.0 60.6h0M507.9 42.9h0M504.5 44.8h0M508.5 41.4h0M505.4 43.8h0M507.7 42.3h0M506.7 43.5h0M506.7 43.2h0M505.8 54.7h0M507.9 41.8h0M505.4 44.3h0M508.7 41.9h0M503.7 45.1h0M506.9 45.2h0M507.7 42.2h0M507.5 42.3h0M509.3 42.4h0M504.2 45.2h0M503.4 45.1h0M509.1 47.3h0M506.1 45.1h0M510.7 40.3h0M508.6 41.5h0M507.0 43.7h0M506.1 43.3h0M507.5 42.6h0M507.5 43.0h0M504.6 44.3h0M505.4 44.8h0M507.8 43.4h0M507.6 42.9h0M510.3 44.4h0M506.8 46.0h0M504.2 44.6h0M508.4 41.6h0M504.0 45.0h0M506.6 43.3h0M509.0 42.1h0M502.2 46.3h0M508.2 42.5h0M506.3 43.2h0M505.6 44.3h0M510.4 40.9h0M507.8 43.5h0M505.3 48.9h0M506.4 47.3h0M507.8 42.2h0M506.9 43.6h0M505.4 44.8h0M506.3 43.7h0M511.6 39.9h0M511.8 47.0h0M502.7 45.8h0M505.7 44.5h0M505.3 50.4h0M506.0 43.7h0M507.5 43.0h0M506.6 46.1h0M507.9 46.6h0M506.8 43.5h0M507.7 42.4h0M507.7 42.9h0M507.0 42.9h0M517.4 47.8h0M533.5 25.9h0M525.7 35.4h0M514.1 60.2h0M535.2 32.6h0M531.3 28.8h0" stroke="#ffa500" stroke-width="1.8" stroke-linecap="square" fill="none"/>
<path d="M396.0 110.9h0M396.0 118.9h0M396.2 118.2h0M396.3 115.9h0M396.0 112.1h0M396.9 120.1h0M396.2 120.2h0M396.0 87.8h0M395.8 120.2h0M396.7 119.2h0M395.7 116.1h0M396.0 118.3h0M396.1 106.4h0M395.9 118.8h0M395.7 115.8h0M396.0 110.1h0M396.3 108.2h0M396.8 118.1h0M395.7 120.8h0M396.3 120.7h0M395.8 118.3h0M396.0 115.0h0M396.3 116.1h0M395.8 119.1h0M395.8 119.5h0M396.5 118.5h0M396.5 115.6h0M395.9 116.4h0M395.9 119.6h0M396.4 118.8h0M396.3 116.2h0M396.1 116.2h0M395.8 120.0h0M395.9 119.8h0M396.2 116.6h0M396.1 121.1h0M396.2 115.3h0M397.0 120.4h0M395.9 115.8h0M396.5 118.6h0M396.4 116.2h0M395.9 116.2h0M396.0 119.9h0M395.8 93.2h0M395.9 119.2h0M396.4 119.9h0M395.9 115.9h0M396.0 116.1h0M396.2 120.6h0M396.6 119.2h0M396.3 116.1h0M396.9 119.7h0M396.7 116.8h0M395.8 116.5h0M396.0 118.7h0M396.4 114.4h0M395.9 118.3h0M396.2 115.5h0M397.1 117.0h0M396.0 120.5h0M396.7 111.2h0M396.5 119.9h0M396.1 114.0h0M396.0 120.6h0M397.1 118.7h0M396.1 120.9h0M396.6 116.0h0M397.0 117.9h0M395.9 114.6h0M395.9 120.7h0M396.3 120.4h0M396.0 120.5h0M396.5 118.1h0M396.1 120.5h0M396.4 114.8h0M396.8 120.6h0M395.9 115.7h0M395.8 119.1h0M396.0 109.6h0M396.2 116.6h0M396.5 88.0h0M395.8 121.1h0M396.8 91.7h0M396.3 121.0h0M396.1 117.2h0M396.4 114.4h0M396.7 119.3h0M396.3 118.3h0M396.1 118.8h0M396.0 119.0h0M396.1 119.0h0M396.2 115.4h0M396.4 120.9h0M396.1 92.3h0M396.1 116.6h0M395.9 118.4h0M396.1 115.9h0M396.7 118.2h0M395.8 121.0h0M395.7 120.8h0M396.9 118.9h0M396.0 120.9h0M396.0 120.4h0M396.2 117.5h0M405.8 112.2h0M404.7 114.4h0M398.1 121.0h0M399.5 115.0h0M401.8 119.7h0M403.9 114.0h0M399.8 119.0h0M419.7 106.4h0M400.0 104.3h0M401.7 118.9h0M396.1 120.6h0M398.1 120.9h0M405.9 113.7h0M410.0 108.5h0M397.7 118.6h0M415.4 108.1h0M405.2 107.6h0M448.3 82.6h0M402.0 109.0h0M399.2 116.3h0M396.1 120.6h0M417.0 106.4h0M405.5 114.4h0M450.0 85.7h0M405.6 107.3h0M406.4 110.4h0M399.1 118.0h0M400.1 117.0h0M396.6 121.1h0M424.7 100.0h0M415.4 108.1h0M408.2 109.4h0M411.3 111.2h0M400.2 120.2h0M407.6 111.5h0M402.6 114.8h0M417.6 104.2h0M401.2 116.8h0M400.6 117.5h0M397.1 119.9h0M397.3 120.2h0M400.0 117.3h0M402.2 116.1h0M409.8 112.0h0M412.5 110.6h0M407.8 111.6h0M405.4 119.2h0M400.7 119.4h0M396.1 119.7h0M405.3 115.7h0M399.5 119.8h0M398.1 104.1h0M397.0 120.1h0M400.5 119.1h0M396.5 120.8h0M413.8 119.1h0M399.4 103.5h0M396.7 121.1h0M397.3 119.1h0M398.1 116.5h0M400.2 116.0h0M411.6 112.4h0M403.6 118.1h0M405.7 113.3h0M400.7 117.3h0M402.6 110.2h0M397.8 118.6h0M396.9 119.8h0M397.3 107.3h0M396.1 105.7h0M400.7 117.6h0M396.1 118.9h0M425.9 100.4h0M400.7 113.0h0M410.9 108.3h0M406.9 115.1h0M399.4 117.6h0M399.5 115.2h0M397.9 119.8h0M418.1 107.3h0M416.5 118.5h0M401.8 115.0h0M408.5 110.3h0M396.1 120.4h0M403.2 116.1h0M444.0 87.6h0M404.1 114.1h0M405.1 118.8h0M397.2 118.7h0M403.8 119.3h0M397.6 116.7h0M402.6 118.2h0M396.6 121.1h0M400.5 115.9h0M423.6 102.3h0M423.2 103.9h0M399.0 119.7h0M398.6 118.0h0M413.3 107.6h0M412.4 109.9h0M426.8 99.7h0M427.1 98.7h0M407.1 113.8h0M404.2 113.8h0M396.1 117.2h0M413.1 107.5h0M429.8 104.6h0M396.6 120.8h0M400.6 119.6h0M402.4 118.8h0M400.1 118.2h0M399.9 118.7h0M419.8 103.5h0M399.8 117.5h0M406.1 113.6h0M396.1 120.4h0M396.6 117.3h0M406.1 113.4h0M399.0 118.8h0M404.4 106.3h0M398.8 119.5h0M404.8 114.8h0M397.3 121.0h0M407.1 107.9h0M400.6 112.4h0M400.8 116.2h0M416.6 109.6h0M407.4 115.2h0M397.8 120.2h0M403.5 112.0h0M399.2 118.6h0M427.8 98.8h0M400.5 119.4h0M409.1 112.6h0M451.3 81.4h0M409.0 110.2h0M400.8 115.6h0M402.4 117.8h0M401.8 115.8h0M400.8 118.2h0M396.1 121.0h0M397.1 120.4h0M396.1 120.2h0M406.5 113.9h0M407.5 90.0h0M432.1 95.7h0M407.4 114.3h0M398.1 117.8h0M398.7 118.8h0M433.4 92.8h0M418.7 103.5h0M404.5 115.6h0M410.2 110.2h0M405.9 113.0h0M403.8 114.7h0M398.4 120.5h0M420.4 104.0h0M406.3 113.1h0M397.8 119.7h0M426.7 116.7h0M399.5 117.9h0M410.4 112.3h0M418.0 107.6h0M399.3 120.9h0M398.5 116.6h0M404.0 115.8h0M409.8 115.9h0M470.9 68.9h0M442.1 87.5h0M424.7 102.5h0M473.6 43.5h0M466.4 70.9h0M455.4 79.2h0M464.6 56.3h0M448.1 80.9h0M474.4 68.9h0M445.7 86.0h0M454.5 82.0h0M470.0 68.4h0M453.3 79.8h0M423.2 102.8h0M429.0 95.3h0M441.9 87.6h0M402.5 115.5h0M460.6 76.8h0M479.8 61.8h0M470.1 69.8h0M464.0 73.9h0M426.3 97.2h0M432.9 95.5h0M441.4 89.8h0M420.8 103.8h0M456.9 78.0h0M451.9 87.2h0M423.8 100.7h0M428.3 97.9h0M465.4 69.9h0M439.5 86.9h0M412.8 111.0h0M426.6 101.2h0M410.2 109.9h0M431.5 95.8h0M418.9 104.0h0M414.0 109.4h0M467.0 74.5h0M408.1 111.0h0M423.2 101.5h0M463.0 76.5h0M460.8 77.0h0M471.2 67.0h0M445.9 87.9h0M448.0 83.2h0M441.6 89.6h0M415.6 118.8h0M446.4 85.3h0M402.5 116.5h0M407.6 116.3h0M441.9 90.7h0M417.8 103.9h0M457.3 71.9h0M417.6 107.3h0M408.1 115.9h0M419.7 102.0h0M430.7 97.7h0M426.5 98.1h0M469.6 68.9h0M463.1 68.8h0M410.6 105.8h0M421.4 98.8h0M426.9 97.6h0M433.0 99.5h0M466.2 72.0h0M433.0 98.8h0M448.6 83.2h0M411.7 110.2h0M418.7 102.9h0M433.9 94.0h0M431.6 88.0h0M466.5 71.7h0M450.1 78.2h0M413.2 116.5h0M479.0 62.7h0M421.9 101.7h0M472.0 76.8h0M456.6 75.3h0M407.6 111.8h0M412.9 108.3h0M465.3 79.8h0M473.2 63.8h0M461.7 72.6h0M425.9 101.6h0M412.4 104.4h0M430.8 95.4h0M442.1 88.6h0M455.9 80.2h0M409.4 110.3h0M449.9 95.8h0M482.0 58.7h0M475.8 67.3h0M446.8 84.5h0M437.7 91.2h0M453.8 79.8h0M447.1 88.2h0M456.6 77.6h0M430.8 97.6h0M418.4 96.7h0M448.3 83.7h0M480.2 62.0h0M422.6 101.4h0M463.1 73.7h0M481.6 61.6h0M425.8 98.5h0M458.7 72.3h0M479.5 46.9h0M437.0 91.6h0M434.0 95.3h0M446.9 83.9h0M453.3 68.0h0M407.4 111.5h0M472.8 65.9h0M470.7 67.9h0M457.2 77.7h0M475.2 72.8h0M466.4 65.4h0M437.9 90.8h0M436.2 92.3h0M444.6 86.1h0M418.9 107.0h0M462.4 70.5h0M482.8 58.4h0M402.2 117.1h0M455.9 79.8h0M434.5 94.2h0M476.9 64.0h0M433.3 96.7h0M449.5 82.6h0M429.0 96.4h0M408.5 113.6h0M426.7 100.0h0M411.1 110.7h0M479.9 61.3h0M435.7 91.3h0M463.3 76.1h0M423.0 100.5h0M483.2 53.7h0M420.7 104.9h0M438.2 90.5h0M457.1 100.0h0M441.3 87.5h0M446.4 84.3h0M479.5 64.7h0M418.0 104.7h0M477.5 62.7h0M420.8 101.1h0M481.5 66.0h0M411.6 119.1h0M464.7 70.5h0M483.0 58.6h0M427.2 99.5h0M424.2 99.9h0M456.9 77.9h0M440.9 87.3h0M460.1 71.6h0M421.3 102.4h0M464.3 73.3h0M441.0 90.5h0M461.2 74.6h0M459.9 67.4h0M403.0 114.1h0M413.7 111.7h0M440.5 98.1h0M405.5 115.7h0M415.0 107.2h0M438.5 91.0h0M464.4 70.1h0M414.7 107.4h0M447.9 87.1h0M414.2 110.3h0M437.0 91.5h0M460.4 101.9h0M416.1 105.8h0M473.4 66.5h0M413.5 105.9h0M423.6 102.4h0M442.8 89.5h0M429.7 95.8h0M407.2 108.9h0M433.2 95.8h0M407.7 110.4h0M415.7 108.8h0M477.1 62.6h0M402.1 113.7h0M432.2 95.0h0M428.4 98.0h0M452.5 73.1h0M402.0 114.2h0M426.5 100.5h0M476.1 66.0h0M477.4 64.4h0M478.2 55.2h0M431.1 96.9h0M417.0 105.1h0M407.8 119.4h0M433.4 93.1h0M403.3 117.1h0M467.9 77.2h0M466.5 71.8h0M466.1 70.9h0M462.0 65.7h0M438.6 90.5h0M428.7 96.5h0M407.6 114.4h0M464.3 68.9h0M444.9 84.6h0M414.8 108.5h0M415.0 100.1h0M452.2 78.6h0M466.5 72.7h0M442.0 76.1h0M420.3 116.7h0M415.2 121.1h0M407.4 115.2h0M444.2 88.5h0M480.6 57.6h0M435.6 93.3h0M460.6 74.0h0M474.4 64.8h0M441.1 94.3h0M422.6 100.0h0M447.9 85.5h0M473.5 66.8h0M445.7 87.3h0M421.9 103.6h0M450.3 81.3h0M477.8 63.6h0M447.5 84.4h0M466.9 69.8h0M438.0 118.5h0M478.0 63.1h0M456.2 79.0h0M459.5 78.1h0M437.0 90.3h0M429.9 95.9h0M438.5 90.7h0M417.3 107.1h0M460.9 62.0h0M403.4 107.3h0M450.0 81.4h0M408.3 116.2h0M424.8 102.0h0M417.1 107.4h0M428.6 104.4h0M480.1 65.5h0M466.9 83.3h0M452.5 80.3h0M457.2 78.5h0M443.7 85.3h0M447.7 82.4h0M451.3 81.7h0M467.2 70.0h0M443.8 87.3h0M419.1 97.8h0M456.8 77.1h0M423.9 115.1h0M406.3 112.9h0M480.6 62.2h0M427.9 98.2h0M451.2 80.8h0M425.1 97.8h0M439.6 90.6h0M471.8 68.5h0M414.5 110.2h0M446.0 85.9h0M417.1 107.3h0M442.1 89.3h0M420.4 104.9h0M409.9 112.0h0M438.7 110.7h0M425.3 100.6h0M469.5 70.5h0M450.5 86.2h0M420.5 108.0h0M451.0 82.0h0M447.0 77.5h0M426.8 97.3h0M460.2 77.7h0M404.3 113.8h0M464.3 74.1h0M475.7 61.9h0M449.6 79.9h0M462.7 82.9h0M471.2 64.9h0M442.2 84.3h0M432.7 89.7h0M404.1 115.4h0M422.1 94.6h0M436.5 78.8h0M471.6 69.0h0M476.5 78.0h0M455.5 78.9h0M445.7 91.2h0M458.8 75.0h0M409.3 118.2h0M463.9 50.5h0M437.8 113.3h0M403.1 118.9h0M435.3 93.9h0M483.3 56.7h0M401.8 77.8h0M402.0 114.7h0M456.4 77.9h0M437.2 89.2h0M422.5 94.8h0M464.0 72.0h0M417.4 116.0h0M433.1 98.5h0M410.3 103.0h0M472.6 65.8h0M418.1 105.8h0M406.2 101.0h0M403.1 117.5h0M464.9 80.6h0M465.7 93.7h0M456.6 78.6h0M482.5 58.8h0M443.8 86.5h0M423.6 101.4h0M408.9 110.6h0M440.9 88.0h0M417.7 106.9h0M469.6 68.3h0M412.5 113.4h0M453.4 82.6h0M461.3 75.8h0M431.0 97.6h0M475.2 69.3h0M443.3 87.8h0M432.2 97.7h0M474.7 65.3h0M450.0 82.4h0M433.2 94.0h0M412.5 95.3h0M473.6 77.7h0M416.5 119.9h0M469.7 68.6h0M482.8 61.6h0M461.0 74.2h0M406.1 114.6h0M478.3 61.6h0M473.0 53.3h0M461.8 73.8h0M405.6 114.1h0M408.6 112.1h0M426.4 98.9h0M408.5 112.3h0M481.0 60.1h0M471.9 71.2h0M468.4 80.8h0M474.2 65.9h0M450.2 81.3h0M468.6 76.9h0M475.9 66.2h0M466.9 70.6h0M427.8 99.1h0M402.7 114.6h0M405.1 116.3h0M480.0 61.7h0M413.6 107.7h0M474.0 63.8h0M460.9 75.4h0M435.7 107.8h0M406.9 107.1h0M440.4 96.2h0M476.9 63.2h0M404.4 116.8h0M448.0 85.5h0M412.9 120.2h0M472.6 67.0h0M437.5 92.8h0M417.8 102.1h0M454.5 88.6h0M408.2 110.9h0M444.9 87.1h0M443.9 85.6h0M434.0 96.8h0M446.6 67.6h0M406.2 113.2h0M466.2 87.4h0M476.3 63.6h0M475.9 66.4h0M406.3 112.2h0M446.9 82.7h0M482.1 59.7h0M477.9 77.1h0M403.5 117.3h0M479.8 62.4h0M444.0 86.2h0M452.5 81.7h0M449.0 80.1h0M405.8 113.6h0M430.2 97.2h0M480.8 64.1h0M448.7 84.2h0M475.3 65.9h0M420.4 104.7h0M481.7 66.4h0M402.2 114.7h0M437.1 91.8h0M428.3 98.0h0M470.8 70.1h0M410.1 112.1h0M418.8 102.0h0M420.6 95.9h0M446.9 83.6h0M423.9 97.0h0M445.9 85.2h0M475.0 66.5h0M471.3 83.6h0M429.3 99.3h0M418.7 106.2h0M429.1 98.6h0M417.9 107.2h0M443.3 94.1h0M465.2 74.4h0M442.7 82.8h0M442.6 87.2h0M414.5 107.8h0M429.7 95.8h0M402.0 105.9h0M451.0 84.5h0M424.1 97.7h0M476.0 64.2h0M482.1 60.0h0M464.8 70.5h0M473.7 65.4h0M479.0 60.6h0M442.3 86.3h0M457.4 77.9h0M437.3 93.5h0M423.1 101.5h0M474.2 65.5h0M417.5 114.7h0M453.4 79.1h0M402.0 108.7h0M405.2 118.3h0M458.9 74.8h0M425.4 102.7h0M443.5 87.6h0M405.3 112.6h0M409.1 106.5h0M464.7 72.3h0M483.5 55.7h0M464.9 71.4h0M406.3 113.4h0M451.1 113.0h0M443.0 107.1h0M435.1 94.5h0M425.6 100.8h0M433.6 92.4h0M424.2 99.8h0M454.3 89.6h0M455.7 78.4h0M419.8 118.7h0M436.1 90.0h0M455.6 81.6h0M465.5 72.4h0M462.3 75.0h0M481.6 59.5h0M423.8 99.2h0M466.0 72.1h0M482.3 61.0h0M410.6 109.0h0M462.0 75.0h0M426.1 100.8h0M470.1 68.8h0M413.1 108.1h0M462.9 69.7h0M405.9 115.6h0M455.6 78.8h0M473.9 64.6h0M463.7 74.5h0M479.1 61.8h0M410.2 108.9h0M451.1 82.0h0M404.3 118.7h0M464.1 72.1h0M480.5 63.8h0M408.0 115.2h0M473.9 53.6h0M436.5 92.0h0M416.8 103.1h0M464.1 72.1h0M441.5 85.3h0M421.6 102.4h0M463.2 72.7h0M402.8 118.3h0M445.5 86.4h0M470.2 67.3h0M410.3 107.9h0M414.4 105.6h0M451.1 83.3h0M423.2 101.2h0M453.5 82.7h0M439.5 88.5h0M452.3 79.7h0M434.1 77.2h0M441.1 87.8h0M431.2 94.2h0M422.3 102.0h0M463.1 72.8h0M455.4 82.6h0M459.5 74.4h0M421.9 102.8h0M483.5 59.7h0M452.4 64.2h0M411.5 119.2h0M408.1 112.7h0M415.9 107.8h0M435.1 95.0h0M401.6 116.6h0M462.6 74.0h0M420.6 108.5h0M454.6 78.6h0M409.2 111.0h0M464.3 68.6h0M459.1 76.5h0M479.8 57.4h0M478.2 62.9h0M420.2 104.7h0M420.6 104.3h0M404.1 113.5h0M463.2 77.1h0M442.1 75.8h0M415.4 108.2h0M463.1 73.5h0M471.3 66.8h0M482.7 59.1h0M476.9 62.2h0M405.3 118.9h0M436.3 91.2h0M405.0 114.8h0M419.3 103.5h0M445.8 100.5h0M443.5 91.4h0M441.0 88.2h0M401.8 115.8h0M469.4 68.2h0M475.7 64.9h0M409.5 112.0h0M406.4 114.0h0M426.2 110.6h0M469.3 65.5h0M464.2 73.8h0M460.8 69.4h0M411.7 111.0h0M401.9 118.7h0M473.0 66.4h0M429.3 95.2h0M479.3 61.9h0M442.1 86.3h0M406.6 114.7h0M471.0 68.4h0M453.8 78.4h0M458.2 82.4h0M403.1 115.7h0M475.5 68.8h0M456.9 76.8h0M443.5 87.0h0M464.2 78.3h0M467.5 68.8h0M479.1 63.7h0M474.6 66.2h0M471.5 67.8h0M480.8 59.2h0M447.8 86.2h0M462.9 72.1h0M432.8 107.7h0M446.5 84.9h0M427.3 100.1h0M404.2 116.3h0M474.3 50.5h0M451.3 82.7h0M419.3 107.0h0M422.9 98.9h0M446.6 87.2h0M455.5 79.3h0M462.9 76.2h0M445.7 87.4h0M439.4 91.3h0M407.1 115.8h0M424.1 95.4h0M431.0 97.2h0M459.6 76.6h0M469.2 71.2h0M407.7 113.7h0M451.7 80.8h0M467.5 70.4h0M436.9 85.9h0M469.1 68.1h0M445.0 82.7h0M480.5 63.2h0M406.4 113.3h0M409.2 112.7h0M465.1 72.3h0M416.0 106.2h0M423.0 101.8h0M443.5 90.1h0M468.4 70.0h0M443.7 87.7h0M438.3 89.9h0M479.8 61.8h0M433.5 97.6h0M403.4 117.2h0M472.0 66.1h0M449.8 83.3h0M449.1 85.3h0M438.9 91.1h0M451.7 81.1h0M443.1 89.4h0M415.0 108.8h0M422.0 101.8h0M442.5 87.2h0M438.1 90.9h0M478.7 65.4h0M414.2 112.5h0M406.1 112.9h0M429.6 98.2h0M437.3 92.0h0M480.2 62.4h0M455.1 79.3h0M410.2 99.0h0M408.4 113.2h0M401.7 114.9h0M472.5 69.1h0M407.0 115.5h0M448.8 87.2h0M471.2 67.5h0M464.7 72.5h0M424.0 108.5h0M432.1 94.6h0M413.4 107.3h0M480.2 60.5h0M446.5 120.8h0M434.9 94.3h0M456.1 77.0h0M407.6 110.8h0M414.5 108.6h0M409.7 110.3h0M446.1 80.3h0M479.2 60.3h0M407.1 112.9h0M479.9 61.8h0M420.0 114.2h0M442.1 89.4h0M472.3 64.6h0M424.2 88.9h0M458.0 75.5h0M458.2 79.6h0M425.3 100.5h0M419.5 103.5h0M441.6 93.2h0M430.9 97.9h0M460.2 73.4h0M436.0 93.1h0M403.6 117.2h0M418.9 103.7h0M437.4 91.5h0M452.6 80.4h0M450.8 82.2h0M411.1 111.0h0M470.1 66.4h0M453.7 77.9h0M483.6 59.1h0M410.4 104.5h0M410.1 110.2h0M437.0 89.8h0M421.1 103.7h0M433.8 96.0h0M428.3 103.3h0M453.4 77.1h0M427.7 99.8h0M442.2 82.8h0M410.8 109.7h0M473.3 67.0h0M480.6 70.0h0M458.0 77.4h0M477.6 63.7h0M427.0 100.0h0M427.4 97.7h0M416.8 105.9h0M453.7 80.7h0M425.6 100.3h0M415.5 108.2h0M480.8 60.1h0M455.0 83.6h0M470.4 67.4h0M463.2 75.2h0M465.2 72.4h0M482.2 59.8h0M412.4 110.6h0M411.5 113.1h0M421.0 104.1h0M406.1 113.8h0M466.9 72.1h0M402.7 114.3h0M415.4 107.1h0M424.9 99.9h0M413.1 109.2h0M467.6 71.4h0M437.1 92.5h0M454.3 79.9h0M406.6 114.4h0M460.9 79.4h0M455.9 80.4h0M432.5 96.0h0M438.2 90.9h0M455.0 78.9h0M426.1 99.6h0M458.0 75.2h0M440.2 88.3h0M468.6 67.8h0M462.2 70.8h0M464.2 74.4h0M406.9 112.3h0M403.8 112.2h0M420.6 102.6h0M419.2 107.9h0M413.3 107.6h0M436.5 101.9h0M459.2 77.5h0M405.9 117.0h0M434.0 94.2h0M424.5 100.6h0M475.0 67.8h0M433.6 93.8h0M415.5 107.8h0M468.3 68.0h0M434.5 92.6h0M455.0 78.5h0M438.3 92.8h0M411.7 111.5h0M402.1 115.9h0M402.9 110.2h0M421.6 102.2h0M457.0 78.1h0M409.9 111.4h0M464.3 76.2h0M432.1 94.6h0M427.7 113.7h0M432.7 93.5h0M416.4 101.3h0M432.1 97.3h0M446.1 85.1h0M434.4 96.6h0M462.5 86.6h0M480.5 63.4h0M481.0 61.7h0M409.2 114.5h0M437.6 91.3h0M446.3 85.5h0M409.7 113.2h0M466.5 56.2h0M479.4 61.0h0M429.8 94.7h0M416.9 105.7h0M411.3 109.9h0M433.5 94.1h0M455.4 81.7h0M423.3 109.4h0M456.7 79.0h0M420.7 104.5h0M413.7 115.6h0M449.9 64.8h0M412.3 101.1h0M440.3 90.6h0M455.4 79.4h0M457.4 78.0h0M441.5 85.4h0M446.2 86.5h0M462.0 75.3h0M481.8 62.9h0M442.9 83.8h0M427.8 99.6h0M430.4 94.9h0M460.7 76.7h0M450.5 77.0h0M471.9 64.3h0M439.2 88.1h0M406.5 112.5h0M430.3 96.6h0M479.8 69.7h0M439.0 92.9h0M451.4 84.2h0M436.3 98.3h0M417.6 105.9h0M434.2 92.1h0M459.3 70.7h0M432.5 94.9h0M422.7 100.0h0M443.3 86.9h0M426.3 99.9h0M405.9 118.6h0M475.9 74.4h0M428.7 98.8h0M475.7 65.1h0M481.7 59.0h0M402.0 111.1h0M421.1 104.2h0M458.1 71.8h0M441.4 90.6h0M417.9 105.6h0M456.8 79.0h0M410.6 114.4h0M457.7 77.9h0M469.9 68.0h0M437.3 89.7h0M448.3 92.0h0M455.5 77.3h0M420.1 106.6h0M428.0 97.8h0M496.0 49.9h0M500.2 49.8h0M501.0 46.9h0M486.5 58.8h0M495.1 52.3h0M502.8 54.6h0M503.0 45.6h0M498.7 52.5h0M490.2 53.1h0M500.8 47.3h0M493.6 51.9h0M490.4 51.8h0M486.3 68.5h0M503.1 46.7h0M488.5 55.1h0M497.0 48.8h0M494.8 52.3h0M489.0 55.8h0M497.0 37.1h0M492.7 60.3h0M499.0 52.6h0M484.0 58.3h0M487.5 56.5h0M499.3 45.2h0M497.7 49.5h0M494.9 51.3h0M484.4 59.6h0M488.7 55.2h0M485.0 57.4h0M491.4 51.8h0M494.1 51.7h0M500.1 70.8h0M492.0 53.5h0M501.0 52.0h0M484.9 68.1h0M493.3 51.6h0M493.5 61.9h0M493.0 53.1h0M503.2 46.6h0M483.9 59.3h0M502.2 46.3h0M501.7 46.8h0M492.8 52.4h0M487.4 59.6h0M489.6 77.3h0M492.7 50.0h0M493.0 55.5h0M493.8 51.1h0M495.5 52.0h0M485.3 57.0h0M501.4 47.1h0M485.5 57.5h0M502.9 58.3h0M491.2 49.3h0M484.4 58.6h0M495.7 50.6h0M491.4 54.5h0M490.9 53.5h0M494.8 52.2h0M494.9 51.1h0M486.4 58.3h0M495.3 49.8h0M498.2 49.1h0M495.0 51.7h0M502.8 53.8h0M490.9 56.9h0M484.3 57.6h0M492.0 54.3h0M496.8 51.0h0M490.5 54.9h0M497.0 49.3h0M497.8 32.7h0M489.3 54.7h0M497.7 49.9h0M494.1 53.5h0M500.9 46.9h0M503.2 47.7h0M499.4 48.4h0M494.7 49.4h0M488.6 56.2h0M491.2 54.4h0M489.8 53.3h0M486.8 57.7h0M502.5 54.1h0M499.1 47.1h0M491.6 52.2h0M488.7 56.2h0M503.0 47.2h0M499.7 45.6h0M501.6 46.7h0M484.3 58.1h0M495.6 52.4h0M493.4 51.4h0M502.5 46.1h0M491.9 54.3h0M509.5 45.2h0M505.2 44.0h0M503.2 45.5h0M508.1 42.2h0M508.0 51.4h0M508.9 44.8h0M507.2 42.9h0M505.2 45.0h0M505.7 49.9h0M506.0 50.5h0M506.0 43.6h0M503.2 45.6h0M505.7 43.4h0M503.7 45.1h0M508.1 43.5h0M503.4 45.1h0M504.9 44.0h0M507.2 46.7h0M504.0 45.2h0M509.3 41.4h0M503.4 45.9h0M507.0 43.0h0M507.4 42.4h0M505.1 44.1h0M506.9 46.7h0M507.4 42.9h0M507.6 42.4h0M508.6 43.0h0M504.0 46.2h0M508.5 42.9h0M507.4 42.8h0M503.9 45.8h0M506.1 43.4h0M508.9 41.3h0M502.4 46.0h0M509.2 41.5h0M509.9 40.4h0M507.7 47.4h0M506.2 43.6h0M505.2 47.2h0M508.0 42.2h0M507.6 51.9h0M508.4 47.8h0M508.8 41.6h0M508.7 41.4h0M507.9 42.4h0M502.6 47.7h0M508.8 41.6h0M507.9 42.0h0M505.8 45.8h0M505.3 45.9h0M506.9 43.0h0M505.1 57.3h0M507.0 42.7h0M502.7 45.5h0M508.0 53.0h0M507.9 42.2h0M508.6 41.9h0M509.6 47.5h0M504.9 44.6h0M512.3 45.5h0M509.3 40.8h0M504.6 44.7h0M509.0 41.7h0M505.9 43.8h0M505.2 44.6h0M505.4 44.4h0M505.4 44.7h0M506.0 44.0h0M502.0 46.3h0M508.1 42.2h0M508.8 41.4h0M506.5 42.9h0M507.6 42.3h0M507.0 42.7h0M509.4 41.4h0M509.5 40.9h0M508.7 41.7h0M511.3 40.9h0M510.2 41.5h0M508.3 44.9h0M506.3 43.4h0M506.7 44.1h0M504.3 48.7h0M505.3 44.2h0M507.3 42.3h0M507.2 48.2h0M502.7 46.5h0M505.7 47.6h0M506.4 43.9h0M507.1 42.8h0M507.6 42.1h0M506.5 47.6h0M504.6 44.4h0M506.8 42.6h0M504.6 60.4h0M508.5 41.4h0M504.6 45.1h0M509.2 41.2h0M509.4 46.2h0M507.1 44.8h0M505.7 44.6h0M505.7 45.3h0M509.2 44.9h0M506.5 43.6h0M505.2 43.9h0M509.0 41.0h0M505.7 43.6h0M508.7 48.2h0M505.7 44.0h0M506.9 43.1h0M505.9 43.4h0M504.3 46.3h0M509.5 42.0h0M507.0 44.3h0M506.2 43.4h0M504.3 44.9h0M538.1 24.7h0M536.6 39.0h0M525.9 61.5h0M533.4 46.1h0" stroke="#008000" stroke-width="1.8" stroke-linecap="square" fill="none"/>
<line x1="395.73" y1="121.15" x2="538.37" y2="20.25" stroke="#000" stroke-width="1" stroke-dasharray="2.2 1.3"/>
<rect x="391.40" y="18.40" width="6.2" height="5.6" rx="1.5" stroke="#dddddd" stroke-width="0.8" fill="#fff" fill-opacity="0.8"/>
<text x="407.20" y="33.70" font-size="10.5" font-weight="bold">(c)</text>
<text x="467.05" y="12.70" font-size="9.6" text-anchor="middle">GBR</text>
<text x="395.73" y="135.10" font-size="7.8" text-anchor="middle">0</text>
<text x="385.70" y="123.95" font-size="7.8" text-anchor="end">0</text>
<text x="434.81" y="135.10" font-size="7.8" text-anchor="middle">2</text>
<text x="385.70" y="96.31" font-size="7.8" text-anchor="end">2</text>
<text x="473.89" y="135.10" font-size="7.8" text-anchor="middle">4</text>
<text x="385.70" y="68.66" font-size="7.8" text-anchor="end">4</text>
<text x="512.97" y="135.10" font-size="7.8" text-anchor="middle">6</text>
<text x="385.70" y="41.02" font-size="7.8" text-anchor="end">6</text>
<text x="467.05" y="144.60" font-size="8.6" text-anchor="middle">Actual Band Gap (eV)</text>
<text transform="translate(376.80 70.70) rotate(-90)" x="0" y="0" font-size="8.8" text-anchor="middle">Predicted Band Gap (eV)</text>
<path d="M30.69 165.30V277.00M23.60 258.44H179.50M69.52 165.30V277.00M23.60 234.80H179.50M108.35 165.30V277.00M23.60 211.16H179.50M147.17 165.30V277.00M23.60 187.52H179.50" stroke="#dedede" stroke-width="0.8" fill="none"/>
<rect x="23.60" y="165.30" width="155.90" height="111.70" stroke="#dedede" stroke-width="0.8" fill="none"/>
<path d="M30.8 268.5h0M31.0 249.5h0M30.7 274.8h0M31.9 247.8h0M31.5 260.2h0M31.4 257.3h0M31.4 241.1h0M31.1 267.5h0M31.0 263.0h0M31.1 233.8h0M32.1 250.6h0M31.2 238.6h0M30.8 234.3h0M31.0 273.6h0M31.2 262.4h0M31.1 259.7h0M31.2 240.8h0M31.0 243.1h0M30.8 216.1h0M30.9 251.1h0M31.2 226.0h0M30.9 249.6h0M31.3 241.9h0M30.7 231.3h0M30.7 252.7h0M31.5 250.2h0M31.8 259.9h0M31.6 244.2h0M31.4 216.9h0M31.6 231.0h0M32.0 257.4h0M32.0 252.2h0M30.8 227.0h0M31.1 232.8h0M31.0 254.5h0M30.7 253.6h0M30.9 245.6h0M31.0 258.0h0M31.1 253.6h0M30.9 255.5h0M31.7 257.3h0M30.9 230.8h0M30.8 240.9h0M31.0 270.3h0M30.9 236.0h0M30.8 271.5h0M31.3 249.2h0M30.8 257.2h0M30.8 257.2h0M30.8 233.5h0M31.5 250.6h0M31.4 238.8h0M31.9 267.6h0M31.8 241.7h0M31.5 237.8h0M31.3 250.5h0M31.2 239.1h0M30.9 216.2h0M31.0 238.0h0M31.2 225.4h0M31.0 216.9h0M30.7 235.0h0M30.7 265.9h0M31.4 248.8h0M31.6 248.8h0M30.8 244.9h0M30.7 224.6h0M31.1 241.5h0M31.2 226.9h0M30.9 259.6h0M31.4 239.8h0M30.9 221.3h0M31.0 261.0h0M30.7 244.1h0M31.3 260.8h0M31.7 235.4h0M30.8 255.7h0M30.9 257.0h0M30.8 233.1h0M31.2 236.6h0M31.4 276.5h0M31.6 257.6h0M30.7 234.8h0M31.5 253.3h0M32.0 248.7h0M31.0 251.8h0M31.1 253.7h0M31.1 254.1h0M31.6 263.2h0M31.2 247.9h0M31.4 230.8h0M31.2 241.5h0M31.0 253.1h0M31.3 256.8h0M30.8 232.2h0M31.0 258.4h0M31.7 250.5h0M31.5 241.4h0M31.2 245.7h0M31.5 210.8h0M30.8 244.6h0M30.9 254.3h0M31.0 254.9h0M30.8 251.1h0M31.0 260.9h0M31.6 252.9h0M31.0 255.7h0M31.5 246.4h0M31.5 251.9h0M31.4 260.0h0M31.2 255.3h0M31.7 265.1h0M37.4 256.1h0M45.8 245.2h0M51.5 245.0h0M44.0 268.4h0M31.4 254.6h0M40.4 247.2h0M45.7 244.9h0M38.6 245.3h0M50.7 237.0h0M43.6 250.0h0M36.2 254.1h0M48.2 240.6h0M43.0 256.1h0M38.1 250.6h0M41.8 227.7h0M43.1 245.9h0M67.2 246.9h0M42.9 235.5h0M53.1 244.6h0M37.7 231.1h0M35.0 251.6h0M57.0 248.7h0M37.6 245.0h0M59.8 239.6h0M31.1 254.1h0M43.4 212.1h0M36.7 253.2h0M46.6 250.7h0M32.4 200.9h0M32.9 228.8h0M55.1 242.8h0M39.1 244.3h0M32.7 254.5h0M33.4 245.0h0M35.9 249.9h0M37.6 249.2h0M34.6 235.3h0M45.5 250.0h0M63.2 248.0h0M33.2 252.2h0M34.2 253.3h0M31.3 260.6h0M46.2 250.0h0M32.0 252.0h0M37.2 249.4h0M70.1 233.6h0M34.4 212.7h0M39.2 242.9h0M31.1 248.5h0M65.5 239.9h0M56.8 238.1h0M55.4 236.6h0M31.9 252.2h0M42.8 253.9h0M38.7 240.8h0M34.9 244.7h0M33.9 252.9h0M54.1 239.2h0M55.3 238.4h0M33.6 266.8h0M38.4 245.1h0M39.7 232.9h0M32.2 251.8h0M35.6 259.3h0M51.1 242.3h0M43.1 235.5h0M47.7 231.8h0M38.0 253.1h0M31.7 248.9h0M31.4 252.4h0M46.2 240.8h0M39.5 239.3h0M34.8 257.6h0M31.1 250.1h0M33.8 256.8h0M33.2 251.8h0M72.4 237.3h0M41.9 247.8h0M53.7 244.0h0M33.0 253.1h0M56.9 241.3h0M31.1 258.9h0M31.2 252.3h0M37.8 232.4h0M39.6 249.0h0M41.1 254.0h0M39.1 252.0h0M38.3 255.4h0M39.4 244.7h0M44.9 244.6h0M34.6 254.7h0M31.1 259.8h0M38.2 253.2h0M34.4 254.1h0M33.3 235.0h0M65.7 238.4h0M46.3 237.1h0M43.7 248.6h0M55.4 237.4h0M51.3 243.8h0M37.1 253.2h0M35.2 237.8h0M35.6 253.1h0M34.7 244.9h0M40.8 238.4h0M32.2 257.6h0M37.8 253.1h0M45.7 250.4h0M33.4 244.6h0M34.1 254.7h0M36.2 252.4h0M34.6 254.5h0M53.4 263.3h0M34.9 249.0h0M40.1 264.8h0M31.4 249.4h0M36.4 247.5h0M42.6 248.0h0M53.0 243.5h0M37.0 255.7h0M34.7 245.8h0M71.9 231.2h0M52.7 242.7h0M48.5 251.6h0M31.1 248.0h0M37.5 250.6h0M32.2 267.5h0M35.8 249.0h0M60.8 237.6h0M32.8 253.0h0M39.6 250.1h0M34.6 243.7h0M36.2 242.9h0M37.2 249.2h0M59.2 226.2h0M33.2 253.0h0M41.2 212.5h0M46.0 253.7h0M45.4 241.3h0M33.1 249.0h0M59.2 238.1h0M43.3 244.9h0M31.9 249.8h0M31.1 251.8h0M38.6 249.7h0M73.3 235.3h0M31.7 256.5h0M44.5 243.2h0M61.2 242.2h0M37.2 242.3h0M46.3 246.5h0M44.3 237.8h0M62.6 238.3h0M59.8 244.3h0M42.6 253.5h0M32.9 251.8h0M35.0 248.8h0M46.4 241.8h0M35.2 228.0h0M54.1 249.4h0M35.5 248.2h0M42.6 246.0h0M38.1 241.3h0M56.0 236.6h0M34.5 245.0h0M35.3 252.2h0M37.6 246.8h0M40.9 246.1h0M39.3 253.4h0M38.3 247.0h0M31.6 259.2h0M37.2 253.7h0M46.4 243.7h0M40.7 249.7h0M32.4 238.7h0M49.6 230.3h0M31.5 250.8h0M43.6 257.5h0M33.3 255.8h0M33.2 233.6h0M32.0 242.5h0M34.1 225.5h0M40.1 247.7h0M48.3 244.8h0M33.7 201.2h0M38.7 227.5h0M62.0 241.1h0M57.9 243.2h0M52.1 240.2h0M35.5 253.5h0M35.7 256.6h0M35.9 260.5h0M40.0 247.6h0M35.1 241.3h0M34.1 252.4h0M36.4 252.2h0M37.0 249.7h0M49.9 244.9h0M46.4 223.9h0M46.3 243.4h0M33.0 245.7h0M37.8 246.0h0M32.7 254.0h0M39.4 259.3h0M37.1 245.0h0M48.4 235.5h0M35.9 249.6h0M33.6 251.8h0M61.4 245.6h0M64.4 240.4h0M98.9 209.2h0M78.2 230.1h0M101.2 199.2h0M86.7 231.5h0M74.9 213.7h0M79.3 228.1h0M98.7 216.8h0M88.1 232.6h0M112.5 208.1h0M111.5 199.6h0M55.8 259.8h0M54.7 243.7h0M65.8 253.0h0M48.0 236.6h0M108.1 213.5h0M92.2 224.6h0M44.6 248.2h0M106.1 214.4h0M94.5 218.4h0M80.5 231.4h0M114.7 210.0h0M66.9 222.4h0M90.4 222.7h0M51.4 230.6h0M71.8 228.7h0M69.5 225.2h0M116.0 200.2h0M102.1 224.2h0M117.6 204.2h0M102.2 220.8h0M63.7 236.1h0M115.2 207.2h0M45.7 244.9h0M56.5 239.6h0M50.6 238.4h0M82.2 230.6h0M50.3 248.1h0M78.6 229.5h0M91.4 220.6h0M67.3 236.6h0M45.6 241.8h0M88.9 226.7h0M75.9 244.0h0M89.6 226.0h0M101.5 223.6h0M73.4 239.8h0M110.7 223.9h0M46.4 245.6h0M59.7 238.5h0M114.1 207.5h0M80.7 214.8h0M107.1 203.6h0M105.2 214.7h0M101.7 219.8h0M116.7 201.5h0M84.1 228.8h0M55.3 250.5h0M50.4 245.1h0M86.1 222.6h0M37.6 251.1h0M89.3 233.4h0M101.0 214.9h0M117.8 221.6h0M100.3 211.2h0M112.9 206.2h0M89.9 224.9h0M83.9 227.3h0M68.2 232.6h0M39.6 250.0h0M74.4 215.7h0M72.8 232.5h0M115.7 210.9h0M106.3 209.6h0M76.1 234.0h0M111.3 206.6h0M66.8 253.7h0M115.2 213.8h0M68.7 236.3h0M49.7 239.6h0M79.3 222.4h0M53.2 246.2h0M90.3 218.6h0M72.2 238.5h0M87.4 222.2h0M83.7 222.9h0M44.0 234.6h0M93.9 220.1h0M52.0 235.5h0M70.4 241.6h0M85.9 222.7h0M47.5 254.7h0M117.5 203.8h0M72.5 241.0h0M114.8 215.2h0M104.9 212.6h0M68.4 241.5h0M84.8 225.7h0M77.0 232.5h0M71.1 241.3h0M70.6 235.2h0M73.7 230.7h0M103.5 215.8h0M105.2 212.1h0M117.2 201.8h0M56.7 240.1h0M42.5 236.3h0M94.3 218.8h0M69.5 236.3h0M39.2 265.9h0M62.8 241.5h0M95.5 221.3h0M84.3 218.6h0M78.4 233.4h0M115.3 216.5h0M108.6 207.4h0M91.1 219.8h0M114.8 209.4h0M107.1 215.7h0M63.1 239.5h0M115.6 202.9h0M67.3 242.8h0M87.0 229.0h0M102.2 214.2h0M42.9 249.9h0M114.1 208.4h0M49.4 242.7h0M116.7 204.7h0M111.7 205.5h0M108.6 214.1h0M65.1 235.2h0M81.5 229.4h0M62.7 225.1h0M78.1 227.1h0M54.4 242.5h0M49.0 236.1h0M89.6 223.2h0M45.6 254.3h0M91.0 226.1h0M90.3 219.8h0M106.8 210.1h0M117.2 214.1h0M113.2 208.1h0M85.3 220.3h0M92.0 219.4h0M47.2 232.7h0M73.3 229.4h0M41.6 247.2h0M44.6 249.4h0M94.4 227.1h0M53.8 249.0h0M65.7 235.0h0M108.2 209.9h0M56.9 245.7h0M52.6 239.9h0M78.1 232.9h0M54.7 246.1h0M40.6 243.1h0M64.6 236.7h0M40.1 244.8h0M89.4 222.9h0M65.2 271.2h0M102.7 221.6h0M53.6 248.6h0M64.0 245.2h0M74.5 232.3h0M38.9 232.8h0M39.5 239.6h0M107.6 203.2h0M112.6 208.3h0M60.0 247.6h0M58.3 238.9h0M80.2 228.8h0M101.0 228.9h0M115.4 203.5h0M68.5 236.6h0M98.7 211.9h0M91.8 218.0h0M42.9 244.6h0M101.1 219.7h0M62.0 239.7h0M38.7 252.3h0M75.3 260.1h0M71.1 238.5h0M45.2 245.6h0M91.2 224.4h0M81.4 254.1h0M105.2 221.3h0M67.4 232.9h0M56.3 230.5h0M58.2 245.3h0M99.9 215.5h0M84.1 228.1h0M43.0 218.1h0M80.6 233.0h0M107.7 221.6h0M92.4 204.8h0M71.9 235.5h0M89.0 225.9h0M47.2 246.2h0M107.7 221.2h0M86.7 218.9h0M78.3 241.2h0M64.0 237.3h0M49.2 249.7h0M50.9 244.8h0M71.0 238.0h0M86.8 229.4h0M97.3 214.8h0M50.2 239.7h0M66.6 238.5h0M60.0 262.8h0M75.1 224.9h0M63.2 225.8h0M77.7 222.9h0M94.2 208.3h0M109.6 202.7h0M113.4 202.9h0M92.9 223.1h0M37.6 243.6h0M37.0 259.6h0M86.0 205.0h0M44.3 242.2h0M106.3 218.0h0M97.2 218.2h0M56.9 241.4h0M38.7 255.7h0M96.8 201.4h0M83.8 225.4h0M60.6 241.4h0M57.1 238.1h0M113.2 211.0h0M96.3 215.1h0M80.2 226.0h0M83.2 226.4h0M71.8 259.0h0M98.4 216.5h0M40.7 253.6h0M84.8 231.2h0M57.8 236.0h0M65.3 239.3h0M92.1 222.8h0M115.2 213.2h0M108.9 220.5h0M92.3 220.0h0M116.7 206.5h0M108.7 212.3h0M85.9 228.7h0M99.2 212.6h0M66.6 234.2h0M82.9 218.2h0M62.6 247.5h0M104.4 238.5h0M72.2 234.5h0M113.8 207.5h0M86.9 227.8h0M95.6 213.7h0M48.3 219.1h0M44.6 260.3h0M88.7 223.2h0M73.6 238.4h0M52.9 247.5h0M66.0 233.5h0M62.3 222.5h0M61.9 235.8h0M101.7 222.0h0M117.0 207.7h0M78.3 235.4h0M80.7 227.2h0M100.5 225.2h0M58.7 235.4h0M99.2 233.5h0M42.4 255.5h0M110.7 202.0h0M39.1 256.9h0M42.4 243.8h0M72.4 232.6h0M86.4 222.6h0M96.2 220.1h0M101.6 200.7h0M38.6 243.7h0M114.8 212.5h0M97.2 211.9h0M88.4 217.2h0M117.6 204.4h0M44.0 256.6h0M103.8 209.8h0M108.9 213.9h0M85.5 232.7h0M108.7 228.1h0M55.5 222.3h0M113.9 196.9h0M91.0 228.3h0M47.5 215.1h0M80.5 227.1h0M82.5 232.1h0M63.9 235.7h0M99.3 222.4h0M94.1 223.7h0M87.8 220.5h0M49.3 245.3h0M112.0 209.1h0M38.2 243.8h0M93.6 228.5h0M86.5 228.8h0M106.9 206.1h0M68.2 236.0h0M112.9 200.5h0M73.4 260.2h0M84.9 225.8h0M96.3 207.0h0M85.0 221.3h0M85.7 222.7h0M57.6 240.9h0M61.1 242.3h0M89.5 219.8h0M48.5 247.3h0M97.2 215.3h0M56.3 224.0h0M55.4 236.0h0M104.7 218.7h0M51.3 244.8h0M81.0 230.7h0M72.4 227.8h0M98.2 216.9h0M94.3 238.4h0M65.4 238.0h0M98.1 215.6h0M56.8 237.7h0M44.1 256.6h0M39.8 251.4h0M101.8 217.6h0M116.6 213.0h0M53.6 244.0h0M76.0 232.0h0M104.8 213.0h0M89.8 221.6h0M57.1 230.9h0M37.5 251.3h0M116.0 202.7h0M111.4 213.0h0M85.2 240.1h0M79.3 228.1h0M96.3 213.6h0M45.6 247.5h0M109.9 220.3h0M107.6 217.9h0M46.2 254.3h0M43.0 244.9h0M97.7 217.2h0M85.7 227.3h0M51.3 233.0h0M79.2 225.9h0M85.9 223.1h0M54.2 227.4h0M112.9 213.2h0M93.9 224.9h0M117.8 211.9h0M103.8 207.6h0M112.9 219.1h0M75.7 233.9h0M36.6 247.1h0M90.3 219.0h0M70.1 230.8h0M36.9 255.1h0M48.8 246.6h0M115.0 206.4h0M101.1 218.3h0M94.3 210.0h0M41.6 241.8h0M61.1 244.0h0M69.6 226.3h0M104.9 228.6h0M50.1 249.4h0M88.0 223.6h0M81.5 233.1h0M85.8 215.4h0M81.2 226.1h0M61.7 239.3h0M41.8 256.5h0M109.6 211.1h0M77.6 230.5h0M111.3 209.6h0M45.8 243.1h0M46.0 251.3h0M38.9 238.5h0M70.9 227.0h0M60.5 221.0h0M57.3 228.5h0M70.4 234.5h0M89.2 236.9h0M41.5 244.0h0M39.7 248.7h0M100.1 216.6h0M86.7 221.9h0M70.8 231.6h0M107.1 195.4h0M103.3 210.5h0M97.0 205.0h0M87.7 213.6h0M95.5 220.3h0M105.0 208.7h0M96.7 219.5h0M59.8 244.6h0M112.8 208.6h0M41.9 262.0h0M69.2 242.1h0M94.1 211.6h0M47.1 237.2h0M85.2 227.7h0M38.4 251.0h0M69.7 245.2h0M101.8 213.8h0M108.8 216.7h0M96.1 209.9h0M97.2 217.6h0M73.9 224.5h0M84.0 242.9h0M102.0 221.9h0M104.3 211.0h0M66.0 238.7h0M112.5 202.3h0M114.2 208.0h0M94.5 230.1h0M109.1 209.8h0M68.6 243.3h0M59.1 240.7h0M59.2 223.3h0M45.7 243.2h0M59.2 238.4h0M53.2 255.8h0M82.8 239.8h0M117.3 201.7h0M59.3 242.5h0M46.2 245.0h0M110.5 202.6h0M112.8 213.8h0M69.2 230.3h0M111.4 206.6h0M88.3 233.0h0M65.2 238.0h0M70.7 235.3h0M61.3 238.7h0M65.8 233.6h0M53.1 242.8h0M114.9 208.2h0M62.8 228.2h0M98.5 227.2h0M89.8 248.0h0M63.9 241.0h0M117.2 205.7h0M117.9 204.9h0M72.9 220.1h0M59.2 233.5h0M53.0 244.1h0M78.2 228.7h0M54.9 245.9h0M103.0 219.6h0M87.7 225.4h0M103.9 208.0h0M57.5 242.6h0M98.2 217.4h0M65.4 225.8h0M102.8 217.8h0M86.0 223.9h0M103.6 211.6h0M114.1 207.5h0M65.8 240.5h0M115.5 198.3h0M65.7 234.2h0M115.8 209.3h0M48.1 242.4h0M92.7 225.1h0M108.1 211.5h0M87.9 221.9h0M110.4 216.3h0M38.8 246.3h0M60.4 240.8h0M51.3 237.9h0M57.8 240.3h0M100.9 213.7h0M59.6 237.1h0M109.7 212.8h0M64.5 233.1h0M113.6 209.1h0M105.6 214.6h0M113.8 214.6h0M78.3 227.2h0M77.6 224.7h0M87.9 224.0h0M74.0 223.3h0M83.6 219.0h0M53.0 254.5h0M116.1 205.9h0M88.5 228.1h0M68.4 233.7h0M73.7 234.2h0M103.3 212.9h0M97.5 219.6h0M67.1 239.6h0M65.1 236.0h0M37.7 252.8h0M114.1 213.6h0M40.6 252.6h0M62.9 232.9h0M115.2 205.3h0M51.4 237.2h0M117.4 214.2h0M87.0 217.4h0M112.9 222.6h0M65.6 232.8h0M109.7 205.4h0M40.2 258.5h0M89.2 225.3h0M48.7 246.1h0M56.0 255.4h0M111.7 217.7h0M38.3 245.0h0M79.8 228.6h0M86.4 206.4h0M55.6 246.2h0M39.9 208.1h0M118.0 197.2h0M43.5 253.0h0M95.3 229.3h0M45.0 247.0h0M41.4 250.6h0M47.0 237.6h0M79.4 213.9h0M39.5 244.5h0M90.7 217.0h0M113.1 218.6h0M54.4 233.3h0M70.6 236.8h0M100.7 215.0h0M69.0 239.5h0M57.1 248.2h0M47.9 244.2h0M82.0 215.0h0M70.6 237.7h0M48.8 249.0h0M89.5 216.6h0M105.2 214.2h0M55.0 256.7h0M73.1 219.3h0M73.3 201.7h0M117.4 200.1h0M43.1 244.4h0M45.7 243.3h0M39.7 252.5h0M106.4 219.0h0M75.0 236.0h0M93.8 220.6h0M51.0 251.8h0M76.8 229.4h0M105.8 209.0h0M97.0 220.4h0M93.7 216.4h0M104.5 216.2h0M86.0 244.8h0M78.1 215.1h0M42.9 245.9h0M42.2 242.5h0M59.2 237.5h0M67.3 229.7h0M93.6 204.7h0M90.9 216.8h0M98.9 216.3h0M114.0 191.8h0M74.1 234.7h0M113.8 209.3h0M60.2 240.5h0M48.4 251.5h0M76.8 227.7h0M115.7 218.2h0M36.6 254.2h0M110.0 209.7h0M88.1 216.7h0M70.6 228.4h0M117.8 211.2h0M100.7 218.9h0M93.6 225.6h0M78.6 229.4h0M115.8 206.7h0M75.2 234.9h0M92.0 218.1h0M73.8 221.9h0M85.1 225.4h0M90.2 222.9h0M108.0 213.3h0M88.3 232.4h0M62.6 233.1h0M109.2 205.7h0M65.7 241.0h0M45.8 242.2h0M112.6 198.9h0M53.0 240.8h0M59.1 243.0h0M59.2 243.0h0M76.8 230.8h0M85.7 191.7h0M91.9 231.5h0M93.5 225.9h0M106.5 213.7h0M91.8 236.0h0M50.4 251.0h0M37.1 246.8h0M75.5 230.7h0M56.9 254.7h0M67.7 231.2h0M98.2 222.2h0M70.1 224.2h0M80.4 221.9h0M108.1 216.8h0M72.1 231.6h0M51.4 243.8h0M84.9 233.2h0M81.8 227.2h0M97.0 216.6h0M49.7 227.9h0M114.6 213.2h0M57.5 231.4h0M38.8 261.8h0M38.9 249.1h0M76.7 229.5h0M41.8 253.4h0M54.1 239.4h0M105.2 205.1h0M107.4 219.7h0M78.3 224.0h0M104.9 215.1h0M61.8 233.6h0M69.2 224.8h0M82.4 228.6h0M56.2 245.5h0M68.4 245.4h0M87.3 218.8h0M61.4 241.3h0M69.7 226.8h0M47.3 239.8h0M84.1 233.9h0M47.9 215.1h0M99.7 218.7h0M81.1 239.8h0M93.3 238.5h0M41.3 245.1h0M81.6 239.0h0M116.5 205.0h0M108.9 211.9h0M45.3 251.1h0M113.8 199.5h0M50.8 239.5h0M89.1 220.2h0M66.4 234.9h0M85.7 228.5h0M74.0 223.3h0M71.1 246.4h0M60.9 226.9h0M67.3 246.9h0M65.4 228.4h0M44.1 244.0h0M86.0 220.1h0M63.5 250.7h0M76.4 224.2h0M73.1 233.6h0M106.0 225.8h0M63.9 245.5h0M116.8 200.9h0M78.1 254.3h0M77.8 235.6h0M70.7 225.5h0M80.4 219.6h0M56.2 238.3h0M109.3 207.9h0M56.5 240.8h0M117.4 209.0h0M45.7 245.2h0M60.6 244.8h0M38.1 262.0h0M95.3 216.1h0M82.8 241.4h0M98.2 212.1h0M66.7 235.8h0M98.3 205.7h0M77.8 225.8h0M50.0 238.8h0M89.3 225.1h0M98.7 226.8h0M89.2 224.7h0M72.3 238.7h0M92.4 219.0h0M110.6 207.7h0M47.1 250.7h0M81.2 228.2h0M117.1 210.5h0M44.3 245.5h0M94.1 215.7h0M109.9 201.4h0M51.8 241.1h0M53.1 243.7h0M107.5 205.8h0M56.1 248.5h0M89.5 225.6h0M44.3 247.9h0M48.7 241.7h0M36.7 252.7h0M108.8 210.8h0M71.1 216.0h0M109.2 203.9h0M98.9 215.8h0M86.4 223.2h0M90.8 218.3h0M57.2 235.4h0M116.3 200.5h0M40.7 254.1h0M40.8 252.8h0M114.6 216.6h0M90.2 225.3h0M55.5 238.2h0M96.3 220.9h0M114.5 211.6h0M85.9 205.8h0M85.3 221.0h0M37.3 254.1h0M62.1 235.4h0M40.2 264.8h0M104.9 229.0h0M86.3 225.1h0M70.9 235.2h0M59.7 236.6h0M51.3 243.6h0M51.5 231.3h0M67.7 233.9h0M101.0 219.5h0M77.0 235.2h0M94.1 227.3h0M107.9 215.0h0M39.5 248.3h0M48.3 250.9h0M50.5 264.4h0M73.2 234.2h0M94.0 223.2h0M94.5 169.4h0M71.6 229.1h0M77.7 232.5h0M67.3 234.7h0M63.8 215.7h0M40.0 246.1h0M76.7 226.7h0M45.0 245.0h0M60.2 241.1h0M45.2 248.9h0M62.8 240.8h0M63.7 238.2h0M70.4 233.6h0M100.3 222.0h0M55.1 236.6h0M48.1 243.4h0M74.9 235.9h0M66.4 225.8h0M77.0 216.3h0M89.1 231.4h0M98.0 220.7h0M40.9 246.0h0M111.8 212.7h0M42.6 245.1h0M91.6 218.8h0M47.7 244.6h0M116.0 198.6h0M63.7 242.2h0M80.4 231.4h0M104.9 214.3h0M67.7 229.6h0M105.0 213.7h0M90.7 226.6h0M85.4 192.3h0M87.9 242.4h0M75.4 222.2h0M93.2 220.0h0M108.6 202.1h0M67.4 244.3h0M81.9 224.9h0M110.9 209.6h0M109.7 204.1h0M62.1 259.6h0M104.4 213.6h0M115.6 209.6h0M80.7 231.6h0M52.6 244.9h0M105.7 212.0h0M51.3 243.9h0M63.8 235.3h0M84.8 222.2h0M76.3 231.5h0M54.9 229.0h0M104.5 201.9h0M36.6 251.0h0M95.0 213.8h0M41.0 256.1h0M45.5 238.4h0M63.6 236.9h0M101.7 222.6h0M42.1 229.3h0M112.0 214.0h0M72.6 231.9h0M82.7 253.2h0M54.9 235.3h0M109.3 213.6h0M65.1 233.7h0M83.2 223.8h0M47.2 244.6h0M51.9 241.5h0M61.4 240.1h0M39.9 238.2h0M51.6 239.7h0M76.2 227.5h0M88.0 220.2h0M69.2 228.5h0M96.2 209.6h0M38.6 247.6h0M116.1 209.9h0M50.6 248.1h0M63.6 241.4h0M104.5 227.0h0M54.9 240.3h0M46.6 250.5h0M86.6 227.9h0M62.9 226.8h0M38.0 245.1h0M65.8 244.6h0M94.5 221.7h0M83.3 221.0h0M87.2 218.2h0M50.9 243.7h0M56.6 231.5h0M74.3 236.9h0M63.2 241.5h0M82.7 221.7h0M89.1 212.9h0M113.6 213.2h0M61.3 237.7h0M43.4 250.5h0M99.6 212.5h0M78.7 227.5h0M48.0 238.4h0M95.3 234.2h0M74.6 226.3h0M45.6 240.9h0M93.9 218.0h0M102.9 194.3h0M55.2 237.4h0M101.1 215.3h0M43.6 241.9h0M94.4 214.5h0M84.2 205.3h0M103.5 221.0h0M95.0 204.3h0M83.9 222.5h0M116.0 224.0h0M48.8 236.9h0M43.0 235.5h0M115.5 211.7h0M88.0 236.6h0M101.4 217.7h0M78.1 227.0h0M89.2 220.8h0M48.8 256.9h0M80.2 222.2h0M77.8 231.5h0M106.2 215.7h0M78.4 225.9h0M48.8 247.6h0M87.1 222.8h0M46.1 241.3h0M97.6 208.5h0M45.4 236.4h0M84.9 224.9h0M85.8 227.4h0M71.7 241.9h0M61.3 236.1h0M68.2 234.0h0M72.9 236.4h0M73.3 230.7h0M58.2 239.6h0M73.8 236.0h0M38.7 245.9h0M71.0 227.0h0M48.5 264.6h0M117.0 198.9h0M102.4 222.0h0M101.8 206.6h0M98.8 215.9h0M116.2 204.0h0M111.1 206.9h0M71.0 231.8h0M71.2 241.6h0M61.5 226.2h0M88.9 223.9h0M61.6 240.5h0M78.2 225.8h0M83.7 224.3h0M95.6 236.5h0M88.5 222.5h0M114.1 208.7h0M62.0 232.5h0M114.0 210.9h0M62.2 234.8h0M78.6 228.5h0M111.6 202.0h0M92.7 208.6h0M44.6 241.9h0M86.5 233.2h0M87.0 234.1h0M111.9 220.1h0M94.3 208.7h0M68.0 236.1h0M90.9 221.6h0M68.0 239.4h0M99.0 220.5h0M105.1 218.9h0M83.8 224.6h0M43.2 248.0h0M53.3 247.3h0M94.8 220.4h0M72.4 222.4h0M73.7 220.0h0M84.0 231.5h0M108.5 224.3h0M40.7 245.5h0M80.1 223.5h0M83.3 222.8h0M92.2 212.1h0M98.4 214.9h0M117.8 211.8h0M42.6 245.2h0M65.6 235.3h0M70.1 224.5h0M109.9 208.3h0M117.3 211.4h0M64.4 243.6h0M88.9 205.4h0M67.0 239.7h0M102.9 239.4h0M63.9 240.7h0M96.3 216.0h0M48.9 238.5h0M101.0 214.4h0M59.9 235.1h0M74.8 232.7h0M89.3 223.4h0M100.2 215.9h0M117.4 211.5h0M69.6 230.7h0M56.0 258.8h0M92.6 229.2h0M108.4 221.7h0M116.6 201.8h0M58.5 236.8h0M82.7 230.4h0M63.9 241.0h0M95.4 226.1h0M100.0 214.4h0M37.3 253.4h0M70.2 236.0h0M89.6 224.7h0M86.2 228.7h0M82.7 227.7h0M87.9 224.8h0M95.1 217.7h0M52.6 244.9h0M47.6 248.7h0M58.9 259.9h0M58.0 242.8h0M98.3 217.9h0M78.2 229.2h0M39.6 239.8h0M94.3 221.6h0M77.5 227.8h0M61.1 242.4h0M100.2 230.5h0M94.3 218.1h0M52.4 237.0h0M112.2 207.1h0M53.3 243.0h0M108.6 209.7h0M117.7 213.0h0M55.7 244.2h0M48.0 221.8h0M41.3 244.2h0M66.0 240.3h0M117.0 226.8h0M117.6 218.7h0M42.5 239.9h0M103.2 228.3h0M104.1 216.2h0M57.2 219.3h0M62.9 235.4h0M82.7 228.2h0M105.1 218.5h0M57.7 238.2h0M84.0 233.8h0M46.7 227.8h0M107.8 211.0h0M74.1 232.9h0M92.2 213.0h0M79.0 231.7h0M69.6 228.8h0M82.5 220.9h0M83.4 237.6h0M72.6 224.5h0M119.4 214.8h0M120.6 202.0h0M120.0 207.6h0M121.5 201.8h0M134.9 203.9h0M126.5 198.0h0M118.9 198.3h0M119.8 201.9h0M128.4 203.8h0M133.5 193.4h0M137.4 178.6h0M122.4 207.1h0M128.6 193.6h0M132.3 182.3h0M129.0 192.4h0M118.2 203.9h0M129.5 198.5h0M130.3 193.0h0M125.7 204.7h0M127.4 198.6h0M124.4 184.2h0M132.7 183.0h0M127.2 216.6h0M131.9 199.0h0M129.3 201.9h0M131.5 204.2h0M122.2 211.2h0M133.2 190.8h0M133.1 193.9h0M128.9 209.6h0M126.1 204.3h0M131.2 195.6h0M122.1 205.8h0M136.7 187.9h0M121.4 205.8h0M132.3 191.2h0M136.8 192.1h0M130.7 186.8h0M135.3 192.2h0M128.4 201.7h0M131.5 197.0h0M135.4 192.8h0M135.5 191.2h0M127.3 214.6h0M131.1 194.4h0M133.8 191.6h0M129.7 212.5h0M124.5 187.1h0M123.2 198.4h0M125.3 192.8h0M120.3 203.2h0M123.6 196.1h0M134.8 204.9h0M133.5 206.5h0M122.5 197.1h0M118.6 217.6h0M131.9 194.2h0M132.1 202.8h0M122.7 194.6h0M126.2 192.0h0M131.8 206.8h0M119.5 211.3h0M131.5 179.5h0M129.1 200.4h0M121.4 200.8h0M123.7 204.5h0M135.4 195.5h0M130.3 181.1h0M124.8 202.1h0M124.0 203.7h0M127.2 204.2h0M123.8 205.0h0M129.4 197.9h0M136.5 186.6h0M130.2 196.9h0M129.1 194.0h0M130.1 199.9h0M134.9 187.5h0M128.0 199.3h0M133.4 188.1h0M130.9 198.9h0M120.2 208.3h0M124.9 199.4h0M120.3 201.6h0M124.8 210.6h0M126.6 198.2h0M130.3 191.5h0M119.3 209.1h0M119.4 203.6h0M133.0 193.6h0M123.0 208.0h0M127.6 218.0h0M128.7 201.3h0M128.4 199.5h0M121.4 207.9h0M136.3 197.4h0M123.1 209.9h0M135.2 195.7h0M132.0 196.3h0M129.5 212.8h0M122.6 208.5h0M120.3 194.3h0M132.4 196.9h0M129.1 215.6h0M135.6 187.2h0M118.2 213.5h0M136.0 192.4h0M120.8 209.5h0M133.7 195.5h0M136.5 195.1h0M120.1 205.2h0M131.8 198.9h0M126.8 202.4h0M131.9 189.7h0M118.7 205.3h0M126.1 205.0h0M131.9 202.3h0M132.6 197.8h0M134.4 199.5h0M140.6 194.5h0M142.6 184.3h0M141.5 194.0h0M140.8 188.3h0M138.9 188.2h0M142.6 189.5h0M143.3 186.1h0M138.7 171.2h0M143.4 197.4h0M139.8 187.5h0M142.0 191.4h0M142.9 184.3h0M142.7 188.9h0M138.6 208.6h0M141.1 185.5h0M141.4 209.8h0M140.7 185.8h0M140.1 188.3h0M142.9 178.7h0M144.0 186.6h0M141.5 197.2h0M142.9 190.4h0M138.9 189.6h0M141.7 182.1h0M141.0 194.4h0M144.1 192.7h0M141.3 191.4h0M140.0 191.5h0M144.0 187.8h0M143.5 179.1h0M138.8 188.9h0M140.3 184.3h0M140.2 186.7h0M143.3 184.3h0M143.7 168.8h0M144.4 193.5h0M138.3 189.0h0M140.3 197.5h0M143.0 192.0h0M144.7 176.3h0M142.1 190.7h0M139.7 181.8h0M141.7 188.5h0M143.1 190.1h0M143.1 186.5h0M141.0 183.0h0M140.7 191.3h0M140.3 205.9h0M142.2 186.1h0M141.8 191.4h0M140.8 191.1h0M142.5 189.8h0M138.2 189.2h0M142.7 183.5h0M140.8 192.4h0M141.4 193.8h0M137.6 188.3h0M142.1 189.1h0M143.5 192.4h0M139.3 195.1h0M143.1 180.1h0M141.9 186.7h0M143.5 189.0h0M141.3 188.6h0M139.8 193.2h0M140.1 184.8h0M141.4 198.0h0M141.1 209.1h0M139.0 196.5h0M141.0 181.3h0M142.6 189.3h0M141.1 188.4h0M139.3 189.5h0M141.3 193.1h0M140.8 188.6h0M141.6 185.8h0M145.6 188.1h0M136.0 199.7h0M140.8 187.7h0M143.4 200.7h0M140.0 196.4h0M145.3 194.1h0M137.5 194.6h0M139.3 189.6h0M139.5 187.0h0M142.3 185.6h0M135.6 191.2h0M139.6 192.7h0M142.7 184.8h0M139.3 190.4h0M143.9 194.4h0M139.7 194.9h0M143.2 194.1h0M141.7 188.7h0M142.0 186.9h0M142.1 186.9h0M144.1 192.0h0M140.3 183.8h0M142.6 190.1h0M141.5 196.6h0M143.2 186.2h0M141.4 181.4h0M141.0 188.9h0M142.6 189.7h0M142.2 184.5h0M140.6 180.7h0M141.5 194.0h0M140.7 179.5h0M137.5 186.4h0M140.4 189.4h0M142.9 186.4h0M143.7 190.1h0M140.1 187.8h0M140.3 185.1h0M146.1 191.1h0M139.3 192.1h0M140.2 183.8h0M142.3 182.0h0M140.4 189.6h0M143.3 166.4h0M139.8 199.1h0M137.9 186.4h0M139.0 196.7h0M142.8 187.1h0M141.1 187.3h0M140.4 194.2h0M141.0 196.0h0M142.4 187.8h0M138.9 192.3h0M142.8 190.9h0M141.3 189.5h0M143.4 211.6h0M140.7 207.6h0M140.7 194.6h0M143.3 188.2h0M139.2 187.3h0M137.6 191.4h0M143.8 207.1h0M142.5 197.9h0M139.4 179.8h0M138.1 191.7h0M145.5 186.2h0M137.9 188.2h0M140.5 174.5h0M151.0 186.0h0M165.2 172.3h0M170.6 170.3h0M163.4 172.2h0M149.6 185.5h0" stroke="#ffa500" stroke-width="1.8" stroke-linecap="square" fill="none"/>
<path d="M31.8 250.5h0M31.3 247.4h0M31.4 260.8h0M31.4 250.8h0M30.8 250.9h0M30.9 250.1h0M30.8 250.0h0M31.0 264.2h0M31.3 260.2h0M31.3 249.8h0M30.8 238.9h0M31.3 257.1h0M30.9 256.1h0M30.9 252.3h0M31.9 251.7h0M31.1 254.7h0M32.1 258.6h0M31.2 257.2h0M31.1 254.3h0M31.6 254.2h0M31.6 253.8h0M31.6 249.2h0M30.7 249.7h0M31.4 267.6h0M30.8 248.4h0M30.8 245.3h0M31.1 262.8h0M31.5 252.0h0M31.0 248.5h0M31.8 256.5h0M30.8 251.8h0M30.8 259.3h0M30.8 249.1h0M31.1 264.7h0M31.6 246.2h0M30.8 246.7h0M30.9 253.1h0M31.2 252.3h0M31.6 252.4h0M31.2 255.5h0M30.9 247.1h0M32.7 253.6h0M30.8 258.8h0M30.7 252.8h0M32.1 258.4h0M30.7 253.6h0M31.1 228.9h0M31.1 250.0h0M30.9 229.9h0M31.1 252.1h0M30.7 260.8h0M30.8 246.4h0M30.9 246.5h0M31.1 249.9h0M31.2 257.1h0M31.0 253.0h0M31.0 257.3h0M31.5 257.1h0M31.0 251.5h0M31.0 261.5h0M30.7 260.6h0M32.3 262.0h0M30.8 251.2h0M31.0 252.8h0M52.7 243.4h0M41.5 252.7h0M52.7 243.2h0M32.2 242.2h0M32.6 252.8h0M40.8 248.6h0M47.1 240.1h0M54.4 241.3h0M66.0 235.9h0M31.8 254.6h0M53.5 246.4h0M55.8 233.9h0M45.4 245.0h0M57.3 243.7h0M40.6 245.8h0M48.9 245.8h0M39.7 251.3h0M33.9 248.1h0M43.0 251.3h0M32.9 254.2h0M35.1 250.8h0M51.5 242.9h0M31.2 252.1h0M63.3 236.5h0M31.5 249.6h0M55.0 240.9h0M36.4 257.9h0M34.5 246.5h0M48.9 246.1h0M36.3 245.6h0M31.3 240.9h0M46.7 248.2h0M31.3 257.0h0M46.9 246.1h0M31.2 250.7h0M33.4 251.4h0M40.8 248.3h0M34.1 250.7h0M58.1 239.1h0M42.3 249.0h0M32.0 253.1h0M35.3 250.9h0M31.4 256.9h0M31.2 256.6h0M39.7 250.0h0M32.8 253.6h0M34.4 250.3h0M34.6 247.0h0M31.2 249.4h0M40.0 240.6h0M31.5 253.4h0M41.6 249.7h0M35.3 250.5h0M38.0 250.4h0M39.7 248.3h0M34.4 257.5h0M35.1 250.4h0M60.4 240.0h0M42.0 250.4h0M51.3 243.1h0M34.0 253.5h0M40.0 250.0h0M31.1 252.0h0M33.7 249.9h0M32.7 252.1h0M35.9 252.6h0M93.0 219.9h0M68.3 231.7h0M38.3 248.7h0M33.5 248.8h0M34.5 253.0h0M35.0 255.4h0M50.6 237.8h0M35.4 251.3h0M58.7 242.5h0M33.1 251.1h0M34.3 251.9h0M53.2 245.2h0M31.3 252.8h0M32.0 249.2h0M53.3 241.4h0M52.7 245.5h0M53.2 246.6h0M53.9 250.2h0M34.3 251.3h0M38.2 247.2h0M31.3 248.4h0M59.0 241.2h0M50.5 243.2h0M35.2 253.3h0M45.9 246.4h0M41.2 247.8h0M39.1 250.6h0M39.6 248.8h0M36.4 250.2h0M50.6 245.6h0M31.1 252.0h0M33.1 251.1h0M40.1 253.8h0M33.2 253.5h0M51.7 245.5h0M54.0 239.2h0M46.2 246.6h0M75.5 232.4h0M37.3 249.7h0M36.8 251.4h0M36.1 255.8h0M63.6 238.6h0M53.1 244.1h0M33.1 249.2h0M45.9 247.7h0M50.3 241.5h0M57.9 238.7h0M33.1 250.9h0M56.6 242.5h0M43.9 248.1h0M35.3 249.2h0M37.5 257.5h0M53.8 241.8h0M32.1 249.5h0M45.5 241.9h0M49.8 247.9h0M34.1 249.5h0M38.4 249.4h0M43.4 247.7h0M56.7 243.3h0M54.6 260.8h0M41.4 247.9h0M44.2 243.7h0M33.3 251.1h0M39.9 252.1h0M42.6 246.2h0M43.5 248.7h0M48.4 248.0h0M31.8 254.8h0M37.6 248.5h0M33.4 250.7h0M31.1 253.0h0M41.4 239.1h0M53.4 240.4h0M37.4 252.3h0M36.0 251.2h0M34.9 251.4h0M42.5 245.4h0M47.4 248.2h0M66.4 233.3h0M53.7 242.1h0M36.6 250.6h0M31.1 250.5h0M34.3 254.0h0M34.2 253.3h0M32.4 251.2h0M42.5 255.7h0M35.5 248.8h0M39.7 256.2h0M31.2 251.3h0M56.9 239.7h0M32.9 252.0h0M35.1 252.1h0M35.4 265.6h0M41.7 249.8h0M90.8 223.7h0M54.2 243.9h0M50.7 241.8h0M41.0 249.0h0M32.6 252.9h0M86.9 224.0h0M46.4 249.0h0M37.3 247.8h0M53.2 243.9h0M39.1 249.1h0M35.0 254.5h0M39.4 247.9h0M84.6 225.2h0M43.7 247.6h0M33.1 249.4h0M31.9 253.4h0M38.2 250.5h0M33.4 248.3h0M40.6 248.4h0M46.3 245.5h0M56.8 245.3h0M42.6 245.4h0M49.8 241.0h0M34.9 249.5h0M37.4 247.5h0M31.4 252.4h0M44.0 248.3h0M36.6 246.9h0M46.1 243.0h0M38.6 247.9h0M41.7 246.9h0M36.1 251.1h0M35.1 254.4h0M39.9 249.4h0M77.1 232.8h0M71.7 232.5h0M42.7 250.5h0M36.6 248.7h0M34.8 250.7h0M31.4 251.9h0M31.1 249.9h0M31.2 253.4h0M47.0 239.2h0M31.1 255.6h0M36.3 249.3h0M51.4 243.7h0M33.5 253.7h0M37.0 248.0h0M32.7 252.8h0M31.7 251.5h0M43.0 251.1h0M35.9 250.0h0M55.9 242.6h0M37.3 254.3h0M117.0 204.0h0M116.0 210.4h0M43.5 243.4h0M40.4 233.1h0M60.0 241.9h0M92.6 220.4h0M44.2 251.7h0M112.2 215.2h0M67.7 238.1h0M38.9 247.9h0M95.2 203.0h0M81.6 228.1h0M110.5 211.3h0M52.2 237.5h0M78.2 228.0h0M51.0 245.4h0M53.2 243.0h0M85.2 225.7h0M93.4 222.5h0M39.9 246.7h0M101.9 216.6h0M93.7 218.1h0M42.3 243.6h0M53.7 242.8h0M92.8 224.8h0M84.3 225.1h0M99.2 218.7h0M52.6 244.7h0M79.2 232.4h0M50.0 247.8h0M55.9 253.1h0M61.8 236.1h0M98.6 215.5h0M91.9 223.9h0M62.5 218.3h0M54.8 243.2h0M99.5 224.6h0M49.1 245.9h0M117.6 204.6h0M54.1 244.1h0M91.9 217.1h0M58.5 236.8h0M91.5 225.5h0M104.8 202.7h0M64.5 237.6h0M58.3 237.8h0M113.3 205.7h0M66.2 237.2h0M67.6 238.5h0M62.8 237.4h0M111.6 210.7h0M99.0 215.6h0M42.0 257.8h0M61.2 243.3h0M72.1 241.7h0M58.3 241.0h0M77.8 231.5h0M66.7 236.6h0M58.5 238.3h0M87.8 224.3h0M100.3 219.6h0M103.3 213.6h0M54.8 242.5h0M68.7 234.5h0M98.9 215.0h0M65.0 235.4h0M77.5 224.2h0M93.1 224.2h0M90.6 224.1h0M86.9 222.2h0M89.4 227.8h0M42.0 247.3h0M42.2 245.9h0M85.8 227.7h0M96.3 223.6h0M68.9 236.4h0M39.9 251.4h0M47.8 244.4h0M102.6 215.8h0M74.6 231.6h0M60.2 240.9h0M96.3 217.7h0M105.3 218.1h0M37.8 250.1h0M65.7 237.4h0M107.7 212.8h0M98.3 215.8h0M98.9 218.3h0M108.6 211.9h0M97.5 219.7h0M61.1 240.2h0M77.2 235.3h0M69.7 235.0h0M93.5 225.0h0M68.7 234.9h0M114.2 206.5h0M110.0 207.7h0M86.4 226.9h0M38.7 247.7h0M88.0 227.3h0M37.5 246.3h0M49.0 246.9h0M43.9 247.9h0M46.3 242.6h0M112.6 208.8h0M42.3 250.8h0M40.1 248.0h0M83.5 226.2h0M55.2 242.5h0M104.8 213.6h0M79.6 224.7h0M103.4 215.8h0M53.9 241.5h0M40.0 245.5h0M94.6 219.7h0M82.6 222.2h0M96.6 217.6h0M51.9 251.9h0M98.4 213.6h0M54.5 243.4h0M44.8 253.8h0M81.2 229.6h0M46.1 241.6h0M96.0 225.1h0M70.8 239.4h0M112.4 208.5h0M67.7 238.0h0M61.2 237.0h0M44.2 247.4h0M51.5 248.1h0M67.1 221.7h0M67.8 232.4h0M66.9 239.3h0M62.6 236.4h0M114.6 206.0h0M58.7 224.3h0M103.1 216.7h0M90.8 221.7h0M69.9 235.4h0M58.5 240.9h0M89.8 227.0h0M96.3 221.0h0M103.8 214.4h0M79.6 225.8h0M77.3 230.9h0M85.0 226.0h0M47.2 245.8h0M88.0 228.2h0M101.2 216.5h0M41.5 250.1h0M65.2 235.4h0M47.1 245.2h0M75.3 228.4h0M40.9 246.3h0M62.3 241.9h0M69.1 232.2h0M58.5 238.3h0M57.1 239.7h0M59.9 241.8h0M115.0 231.8h0M46.5 244.8h0M66.7 236.1h0M77.8 231.9h0M81.3 230.8h0M75.1 234.6h0M58.2 238.4h0M67.7 235.3h0M95.3 222.2h0M108.8 212.6h0M36.8 251.9h0M87.1 223.5h0M110.4 215.1h0M44.8 247.1h0M71.5 237.0h0M93.3 223.1h0M98.3 218.6h0M113.1 207.3h0M57.1 239.8h0M52.3 239.5h0M74.3 230.6h0M61.7 238.8h0M80.0 232.3h0M96.9 215.4h0M82.4 250.6h0M104.6 214.7h0M64.3 236.6h0M51.2 241.3h0M40.3 247.9h0M73.9 234.6h0M78.4 230.5h0M40.0 246.2h0M37.6 247.2h0M85.4 227.2h0M60.7 262.1h0M95.9 227.5h0M96.7 220.3h0M91.3 220.2h0M84.1 230.2h0M71.4 232.1h0M90.2 224.2h0M51.6 244.6h0M86.2 237.7h0M98.1 216.8h0M87.6 218.1h0M59.9 244.0h0M97.5 220.0h0M42.1 251.9h0M79.5 228.3h0M42.5 248.7h0M116.5 216.7h0M50.6 245.1h0M101.1 216.3h0M69.9 231.9h0M84.9 226.1h0M97.5 216.1h0M99.1 220.0h0M109.0 210.0h0M60.9 241.4h0M86.2 220.9h0M58.1 239.8h0M99.7 218.0h0M66.1 237.9h0M62.1 238.8h0M65.9 236.9h0M76.8 235.5h0M38.9 247.8h0M102.3 202.6h0M46.1 249.4h0M61.5 236.3h0M61.7 238.3h0M112.5 207.9h0M111.1 208.9h0M110.5 211.1h0M108.5 210.3h0M63.8 242.1h0M93.5 228.0h0M48.4 240.5h0M69.4 230.4h0M80.3 231.7h0M111.8 206.5h0M101.6 213.5h0M94.6 220.3h0M96.1 217.9h0M51.6 247.2h0M103.7 216.5h0M38.7 249.3h0M98.3 213.7h0M55.8 240.7h0M63.8 234.7h0M61.9 241.1h0M105.8 207.5h0M46.7 247.1h0M90.7 225.7h0M53.4 240.4h0M75.8 231.5h0M66.3 235.0h0M99.5 223.7h0M88.1 227.6h0M48.7 242.4h0M73.1 233.1h0M52.7 241.1h0M105.0 210.8h0M65.3 239.6h0M104.0 209.7h0M94.9 219.8h0M64.8 231.6h0M55.9 241.6h0M86.2 226.6h0M43.6 248.2h0M109.5 210.6h0M55.7 237.8h0M61.6 238.9h0M69.5 234.5h0M43.7 252.9h0M58.3 243.6h0M100.4 218.6h0M45.1 245.0h0M49.2 247.3h0M53.1 248.3h0M94.9 221.8h0M57.2 241.4h0M82.7 225.1h0M74.1 229.8h0M92.0 231.8h0M67.9 234.0h0M114.4 208.3h0M68.5 238.0h0M106.2 212.6h0M52.3 242.0h0M48.4 247.7h0M75.0 234.3h0M71.5 233.9h0M82.2 226.0h0M48.7 246.5h0M67.6 225.0h0M92.0 222.5h0M95.5 219.2h0M53.4 243.8h0M74.8 229.0h0M73.5 232.6h0M47.5 249.6h0M75.0 231.4h0M88.3 218.9h0M40.4 249.5h0M82.3 235.7h0M47.8 241.0h0M66.3 235.9h0M66.8 238.3h0M38.3 247.5h0M113.6 211.2h0M109.4 210.4h0M86.4 227.9h0M56.2 242.6h0M50.7 245.4h0M116.2 204.7h0M96.0 217.6h0M72.8 243.4h0M104.7 213.9h0M99.5 217.6h0M42.9 247.4h0M83.6 227.6h0M54.1 244.0h0M79.2 230.3h0M83.7 226.9h0M89.0 224.7h0M107.2 211.3h0M55.1 243.7h0M72.5 234.5h0M43.7 257.5h0M68.2 237.5h0M43.4 250.4h0M115.6 203.8h0M51.4 241.7h0M39.0 247.1h0M56.7 239.3h0M67.9 238.3h0M50.8 243.9h0M51.7 245.5h0M95.2 219.7h0M48.9 247.8h0M98.3 215.9h0M91.3 222.8h0M52.8 244.3h0M102.7 213.5h0M52.9 242.0h0M93.2 229.9h0M109.7 208.1h0M76.6 226.8h0M38.2 245.9h0M56.9 243.3h0M106.3 211.9h0M78.6 229.0h0M38.4 249.1h0M87.0 223.5h0M64.2 240.3h0M48.3 245.9h0M113.7 210.7h0M86.7 226.3h0M86.9 223.9h0M41.6 242.3h0M94.3 222.9h0M47.3 239.8h0M75.3 226.5h0M105.7 211.7h0M70.6 234.4h0M86.4 223.5h0M45.8 247.1h0M54.7 244.8h0M78.1 230.6h0M59.7 242.0h0M57.7 243.0h0M68.8 234.1h0M59.2 240.6h0M90.4 227.0h0M74.4 230.7h0M74.9 235.0h0M76.4 232.3h0M60.5 240.6h0M58.7 240.7h0M90.5 225.0h0M104.1 214.9h0M86.7 224.9h0M75.0 228.5h0M72.6 232.9h0M65.8 239.7h0M101.4 214.9h0M39.6 243.4h0M114.3 201.6h0M86.5 226.7h0M108.1 211.0h0M54.4 244.4h0M90.7 220.8h0M58.7 244.4h0M62.1 239.3h0M113.9 214.9h0M49.2 244.3h0M45.0 246.6h0M43.4 249.8h0M66.4 234.3h0M79.5 230.8h0M77.1 231.3h0M40.5 249.9h0M112.1 213.2h0M108.2 212.2h0M38.8 250.6h0M49.2 246.5h0M48.9 240.3h0M64.0 237.4h0M105.8 215.1h0M88.6 226.4h0M61.9 238.9h0M68.8 239.8h0M107.4 210.5h0M44.7 240.8h0M82.9 224.8h0M94.8 223.3h0M50.0 247.3h0M72.0 229.7h0M46.3 250.1h0M55.6 242.2h0M84.2 227.5h0M112.8 209.8h0M77.5 240.5h0M84.5 228.8h0M107.1 216.9h0M36.8 247.7h0M91.1 224.9h0M114.8 210.0h0M109.9 215.8h0M54.2 243.2h0M100.9 213.3h0M115.5 206.0h0M48.3 249.2h0M49.1 245.4h0M65.4 240.3h0M112.8 208.7h0M84.8 228.9h0M78.9 232.0h0M56.8 239.8h0M51.5 245.7h0M40.5 249.0h0M79.7 227.8h0M51.7 237.1h0M45.3 248.5h0M112.2 216.2h0M63.8 236.0h0M45.9 244.9h0M89.4 221.8h0M73.8 233.9h0M75.3 228.4h0M85.3 226.6h0M84.3 233.3h0M75.0 230.0h0M37.7 249.3h0M68.9 236.0h0M62.6 235.2h0M44.3 244.1h0M105.9 213.2h0M78.9 225.5h0M118.0 206.7h0M116.1 208.5h0M65.7 239.1h0M51.9 249.4h0M65.3 233.6h0M64.6 238.2h0M63.2 240.8h0M78.2 226.8h0M77.5 225.7h0M95.7 230.9h0M114.5 214.3h0M64.5 237.3h0M57.1 241.9h0M107.6 217.8h0M102.9 217.2h0M79.6 229.4h0M106.9 210.0h0M99.2 215.7h0M55.7 229.9h0M110.6 206.1h0M85.2 224.3h0M108.5 213.9h0M114.1 208.3h0M50.3 259.9h0M40.8 244.9h0M95.0 221.5h0M103.5 215.7h0M56.3 239.7h0M113.5 207.1h0M44.3 244.5h0M54.9 239.2h0M64.1 238.2h0M76.0 229.6h0M48.7 244.7h0M117.4 208.8h0M104.7 211.0h0M40.7 250.6h0M84.2 227.5h0M99.5 213.7h0M72.3 233.5h0M113.2 210.5h0M107.8 212.9h0M105.0 211.4h0M104.6 215.7h0M45.4 247.9h0M93.7 222.5h0M70.6 236.0h0M70.2 236.0h0M110.6 208.4h0M65.8 239.6h0M38.6 245.9h0M96.6 216.9h0M78.3 225.8h0M45.7 243.3h0M62.8 240.0h0M94.6 224.3h0M45.4 242.7h0M45.6 243.5h0M51.2 248.0h0M52.1 245.0h0M39.4 250.6h0M105.9 214.9h0M67.1 233.7h0M108.7 216.1h0M39.6 246.7h0M117.2 207.4h0M112.1 211.2h0M89.3 220.7h0M83.9 224.5h0M81.0 228.8h0M103.5 218.3h0M117.9 204.8h0M102.5 214.9h0M65.9 237.3h0M42.4 252.9h0M53.7 253.6h0M55.9 241.2h0M108.8 209.7h0M58.2 237.3h0M82.8 229.1h0M60.9 239.0h0M93.9 221.4h0M113.8 212.4h0M116.9 207.5h0M71.7 233.8h0M95.3 221.4h0M73.1 235.3h0M92.2 221.8h0M117.1 208.9h0M105.6 211.1h0M49.3 244.0h0M81.5 223.8h0M66.6 236.8h0M98.9 217.3h0M56.0 243.3h0M85.5 199.7h0M73.1 234.1h0M116.4 223.3h0M106.8 217.4h0M74.4 232.2h0M92.9 220.8h0M103.0 214.5h0M99.2 219.8h0M37.2 247.3h0M65.9 236.5h0M50.6 237.4h0M42.6 246.7h0M85.5 226.4h0M115.7 211.0h0M81.2 228.0h0M68.1 223.5h0M77.3 230.2h0M72.1 236.1h0M49.6 245.6h0M96.0 220.3h0M99.8 216.8h0M68.0 236.5h0M45.6 247.7h0M68.5 244.1h0M37.7 247.4h0M113.3 210.4h0M59.8 241.0h0M40.7 245.2h0M89.6 220.1h0M68.3 236.7h0M99.5 214.0h0M104.8 212.2h0M49.6 244.0h0M47.2 244.7h0M100.0 222.5h0M87.3 225.1h0M44.2 243.7h0M77.9 231.1h0M65.7 238.3h0M56.4 245.2h0M87.2 226.9h0M89.6 222.2h0M43.5 247.8h0M117.2 206.5h0M69.6 237.5h0M110.5 209.7h0M55.3 242.3h0M98.7 216.8h0M57.2 242.2h0M56.8 247.5h0M112.4 210.8h0M104.5 210.6h0M100.0 218.0h0M93.7 220.5h0M63.5 238.7h0M61.7 246.3h0M106.4 210.5h0M84.9 226.1h0M114.1 209.3h0M93.5 231.1h0M64.1 237.7h0M74.0 232.4h0M51.4 241.6h0M87.1 228.0h0M42.3 249.3h0M55.2 245.6h0M43.6 249.3h0M46.4 246.1h0M63.7 236.6h0M88.8 224.1h0M49.6 246.4h0M58.8 236.7h0M43.4 247.2h0M85.7 224.6h0M56.2 243.4h0M77.8 227.8h0M76.7 227.9h0M53.6 241.0h0M82.1 228.9h0M82.5 230.1h0M88.6 221.8h0M53.0 245.0h0M70.0 234.0h0M104.4 213.3h0M87.6 223.3h0M37.9 251.7h0M65.7 232.2h0M109.4 216.4h0M50.5 244.3h0M49.4 243.4h0M104.0 210.3h0M70.4 232.9h0M90.9 219.6h0M56.9 240.4h0M68.0 235.7h0M85.2 227.3h0M48.8 245.0h0M84.4 225.7h0M67.4 236.5h0M78.6 226.9h0M68.1 235.9h0M37.5 255.6h0M98.4 223.0h0M63.6 239.3h0M69.6 244.4h0M116.6 203.8h0M98.5 221.2h0M45.7 253.6h0M42.5 247.4h0M65.2 239.4h0M107.6 214.4h0M44.9 245.5h0M107.8 217.2h0M52.0 245.8h0M95.4 220.1h0M109.5 215.1h0M73.6 233.1h0M66.1 234.4h0M87.1 225.7h0M65.4 237.9h0M79.5 229.6h0M79.6 230.3h0M111.0 208.1h0M108.7 211.8h0M103.2 213.8h0M113.4 210.3h0M74.0 233.8h0M56.1 242.9h0M113.9 207.0h0M88.9 231.3h0M37.7 250.8h0M81.0 234.7h0M44.2 245.7h0M39.3 251.5h0M56.1 241.0h0M38.3 249.9h0M110.3 212.2h0M62.0 242.8h0M78.4 227.9h0M61.5 242.6h0M42.4 246.5h0M117.6 210.3h0M71.7 236.8h0M64.5 232.0h0M48.0 247.6h0M109.1 213.2h0M47.6 247.4h0M40.3 248.4h0M70.8 231.7h0M53.6 238.2h0M46.8 243.6h0M37.1 252.2h0M51.4 248.8h0M111.5 213.2h0M90.0 223.5h0M106.2 217.6h0M47.7 241.2h0M64.3 235.2h0M54.1 242.2h0M89.7 221.2h0M100.0 216.2h0M115.6 203.7h0M87.0 222.3h0M89.3 221.3h0M87.3 235.8h0M102.1 217.9h0M66.2 234.6h0M53.6 244.9h0M57.2 239.2h0M76.2 234.3h0M69.9 235.0h0M73.8 232.5h0M105.6 211.2h0M57.8 240.7h0M71.4 232.9h0M62.4 238.5h0M70.8 234.9h0M107.1 216.4h0M85.9 229.0h0M70.1 224.9h0M115.2 206.4h0M51.7 247.5h0M70.7 233.4h0M40.6 248.1h0M55.6 239.5h0M80.6 228.5h0M103.9 216.7h0M96.2 223.7h0M108.2 212.0h0M92.5 221.2h0M88.9 222.6h0M68.7 240.3h0M111.7 210.2h0M72.1 232.1h0M63.3 239.1h0M76.4 232.6h0M38.9 245.9h0M100.1 222.3h0M85.1 216.2h0M72.6 231.4h0M95.3 221.4h0M90.1 219.9h0M102.9 216.1h0M70.1 234.8h0M65.7 238.1h0M60.8 238.0h0M100.7 217.0h0M106.5 209.2h0M52.4 244.7h0M105.8 216.9h0M59.6 244.8h0M67.2 236.5h0M42.7 246.7h0M87.7 224.3h0M108.5 211.0h0M48.7 244.5h0M55.9 240.6h0M102.4 214.4h0M53.5 245.6h0M50.1 244.1h0M109.2 213.6h0M48.3 242.3h0M43.8 243.4h0M88.8 224.2h0M45.6 245.1h0M66.5 223.4h0M114.8 210.3h0M101.2 217.2h0M96.3 222.2h0M110.3 206.9h0M51.9 242.8h0M87.1 221.0h0M88.4 224.6h0M59.2 244.4h0M107.8 215.7h0M65.1 234.9h0M84.5 226.4h0M45.9 247.9h0M49.1 239.4h0M103.4 214.5h0M79.7 229.7h0M97.7 217.9h0M112.1 203.9h0M47.1 242.0h0M84.4 228.8h0M79.5 230.9h0M79.9 236.7h0M38.3 250.7h0M47.4 246.8h0M116.6 209.3h0M79.1 231.4h0M55.4 245.7h0M47.0 245.8h0M76.7 235.7h0M73.8 232.3h0M112.4 206.5h0M42.1 247.8h0M83.9 226.5h0M91.9 223.9h0M71.6 234.4h0M85.9 221.7h0M78.8 226.5h0M111.7 207.0h0M70.3 245.2h0M105.1 215.2h0M52.8 241.9h0M88.3 226.8h0M99.7 219.4h0M79.9 228.4h0M103.7 212.7h0M71.3 234.4h0M103.5 216.8h0M104.3 212.7h0M39.9 251.0h0M80.3 235.2h0M109.0 208.5h0M55.7 236.1h0M113.8 208.9h0M89.4 223.9h0M37.8 250.1h0M64.8 236.2h0M41.1 248.6h0M41.5 248.5h0M53.9 238.6h0M57.7 243.8h0M105.4 215.9h0M66.1 233.8h0M102.8 217.1h0M101.3 215.7h0M78.9 228.6h0M64.0 236.7h0M58.4 242.0h0M57.1 243.4h0M58.4 238.0h0M98.4 216.3h0M54.2 243.3h0M81.2 228.5h0M110.9 208.0h0M36.9 253.2h0M60.7 242.8h0M113.9 208.5h0M109.7 212.5h0M113.0 209.0h0M96.4 222.8h0M51.0 246.6h0M55.4 241.6h0M97.0 217.3h0M87.7 225.1h0M63.9 236.5h0M53.0 245.2h0M87.8 227.5h0M78.7 233.7h0M117.4 208.4h0M96.7 206.5h0M63.3 233.4h0M50.3 246.7h0M52.6 246.2h0M79.9 226.4h0M111.8 210.5h0M107.5 212.7h0M100.1 220.0h0M101.0 220.3h0M42.1 247.4h0M63.1 237.8h0M107.4 215.4h0M44.8 248.3h0M37.3 246.1h0M40.7 244.7h0M53.0 244.7h0M86.2 224.3h0M116.3 206.0h0M48.8 253.5h0M73.7 231.1h0M48.3 248.5h0M49.6 246.5h0M44.0 244.0h0M91.9 222.5h0M103.5 214.8h0M64.1 232.5h0M105.4 213.5h0M71.6 234.2h0M49.2 243.6h0M100.9 216.9h0M46.5 246.4h0M41.4 250.9h0M104.3 213.1h0M74.6 237.2h0M76.7 231.5h0M116.7 207.6h0M91.8 225.0h0M86.2 223.3h0M43.4 252.9h0M93.9 224.6h0M106.4 213.4h0M94.0 220.6h0M67.5 236.2h0M74.2 233.6h0M63.5 241.0h0M61.4 242.7h0M54.3 240.6h0M39.3 252.3h0M101.1 221.1h0M65.2 233.9h0M80.4 231.1h0M56.1 239.3h0M67.4 238.5h0M61.0 238.8h0M70.3 237.1h0M86.2 219.3h0M74.5 229.3h0M42.9 245.8h0M93.4 221.2h0M96.2 221.8h0M48.6 249.1h0M45.7 248.0h0M51.4 245.0h0M99.7 216.2h0M61.2 238.5h0M90.4 225.9h0M47.6 245.6h0M108.0 215.0h0M71.6 227.9h0M76.7 231.5h0M52.0 244.1h0M85.3 227.9h0M85.1 225.9h0M55.4 238.1h0M112.9 207.9h0M113.4 212.0h0M68.3 238.7h0M51.6 244.9h0M104.9 213.9h0M39.7 251.7h0M105.1 214.2h0M111.1 211.5h0M40.5 248.9h0M89.7 224.0h0M113.3 210.5h0M84.6 228.1h0M45.7 248.2h0M102.7 218.6h0M69.3 234.2h0M54.3 242.9h0M69.2 235.1h0M86.1 225.5h0M64.6 236.9h0M42.7 248.7h0M99.4 214.8h0M106.1 214.7h0M88.1 217.7h0M97.1 228.5h0M55.0 240.5h0M100.5 218.7h0M115.0 206.7h0M57.3 242.5h0M51.1 243.1h0M39.9 250.9h0M54.1 242.9h0M63.5 239.0h0M109.4 212.0h0M92.5 228.4h0M73.0 233.2h0M108.1 211.7h0M105.8 208.4h0M109.9 208.6h0M112.2 208.4h0M67.5 234.6h0M116.3 200.5h0M84.1 228.6h0M54.3 242.7h0M55.3 243.9h0M107.3 213.7h0M111.4 211.6h0M57.3 238.7h0M111.9 209.5h0M113.3 208.0h0M74.6 234.4h0M85.6 226.4h0M58.1 242.0h0M36.7 247.0h0M41.1 253.9h0M43.7 247.2h0M41.3 245.4h0M89.3 222.1h0M103.9 211.8h0M75.5 229.4h0M80.4 224.8h0M118.1 205.7h0M52.1 249.5h0M81.9 231.4h0M103.9 216.9h0M107.8 213.9h0M79.5 229.5h0M53.4 241.8h0M107.9 211.9h0M110.2 201.7h0M91.1 224.0h0M45.2 249.4h0M41.2 250.7h0M98.9 219.5h0M77.9 226.8h0M95.7 219.0h0M52.1 246.8h0M60.7 242.1h0M43.6 245.2h0M38.2 248.2h0M110.4 209.7h0M87.5 224.8h0M83.0 228.0h0M114.5 210.4h0M97.1 225.5h0M96.7 219.9h0M41.5 248.5h0M74.2 234.8h0M100.3 211.6h0M87.5 218.3h0M65.7 236.4h0M66.0 238.0h0M104.4 214.7h0M49.2 243.2h0M47.8 245.9h0M37.3 249.5h0M99.4 219.1h0M40.5 254.7h0M64.6 238.3h0M45.5 245.9h0M73.9 238.8h0M61.0 241.5h0M56.5 237.0h0M37.4 250.8h0M126.0 200.9h0M130.2 194.9h0M118.5 209.0h0M136.9 193.8h0M129.8 198.9h0M125.1 200.5h0M120.8 205.3h0M120.5 202.2h0M125.5 199.1h0M127.1 195.0h0M129.3 195.8h0M137.5 193.6h0M131.6 195.2h0M128.3 199.3h0M121.8 201.1h0M122.0 203.8h0M123.9 204.7h0M125.5 199.9h0M130.7 197.2h0M129.7 196.7h0M134.3 191.2h0M135.1 192.5h0M130.7 191.8h0M120.4 203.8h0M128.2 202.9h0M123.8 197.1h0M130.2 197.5h0M135.9 192.5h0M136.0 190.6h0M127.0 197.6h0M134.7 196.6h0M128.9 203.6h0M122.0 205.7h0M137.4 191.2h0M119.3 206.4h0M129.0 200.7h0M128.6 198.0h0M123.2 206.4h0M122.9 203.7h0M128.9 193.9h0M122.0 198.6h0M124.1 202.9h0M119.2 204.9h0M132.6 193.3h0M136.8 192.0h0M131.7 198.1h0M134.6 193.4h0M133.3 193.1h0M118.3 207.1h0M124.8 201.5h0M132.9 191.0h0M123.7 204.8h0M136.1 193.1h0M123.0 197.6h0M135.7 192.3h0M130.2 195.5h0M121.4 206.6h0M126.3 198.4h0M133.1 199.5h0M122.0 204.4h0M118.6 206.5h0M134.0 196.1h0M134.5 188.7h0M137.0 191.8h0M121.1 205.0h0M136.9 193.0h0M124.0 199.7h0M120.3 208.2h0M126.8 198.4h0M136.2 193.6h0M125.5 195.4h0M136.3 193.4h0M133.4 193.3h0M119.2 204.2h0M122.0 205.3h0M135.4 190.6h0M128.9 194.7h0M128.1 198.8h0M135.5 194.7h0M132.6 197.6h0M122.6 201.8h0M129.0 198.5h0M126.5 195.6h0M126.3 198.2h0M119.1 204.3h0M135.6 192.5h0M119.1 203.0h0M126.8 198.8h0M124.9 195.7h0M129.4 200.4h0M131.5 196.2h0M120.4 204.9h0M119.4 204.9h0M120.1 203.3h0M129.3 199.2h0M128.3 196.6h0M131.7 199.4h0M122.0 203.0h0M134.6 194.6h0M120.3 203.9h0M131.8 198.2h0M121.0 204.1h0M127.8 195.6h0M123.5 199.9h0M129.4 197.5h0M135.4 179.6h0M121.5 203.0h0M133.8 193.8h0M129.7 198.6h0M136.6 193.1h0M119.3 207.1h0M137.2 189.5h0M129.9 198.3h0M118.8 202.7h0M127.7 204.1h0M125.2 200.7h0M136.8 191.8h0M126.4 197.4h0M123.8 194.1h0M126.4 205.4h0M123.0 196.3h0M126.3 202.7h0M142.2 188.3h0M141.6 189.8h0M141.2 189.8h0M142.8 190.7h0M140.2 189.6h0M141.7 187.5h0M140.4 189.4h0M139.1 187.7h0M139.9 188.9h0M139.2 190.0h0M142.8 188.2h0M141.4 190.9h0M141.5 190.7h0M140.5 190.0h0M140.9 186.1h0M138.4 187.6h0M139.3 190.7h0M140.6 190.2h0M140.7 189.1h0M141.4 186.7h0M141.4 191.1h0M137.0 192.0h0M144.8 184.4h0M140.7 189.0h0M139.7 193.3h0M140.6 190.8h0M139.8 190.2h0M142.2 195.4h0M143.4 188.1h0M147.0 196.1h0M141.7 187.7h0M141.3 189.1h0M141.3 189.4h0M141.4 188.0h0M142.2 187.4h0M136.8 193.1h0M141.6 188.2h0M139.2 190.2h0M141.0 188.6h0M140.3 186.3h0M139.2 190.5h0M140.5 189.2h0M143.6 188.1h0M140.9 190.6h0M143.0 187.6h0M142.6 186.2h0M139.8 185.1h0M140.3 188.7h0M140.0 189.7h0M141.3 189.0h0M139.7 194.4h0M145.3 186.0h0M143.5 187.0h0M139.6 191.7h0M143.5 187.3h0M139.0 196.1h0M140.8 187.8h0M141.6 191.4h0M139.9 190.9h0M141.0 190.3h0M145.5 183.8h0M140.9 189.4h0M140.4 188.1h0M141.7 190.9h0M141.8 186.7h0M139.7 190.2h0M141.2 187.0h0M139.3 190.6h0M141.7 187.7h0M140.6 188.7h0M142.9 187.6h0M135.9 193.3h0M139.6 191.4h0M140.4 188.7h0M141.6 189.4h0M139.2 192.3h0M140.1 189.4h0M140.0 189.1h0M140.2 186.9h0M140.9 187.7h0M138.9 190.1h0M144.4 184.4h0M140.1 191.0h0M140.6 187.8h0M138.4 192.2h0M141.7 193.5h0M140.5 188.8h0M138.5 188.9h0M145.0 186.6h0M143.2 188.0h0M140.6 187.7h0M141.3 188.7h0M141.2 187.5h0M142.0 190.3h0M138.9 191.5h0M143.3 189.2h0M136.6 193.2h0M141.4 189.6h0M144.2 185.3h0M141.0 190.1h0M142.5 191.0h0M144.5 186.6h0M139.9 191.0h0M140.2 188.4h0M141.9 186.1h0M145.1 187.6h0M140.9 188.6h0M144.9 186.6h0M141.6 191.8h0M140.1 189.5h0M144.2 187.8h0M139.7 189.9h0M141.7 190.2h0M144.2 192.0h0M138.2 192.0h0M141.6 188.8h0M139.7 189.4h0M140.0 190.4h0M140.1 189.1h0M141.0 186.3h0M144.0 190.3h0M144.5 185.4h0M139.9 191.2h0M138.6 191.2h0M147.0 192.9h0M141.8 188.0h0M142.9 187.8h0M140.3 190.7h0M144.0 182.0h0M141.9 185.8h0M142.3 188.9h0M144.2 185.9h0M141.8 188.2h0M140.7 189.1h0M138.0 190.9h0M140.1 189.8h0M141.0 189.9h0M141.3 189.1h0M137.7 191.3h0M141.9 187.7h0M142.6 186.9h0M142.9 186.6h0M139.7 190.7h0M138.3 190.8h0M139.0 190.5h0M139.3 192.0h0M138.4 191.5h0M142.1 188.3h0M140.1 190.0h0M169.5 171.8h0M148.8 188.5h0M153.6 180.5h0M165.2 174.1h0M153.0 183.6h0M159.3 178.6h0" stroke="#008000" stroke-width="1.8" stroke-linecap="square" fill="none"/>
<line x1="30.69" y1="258.44" x2="172.41" y2="172.16" stroke="#000" stroke-width="1" stroke-dasharray="2.2 1.3"/>
<rect x="26.40" y="168.50" width="6.2" height="5.6" rx="1.5" stroke="#dddddd" stroke-width="0.8" fill="#fff" fill-opacity="0.8"/>
<text x="42.20" y="183.80" font-size="10.5" font-weight="bold">(d)</text>
<text x="101.55" y="162.80" font-size="9.6" text-anchor="middle">Support Vector Machine</text>
<text x="30.69" y="285.90" font-size="7.8" text-anchor="middle">0</text>
<text x="20.70" y="261.24" font-size="7.8" text-anchor="end">0</text>
<text x="69.52" y="285.90" font-size="7.8" text-anchor="middle">2</text>
<text x="20.70" y="237.60" font-size="7.8" text-anchor="end">2</text>
<text x="108.35" y="285.90" font-size="7.8" text-anchor="middle">4</text>
<text x="20.70" y="213.96" font-size="7.8" text-anchor="end">4</text>
<text x="147.17" y="285.90" font-size="7.8" text-anchor="middle">6</text>
<text x="20.70" y="190.32" font-size="7.8" text-anchor="end">6</text>
<text x="101.55" y="295.40" font-size="8.6" text-anchor="middle">Actual Band Gap (eV)</text>
<text transform="translate(11.80 221.15) rotate(-90)" x="0" y="0" font-size="8.8" text-anchor="middle">Predicted Band Gap (eV)</text>
<path d="M212.93 165.30V277.00M205.80 266.08H362.60M251.98 165.30V277.00M205.80 239.77H362.60M291.03 165.30V277.00M205.80 213.45H362.60M330.09 165.30V277.00M205.80 187.14H362.60" stroke="#dedede" stroke-width="0.8" fill="none"/>
<rect x="205.80" y="165.30" width="156.80" height="111.70" stroke="#dedede" stroke-width="0.8" fill="none"/>
<path d="M213.3 265.6h0M213.6 265.1h0M213.8 265.6h0M214.1 264.9h0M213.4 265.8h0M214.1 264.3h0M213.0 264.4h0M213.2 265.4h0M213.2 265.8h0M213.7 264.6h0M213.0 265.9h0M213.8 265.7h0M213.3 263.9h0M212.9 265.8h0M213.4 264.9h0M213.3 265.3h0M213.1 264.9h0M213.5 265.5h0M213.2 265.7h0M213.6 265.6h0M213.4 265.8h0M213.0 264.7h0M213.5 263.5h0M213.0 265.5h0M213.6 265.6h0M213.5 263.6h0M213.5 264.2h0M214.0 265.2h0M213.0 265.4h0M213.5 266.0h0M213.4 266.0h0M213.2 265.8h0M213.8 266.0h0M213.7 264.8h0M213.6 264.7h0M213.0 265.4h0M213.0 264.4h0M213.8 265.8h0M213.2 264.7h0M213.8 263.0h0M213.2 265.6h0M213.5 266.0h0M213.1 263.6h0M213.1 265.7h0M213.1 264.8h0M213.0 265.8h0M214.2 263.1h0M213.2 265.7h0M213.4 263.4h0M213.4 264.0h0M213.1 263.3h0M213.5 263.1h0M214.2 263.9h0M213.2 264.4h0M213.5 266.1h0M214.1 265.7h0M213.4 264.7h0M213.5 265.3h0M213.1 266.0h0M213.1 263.8h0M213.3 265.3h0M213.6 265.5h0M213.3 264.6h0M213.0 264.9h0M213.1 264.9h0M213.9 265.1h0M213.4 265.8h0M213.4 265.0h0M213.6 264.6h0M214.3 265.9h0M213.0 265.5h0M213.0 265.0h0M213.9 265.2h0M214.3 265.4h0M213.5 265.3h0M213.0 265.9h0M213.8 265.5h0M213.6 265.7h0M213.5 265.0h0M213.8 264.7h0M213.0 264.0h0M213.4 266.0h0M213.2 264.2h0M213.0 265.6h0M213.0 265.5h0M214.2 264.2h0M213.8 264.8h0M213.1 264.4h0M213.3 264.9h0M213.9 265.3h0M213.6 265.9h0M213.4 266.0h0M213.2 264.1h0M213.7 266.0h0M213.4 265.6h0M213.4 265.7h0M214.5 265.9h0M213.4 264.0h0M213.1 265.7h0M213.4 265.3h0M213.1 265.6h0M213.1 265.3h0M213.3 265.8h0M213.4 265.4h0M213.6 264.9h0M213.6 264.2h0M213.5 265.4h0M213.3 263.0h0M220.6 260.7h0M214.1 269.9h0M216.3 264.0h0M224.5 259.6h0M218.0 259.9h0M219.4 262.9h0M221.3 261.8h0M225.1 256.0h0M214.1 267.2h0M223.9 260.2h0M213.8 266.5h0M237.7 248.4h0M230.8 254.9h0M218.9 263.7h0M214.1 265.9h0M214.2 264.4h0M217.0 263.5h0M225.5 256.6h0M229.8 254.7h0M215.7 268.6h0M234.0 248.4h0M213.9 268.7h0M215.0 263.3h0M238.1 248.9h0M214.3 266.9h0M219.2 262.3h0M217.0 268.4h0M221.3 254.0h0M227.8 257.5h0M227.7 255.6h0M213.8 264.7h0M228.3 262.4h0M220.0 258.5h0M213.7 264.6h0M236.0 251.1h0M234.8 253.3h0M245.8 245.0h0M218.2 264.4h0M224.9 252.1h0M226.5 258.2h0M221.1 256.3h0M213.5 269.7h0M229.3 260.6h0M216.8 264.1h0M214.7 265.0h0M213.4 262.6h0M217.0 259.7h0M255.7 235.4h0M213.3 266.1h0M217.1 260.8h0M235.3 249.0h0M215.1 268.5h0M233.2 251.3h0M213.7 267.8h0M235.2 252.7h0M214.0 269.3h0M230.1 255.4h0M217.4 263.4h0M213.3 263.2h0M218.4 263.3h0M215.7 265.5h0M228.8 253.1h0M216.1 262.0h0M220.7 261.7h0M227.9 255.1h0M224.6 259.5h0M223.4 258.7h0M214.3 261.3h0M236.1 246.8h0M223.6 258.1h0M218.6 268.7h0M234.4 252.3h0M214.5 267.9h0M216.3 262.7h0M216.1 261.3h0M216.1 263.9h0M215.1 261.1h0M235.3 252.5h0M215.1 262.0h0M216.0 264.6h0M222.7 255.9h0M226.6 254.4h0M214.7 265.8h0M218.9 260.6h0M227.1 257.3h0M223.2 256.7h0M213.4 265.9h0M221.3 262.6h0M219.9 261.9h0M230.0 260.4h0M224.5 253.0h0M214.5 266.5h0M214.4 268.9h0M225.3 254.8h0M215.2 258.4h0M218.1 262.6h0M254.3 238.0h0M230.8 253.9h0M218.7 262.8h0M217.2 266.5h0M238.1 244.6h0M220.9 261.4h0M220.3 260.8h0M265.8 230.6h0M238.8 249.5h0M217.5 260.5h0M230.9 250.2h0M227.4 255.5h0M226.0 262.2h0M217.1 263.0h0M219.3 262.0h0M218.2 266.3h0M218.8 268.3h0M222.1 261.1h0M233.2 251.8h0M232.3 250.2h0M219.3 262.0h0M224.8 258.2h0M251.9 240.7h0M229.3 260.0h0M224.7 258.1h0M240.4 251.0h0M227.0 255.8h0M214.9 262.2h0M225.4 257.3h0M230.1 253.9h0M221.1 261.9h0M217.7 260.2h0M216.7 266.1h0M217.8 266.5h0M219.0 265.4h0M226.7 255.8h0M220.4 259.3h0M231.7 254.9h0M213.9 264.5h0M215.0 267.8h0M242.8 248.1h0M214.7 265.0h0M225.2 256.4h0M255.5 238.3h0M235.5 249.9h0M221.9 261.9h0M218.8 264.7h0M224.8 258.6h0M228.4 250.4h0M215.7 264.6h0M223.5 256.3h0M243.9 243.9h0M228.8 251.8h0M250.9 241.1h0M226.5 255.1h0M216.9 263.2h0M231.4 257.1h0M245.6 244.1h0M214.1 262.6h0M218.4 258.7h0M214.0 267.8h0M222.5 258.7h0M226.4 258.6h0M219.2 263.6h0M280.5 223.3h0M232.9 254.9h0M233.6 249.6h0M219.9 260.0h0M213.3 263.0h0M220.8 261.0h0M216.7 261.0h0M216.2 264.0h0M214.6 268.3h0M219.2 263.6h0M246.4 240.0h0M215.0 265.1h0M217.2 264.0h0M252.3 242.1h0M275.9 223.7h0M225.9 255.5h0M247.9 243.8h0M231.4 249.4h0M235.3 248.7h0M235.4 239.0h0M235.8 250.7h0M220.7 258.2h0M213.6 265.5h0M223.8 257.0h0M229.2 254.2h0M213.3 266.8h0M259.2 235.0h0M227.5 255.3h0M242.6 247.6h0M218.2 266.3h0M219.9 262.4h0M214.0 264.8h0M218.2 259.2h0M242.0 251.0h0M247.7 240.9h0M228.9 253.7h0M226.2 255.7h0M220.9 261.9h0M225.1 258.6h0M213.5 263.9h0M219.8 257.8h0M218.9 258.2h0M223.9 262.5h0M214.3 260.1h0M227.1 251.9h0M224.3 258.5h0M245.8 240.4h0M230.4 257.8h0M216.8 263.5h0M213.6 264.7h0M213.7 267.9h0M219.9 260.2h0M215.1 259.0h0M215.5 264.9h0M213.3 267.4h0M234.5 252.6h0M252.8 239.7h0M224.3 260.4h0M225.1 256.3h0M222.7 256.8h0M247.4 241.2h0M227.4 256.8h0M230.2 246.7h0M213.3 264.9h0M221.4 262.1h0M216.9 260.4h0M232.5 255.2h0M221.3 262.6h0M217.1 262.2h0M213.5 265.6h0M213.7 269.0h0M218.4 259.9h0M215.1 263.7h0M216.1 265.6h0M216.8 263.4h0M217.7 267.1h0M280.3 220.3h0M273.8 226.9h0M267.2 234.3h0M230.0 254.6h0M220.8 260.6h0M297.0 213.8h0M226.1 249.6h0M225.7 258.3h0M294.8 206.0h0M263.9 227.1h0M242.2 242.2h0M265.0 231.4h0M248.3 243.4h0M267.1 229.7h0M297.7 207.4h0M255.4 236.5h0M240.1 247.7h0M240.1 249.3h0M264.9 233.6h0M295.6 211.2h0M275.8 225.2h0M263.9 234.6h0M272.5 224.2h0M238.8 244.4h0M252.3 236.9h0M225.7 255.2h0M245.0 246.4h0M238.9 247.8h0M280.8 220.9h0M289.8 217.6h0M246.5 240.1h0M277.0 216.6h0M280.2 218.4h0M227.0 251.5h0M251.7 239.2h0M247.6 244.6h0M297.5 209.3h0M272.9 228.2h0M286.5 216.7h0M252.2 240.0h0M275.7 221.9h0M293.0 209.4h0M280.6 219.7h0M296.7 209.1h0M294.5 209.4h0M257.2 237.0h0M254.6 243.2h0M279.9 223.3h0M273.0 221.8h0M277.4 225.2h0M273.9 221.3h0M244.6 248.1h0M283.5 218.9h0M220.4 262.8h0M291.7 213.1h0M263.9 230.1h0M227.1 251.3h0M223.3 258.4h0M229.7 246.2h0M299.0 205.7h0M263.7 232.8h0M273.7 226.2h0M240.1 245.8h0M227.9 254.0h0M255.4 237.9h0M276.3 220.0h0M280.0 221.8h0M248.2 238.0h0M248.1 241.0h0M295.9 209.3h0M232.3 252.7h0M267.0 235.1h0M249.1 241.2h0M262.4 230.7h0M283.0 221.6h0M240.7 248.6h0M230.1 253.2h0M238.0 250.4h0M299.2 209.7h0M246.6 246.7h0M237.2 250.9h0M237.2 249.7h0M245.4 237.2h0M295.6 211.1h0M240.5 249.9h0M248.2 242.2h0M281.6 223.5h0M278.3 221.1h0M268.0 228.2h0M283.2 216.5h0M280.7 221.8h0M228.0 254.4h0M298.0 206.5h0M237.0 246.5h0M250.8 239.1h0M294.4 210.2h0M243.7 245.7h0M224.5 261.1h0M230.7 254.9h0M284.4 221.8h0M219.9 261.3h0M281.9 217.5h0M282.6 217.4h0M273.1 226.6h0M284.0 220.3h0M224.3 259.1h0M289.7 214.1h0M298.1 211.8h0M289.9 213.6h0M293.4 211.3h0M268.1 229.3h0M271.3 222.0h0M245.1 252.1h0M238.7 248.3h0M265.9 230.8h0M270.2 226.9h0M263.3 237.5h0M251.6 238.2h0M229.4 257.4h0M241.8 246.1h0M239.9 250.8h0M246.2 244.3h0M287.8 213.9h0M271.7 228.5h0M251.9 240.7h0M284.4 221.7h0M266.0 227.2h0M242.0 245.4h0M281.0 221.8h0M248.1 249.4h0M274.6 225.3h0M278.4 220.1h0M294.8 210.5h0M271.8 226.7h0M279.0 217.2h0M257.6 235.8h0M282.2 214.6h0M270.9 230.4h0M294.9 210.9h0M233.8 251.3h0M237.3 247.3h0M224.9 257.1h0M273.4 226.9h0M255.8 231.8h0M226.8 256.3h0M274.7 227.5h0M295.7 210.4h0M250.7 241.0h0M276.5 223.0h0M276.0 222.4h0M268.2 225.1h0M230.4 259.5h0M254.2 238.5h0M290.1 212.4h0M268.3 229.0h0M251.3 244.0h0M276.2 220.9h0M251.2 240.0h0M264.2 234.2h0M225.2 257.3h0M267.4 227.5h0M262.3 230.4h0M252.4 237.4h0M231.1 251.3h0M251.7 242.3h0M275.1 232.0h0M229.3 251.2h0M290.5 208.5h0M260.1 232.5h0M255.0 244.1h0M219.6 263.5h0M292.1 210.8h0M259.0 242.1h0M226.1 255.8h0M295.2 208.1h0M292.9 212.5h0M228.7 256.7h0M272.3 222.9h0M247.1 246.0h0M260.3 234.8h0M296.4 211.3h0M242.2 246.5h0M273.3 223.6h0M258.0 236.6h0M267.7 231.8h0M256.7 237.2h0M231.1 257.0h0M285.3 217.4h0M275.2 224.0h0M259.0 234.2h0M281.3 224.4h0M252.1 239.8h0M222.5 260.5h0M293.1 211.2h0M270.7 224.3h0M270.9 225.4h0M220.9 265.5h0M297.4 209.1h0M265.6 231.3h0M276.0 230.1h0M246.1 250.6h0M288.1 215.6h0M281.1 220.1h0M267.9 226.0h0M274.0 221.3h0M271.7 225.8h0M261.3 233.5h0M280.2 218.7h0M230.9 252.4h0M227.2 255.1h0M272.7 227.6h0M267.7 231.4h0M292.7 213.6h0M259.1 232.9h0M228.1 255.9h0M270.9 224.5h0M278.4 221.9h0M225.1 259.4h0M240.0 248.8h0M233.0 248.1h0M257.6 237.3h0M242.3 240.3h0M261.2 232.4h0M233.1 251.9h0M220.8 264.2h0M226.6 251.9h0M223.7 250.1h0M263.1 230.5h0M235.3 250.8h0M295.6 211.4h0M300.0 209.6h0M291.0 217.7h0M224.6 256.2h0M278.9 224.3h0M278.2 219.5h0M287.7 211.9h0M262.0 235.5h0M244.6 248.4h0M262.3 236.9h0M257.8 238.4h0M249.8 229.9h0M259.4 236.2h0M259.0 237.4h0M261.0 233.2h0M237.8 249.1h0M272.8 226.7h0M245.2 245.8h0M228.3 254.9h0M287.7 218.8h0M268.7 227.3h0M237.0 247.2h0M220.0 257.1h0M229.3 250.9h0M248.6 241.8h0M283.5 212.0h0M275.7 224.0h0M286.6 213.5h0M291.7 214.3h0M230.6 258.4h0M256.3 237.4h0M290.5 214.0h0M224.8 259.2h0M269.7 225.3h0M269.1 221.8h0M286.4 213.5h0M280.5 212.7h0M229.9 253.5h0M268.0 227.8h0M287.4 217.0h0M237.5 248.1h0M266.2 228.7h0M239.0 252.8h0M251.8 237.7h0M298.9 207.7h0M244.8 243.1h0M285.8 221.0h0M296.2 210.2h0M221.8 251.9h0M223.8 257.3h0M287.0 214.7h0M252.0 238.2h0M274.0 226.0h0M300.2 205.3h0M258.0 232.4h0M236.0 249.2h0M248.3 238.7h0M288.1 217.2h0M239.8 246.3h0M227.5 255.4h0M299.5 213.1h0M241.9 246.1h0M290.3 212.4h0M273.7 222.6h0M270.8 228.3h0M279.9 219.1h0M228.3 254.2h0M297.0 206.1h0M232.5 251.7h0M262.8 231.7h0M238.3 253.7h0M266.8 226.0h0M273.5 222.9h0M228.4 259.3h0M241.6 255.1h0M258.4 235.0h0M242.2 246.4h0M277.7 221.0h0M239.3 245.5h0M252.6 237.3h0M224.9 256.8h0M266.2 234.7h0M286.0 220.0h0M296.9 210.0h0M255.9 237.1h0M286.3 216.4h0M237.4 247.5h0M242.3 247.4h0M259.9 237.1h0M283.7 220.5h0M235.9 250.1h0M279.7 223.3h0M220.3 260.9h0M268.6 229.4h0M290.7 213.2h0M246.5 237.3h0M238.0 248.5h0M259.1 236.3h0M268.4 229.9h0M247.8 242.9h0M230.3 250.8h0M263.6 231.7h0M298.4 207.7h0M246.8 241.4h0M249.6 243.3h0M233.7 253.0h0M261.1 232.7h0M291.6 214.0h0M246.2 243.7h0M247.9 238.1h0M279.6 217.7h0M280.7 216.7h0M233.9 259.2h0M283.7 217.7h0M286.6 214.7h0M269.8 228.3h0M240.6 247.6h0M247.2 244.2h0M251.4 238.9h0M251.4 236.4h0M252.8 232.9h0M283.9 221.4h0M220.0 264.6h0M259.6 231.5h0M241.8 256.6h0M244.1 243.0h0M220.1 264.9h0M219.9 261.5h0M222.7 260.8h0M244.6 243.1h0M253.5 238.2h0M297.3 208.5h0M241.8 248.2h0M282.6 222.0h0M259.7 235.4h0M278.4 221.3h0M240.4 244.9h0M255.1 236.0h0M294.5 210.6h0M242.9 246.8h0M265.1 225.6h0M222.5 257.0h0M285.5 218.5h0M279.9 221.2h0M230.2 253.5h0M290.9 212.2h0M280.8 218.3h0M255.3 238.7h0M224.6 258.7h0M257.4 236.0h0M289.0 211.2h0M289.3 215.5h0M222.7 257.9h0M272.5 226.7h0M265.1 230.6h0M219.1 262.4h0M268.4 227.4h0M261.3 236.5h0M225.3 263.9h0M265.3 230.7h0M260.5 228.9h0M247.5 246.6h0M300.7 203.9h0M288.5 216.6h0M232.9 250.6h0M226.5 260.5h0M277.0 221.5h0M244.3 244.0h0M286.7 216.0h0M279.9 225.8h0M295.3 208.9h0M265.5 230.9h0M278.6 221.4h0M291.6 210.6h0M248.7 241.7h0M226.3 256.8h0M239.2 248.6h0M223.5 256.1h0M248.6 242.9h0M244.6 244.4h0M256.7 232.7h0M225.8 257.1h0M288.4 211.7h0M237.6 246.9h0M244.5 244.8h0M234.8 256.6h0M254.9 235.2h0M274.6 224.0h0M273.3 228.9h0M261.1 234.2h0M219.4 266.8h0M233.1 251.5h0M288.8 207.5h0M234.1 254.9h0M231.6 253.2h0M300.0 209.2h0M274.1 224.2h0M288.2 215.3h0M298.6 211.3h0M252.1 237.8h0M240.9 247.1h0M233.4 247.3h0M233.9 255.9h0M267.9 226.2h0M230.7 256.8h0M264.9 223.4h0M258.5 235.6h0M291.7 213.5h0M236.4 247.7h0M244.9 247.6h0M231.5 253.6h0M233.4 252.8h0M294.8 207.6h0M249.0 248.7h0M233.2 249.0h0M293.6 210.1h0M235.8 248.0h0M259.8 235.4h0M247.7 240.0h0M297.4 210.6h0M237.4 247.9h0M258.6 236.2h0M288.1 224.5h0M249.5 239.2h0M234.6 248.4h0M246.4 240.7h0M249.5 247.8h0M290.7 215.7h0M271.0 219.0h0M288.3 214.2h0M238.8 246.3h0M227.1 253.5h0M295.0 212.3h0M285.8 216.6h0M229.8 253.5h0M298.4 209.3h0M282.6 221.6h0M263.4 231.3h0M294.9 214.9h0M256.1 231.8h0M262.5 229.5h0M293.3 210.5h0M285.2 219.2h0M231.2 253.2h0M228.2 257.2h0M282.4 218.6h0M291.7 214.0h0M222.6 260.5h0M297.3 205.3h0M225.4 258.0h0M282.8 219.7h0M265.1 227.7h0M268.5 229.3h0M277.6 222.7h0M299.7 204.9h0M225.1 255.0h0M234.5 260.5h0M229.6 253.5h0M290.6 211.3h0M273.6 222.1h0M268.5 227.2h0M226.1 257.9h0M241.7 243.2h0M228.4 255.0h0M258.4 235.1h0M222.3 260.5h0M226.2 254.8h0M262.0 230.8h0M222.7 260.3h0M223.2 260.0h0M250.6 239.8h0M255.9 238.4h0M252.1 242.9h0M246.3 251.0h0M240.6 241.8h0M237.0 250.7h0M287.5 214.2h0M254.4 238.8h0M247.6 243.9h0M277.6 222.3h0M273.7 227.9h0M270.6 228.0h0M280.7 218.5h0M263.3 233.4h0M251.9 239.1h0M223.0 261.1h0M275.8 225.6h0M234.0 251.0h0M294.9 206.8h0M233.8 251.6h0M288.3 217.7h0M249.1 242.6h0M300.4 208.5h0M244.9 249.7h0M262.6 231.9h0M235.9 251.3h0M244.8 241.7h0M224.5 260.1h0M289.4 213.6h0M287.2 215.7h0M286.7 214.7h0M246.1 239.4h0M247.2 248.6h0M263.6 230.8h0M285.8 216.2h0M247.2 241.8h0M258.5 237.1h0M273.8 224.0h0M257.2 230.6h0M264.8 229.0h0M253.1 238.3h0M222.4 262.1h0M300.5 206.7h0M249.0 243.8h0M265.9 233.2h0M248.6 235.9h0M297.5 207.8h0M284.5 219.8h0M241.4 245.6h0M220.0 259.2h0M225.3 255.9h0M253.4 242.8h0M247.4 242.2h0M223.7 257.1h0M281.7 226.6h0M254.2 237.9h0M243.9 241.2h0M296.0 202.1h0M223.0 258.0h0M229.6 251.9h0M269.3 230.2h0M300.1 209.7h0M295.0 211.5h0M255.9 237.7h0M231.0 252.1h0M233.3 251.8h0M235.5 251.8h0M284.0 218.7h0M272.5 225.5h0M271.8 227.3h0M273.6 225.1h0M285.2 216.7h0M270.7 229.1h0M291.2 214.8h0M282.5 220.5h0M248.0 244.0h0M255.7 237.6h0M243.7 246.7h0M295.3 211.5h0M292.9 214.5h0M266.7 227.2h0M270.5 226.1h0M282.6 214.9h0M277.1 221.2h0M293.8 208.5h0M286.5 217.8h0M256.5 237.4h0M229.7 257.1h0M258.1 235.7h0M245.3 246.3h0M280.4 223.6h0M252.1 240.4h0M286.1 219.8h0M280.1 218.8h0M270.1 223.0h0M300.5 211.0h0M299.9 207.2h0M253.2 242.4h0M282.4 217.2h0M248.8 243.0h0M273.1 226.4h0M226.7 253.1h0M272.3 224.8h0M247.9 241.0h0M295.8 209.9h0M226.1 258.5h0M274.2 221.9h0M232.6 251.8h0M252.1 236.1h0M279.1 219.4h0M231.0 254.1h0M289.9 215.6h0M256.2 240.3h0M247.8 243.1h0M250.9 241.7h0M246.7 240.6h0M250.7 237.6h0M251.7 236.4h0M236.1 244.9h0M238.1 246.0h0M253.8 238.2h0M269.4 233.3h0M266.1 229.3h0M293.8 213.7h0M300.3 202.8h0M297.9 211.2h0M293.8 215.3h0M220.0 255.7h0M276.3 214.3h0M241.4 249.8h0M268.5 230.3h0M299.9 210.1h0M271.1 224.3h0M254.7 240.1h0M248.2 247.0h0M298.4 208.5h0M281.8 219.3h0M259.2 236.8h0M264.1 226.6h0M296.6 213.2h0M227.0 252.6h0M254.1 239.7h0M265.4 233.3h0M273.0 220.2h0M265.1 229.4h0M243.5 247.4h0M241.2 248.2h0M259.6 236.2h0M237.6 244.9h0M223.1 256.6h0M257.8 232.0h0M265.6 232.6h0M274.9 224.5h0M300.7 207.1h0M239.6 250.3h0M255.0 236.0h0M263.3 229.4h0M275.1 223.3h0M228.0 258.6h0M241.5 242.0h0M226.1 253.8h0M247.5 245.4h0M244.9 248.1h0M269.9 229.4h0M264.9 228.7h0M237.3 249.3h0M255.9 239.7h0M253.7 237.0h0M297.9 207.4h0M246.5 244.5h0M282.4 222.2h0M246.2 243.5h0M263.8 235.0h0M284.8 217.6h0M223.7 261.3h0M234.7 249.5h0M282.1 219.2h0M274.4 226.4h0M278.8 225.6h0M280.0 224.3h0M257.6 235.0h0M252.7 237.6h0M244.8 244.3h0M282.1 218.1h0M299.6 208.7h0M246.6 246.4h0M264.1 230.3h0M240.1 248.6h0M227.5 253.6h0M241.0 247.6h0M253.7 239.3h0M274.2 217.0h0M290.9 218.9h0M221.9 263.6h0M231.4 256.2h0M291.4 212.7h0M241.2 245.9h0M223.6 258.7h0M269.9 225.7h0M294.2 213.3h0M244.1 247.0h0M277.5 225.8h0M264.8 230.7h0M294.8 211.5h0M290.7 215.8h0M257.8 238.8h0M230.3 252.2h0M300.7 208.7h0M265.0 231.8h0M255.1 235.7h0M283.7 213.4h0M280.4 223.1h0M234.5 253.2h0M250.1 239.8h0M270.1 229.6h0M278.8 222.0h0M236.1 251.5h0M289.5 211.2h0M256.5 244.6h0M284.8 220.6h0M275.4 222.4h0M255.9 236.8h0M228.9 256.1h0M246.5 242.2h0M272.2 226.8h0M257.9 232.6h0M255.2 238.7h0M246.2 242.8h0M291.0 216.5h0M279.2 214.6h0M246.8 245.7h0M232.5 252.6h0M261.5 232.9h0M269.8 226.2h0M277.4 224.8h0M290.6 213.4h0M234.0 246.7h0M228.5 254.6h0M295.2 211.0h0M226.9 253.6h0M230.3 251.8h0M245.1 244.9h0M299.6 207.6h0M292.2 212.6h0M280.1 219.3h0M234.9 251.6h0M239.9 247.0h0M265.5 231.4h0M223.5 261.0h0M221.8 261.8h0M248.8 245.1h0M269.3 225.6h0M221.6 263.8h0M229.9 253.4h0M239.0 249.1h0M265.7 231.7h0M226.8 253.0h0M232.9 255.6h0M258.0 236.0h0M266.1 229.9h0M234.6 250.1h0M276.3 224.6h0M261.8 233.1h0M289.2 215.3h0M239.5 249.4h0M252.1 239.1h0M265.5 234.1h0M275.7 227.4h0M285.5 214.4h0M278.3 214.2h0M297.1 207.0h0M230.0 261.2h0M267.8 235.3h0M297.7 211.7h0M269.0 228.7h0M245.1 246.5h0M265.2 232.7h0M265.9 226.5h0M293.4 210.4h0M287.9 216.0h0M253.7 237.7h0M293.0 211.9h0M263.9 232.5h0M294.9 207.0h0M279.1 219.7h0M222.4 266.3h0M285.0 217.4h0M226.2 257.2h0M282.0 221.1h0M221.8 261.4h0M287.2 219.1h0M298.7 208.7h0M279.6 218.7h0M249.2 240.5h0M273.1 225.3h0M292.3 209.8h0M264.8 226.6h0M242.8 240.4h0M254.8 235.9h0M273.2 220.3h0M259.1 234.8h0M291.3 213.1h0M277.4 224.1h0M253.0 233.7h0M260.4 229.7h0M246.5 245.2h0M300.7 204.8h0M277.3 219.1h0M277.8 225.2h0M282.2 219.9h0M272.4 228.7h0M240.1 243.8h0M249.5 233.4h0M265.1 231.4h0M279.8 222.7h0M284.3 218.0h0M290.5 216.0h0M235.6 250.5h0M291.3 213.0h0M277.4 222.9h0M294.3 210.7h0M274.3 223.4h0M255.8 234.6h0M298.3 211.5h0M256.8 234.2h0M267.6 229.3h0M257.1 241.0h0M263.8 229.5h0M291.7 214.6h0M258.7 234.5h0M240.1 246.0h0M247.5 240.3h0M256.4 232.5h0M223.2 256.3h0M283.3 219.3h0M279.2 217.3h0M259.9 231.3h0M222.7 258.1h0M255.1 240.1h0M261.2 231.4h0M228.6 260.3h0M282.5 220.5h0M247.9 242.2h0M237.0 248.6h0M262.9 230.5h0M250.8 244.9h0M242.1 249.6h0M266.5 233.5h0M231.3 255.3h0M234.7 250.3h0M266.0 232.7h0M218.8 261.8h0M265.7 235.0h0M220.2 261.5h0M261.1 239.7h0M255.4 237.5h0M299.5 206.7h0M222.4 262.5h0M252.5 235.2h0M287.4 210.9h0M279.7 222.6h0M223.9 259.6h0M299.6 208.6h0M257.6 238.3h0M297.9 207.2h0M254.9 238.5h0M242.7 246.0h0M255.4 239.3h0M298.1 209.5h0M272.0 227.1h0M239.0 247.6h0M229.1 253.2h0M297.8 209.4h0M283.3 219.2h0M258.8 232.7h0M220.9 261.3h0M292.5 214.0h0M282.4 220.6h0M246.9 240.8h0M290.9 214.3h0M249.5 243.0h0M299.6 206.5h0M261.1 232.9h0M240.2 250.0h0M278.3 227.0h0M223.4 260.1h0M281.6 220.9h0M290.4 218.2h0M228.3 254.5h0M263.1 231.6h0M265.3 232.2h0M219.7 262.6h0M232.3 253.1h0M266.7 234.2h0M235.3 247.6h0M226.1 259.8h0M285.4 221.8h0M279.7 223.8h0M229.6 256.8h0M235.0 254.4h0M248.2 239.9h0M285.5 219.1h0M278.0 219.4h0M221.7 262.3h0M246.6 241.6h0M239.8 252.1h0M250.5 242.5h0M247.1 251.3h0M261.2 232.3h0M239.2 248.6h0M265.2 234.6h0M247.7 244.4h0M244.0 245.4h0M234.4 253.4h0M246.6 243.6h0M265.7 233.2h0M242.1 247.7h0M280.4 219.7h0M274.9 226.3h0M266.5 232.2h0M284.1 215.8h0M297.4 206.8h0M232.5 250.0h0M222.0 258.9h0M285.4 215.1h0M231.9 253.2h0M227.5 258.8h0M235.7 247.5h0M234.3 250.6h0M290.2 215.5h0M295.6 206.1h0M245.8 240.7h0M246.5 240.1h0M298.8 207.9h0M281.3 218.7h0M235.8 247.9h0M294.0 214.2h0M298.6 205.2h0M229.3 258.8h0M223.4 259.5h0M263.7 227.0h0M219.1 262.4h0M289.8 211.3h0M269.7 227.6h0M266.8 235.0h0M255.3 241.3h0M235.4 248.1h0M248.5 238.7h0M231.4 255.5h0M237.5 247.5h0M285.4 221.2h0M236.0 249.7h0M252.6 242.5h0M270.6 225.3h0M297.7 209.8h0M252.6 241.0h0M231.6 254.0h0M256.3 239.0h0M276.8 219.1h0M271.9 227.6h0M282.4 221.7h0M280.1 221.9h0M277.0 226.0h0M227.4 257.7h0M220.9 264.8h0M246.5 243.4h0M297.0 209.8h0M228.8 256.1h0M274.4 224.5h0M257.9 231.9h0M244.8 245.6h0M289.4 213.2h0M236.9 249.5h0M238.6 250.0h0M255.9 236.7h0M260.2 235.0h0M221.4 252.2h0M269.5 226.0h0M291.9 214.6h0M257.0 237.3h0M280.2 224.4h0M288.8 218.7h0M255.1 237.6h0M268.8 227.6h0M231.1 250.9h0M279.0 224.6h0M289.0 214.5h0M261.2 235.0h0M220.1 264.9h0M289.9 212.0h0M254.7 237.5h0M249.9 241.1h0M220.6 259.9h0M295.1 208.6h0M273.6 221.9h0M264.0 231.0h0M268.1 229.3h0M235.9 250.2h0M254.1 236.9h0M224.7 261.3h0M278.7 222.4h0M265.3 230.8h0M282.5 220.3h0M289.1 215.6h0M294.0 212.6h0M220.7 260.0h0M291.2 212.7h0M287.8 217.8h0M285.7 222.9h0M233.2 250.0h0M255.7 239.3h0M238.5 249.3h0M253.1 241.2h0M240.0 243.0h0M222.4 256.9h0M231.3 252.0h0M283.5 219.6h0M228.7 256.5h0M221.2 259.9h0M284.0 218.6h0M230.3 258.9h0M253.4 237.9h0M261.0 238.7h0M276.1 225.2h0M298.3 209.3h0M272.8 228.2h0M225.6 260.2h0M255.3 239.9h0M252.7 237.5h0M274.5 224.0h0M265.8 229.7h0M223.2 258.0h0M250.6 241.4h0M275.5 224.0h0M235.0 252.5h0M299.8 210.1h0M282.2 223.2h0M234.5 251.7h0M239.4 249.8h0M225.7 259.2h0M239.9 246.4h0M287.8 215.3h0M254.8 242.7h0M224.6 257.4h0M228.2 259.7h0M281.7 218.3h0M263.2 230.9h0M259.7 234.1h0M262.8 236.4h0M265.9 226.2h0M295.5 212.2h0M290.5 209.6h0M299.2 201.8h0M283.0 219.4h0M271.5 232.1h0M262.7 235.4h0M297.4 214.2h0M291.7 212.5h0M263.7 229.8h0M239.6 248.2h0M260.0 232.7h0M250.6 241.7h0M271.0 228.7h0M237.9 249.9h0M273.7 223.1h0M232.6 248.5h0M249.8 240.6h0M263.9 233.8h0M258.5 236.3h0M280.5 222.3h0M258.0 235.1h0M266.8 227.5h0M240.8 248.6h0M275.3 227.5h0M297.3 207.6h0M220.0 265.2h0M277.5 221.6h0M232.7 253.7h0M277.0 223.4h0M263.5 233.7h0M277.0 225.5h0M232.6 250.3h0M282.5 223.0h0M280.8 217.9h0M247.8 245.8h0M241.4 247.6h0M281.1 219.5h0M261.8 232.1h0M278.4 217.3h0M264.8 231.9h0M225.4 259.1h0M286.2 211.4h0M283.7 216.1h0M292.2 212.6h0M239.7 254.0h0M224.0 262.6h0M227.3 255.1h0M295.9 215.3h0M273.4 224.9h0M254.9 240.2h0M285.1 219.5h0M220.5 264.9h0M258.5 231.5h0M291.8 212.7h0M270.9 227.2h0M290.2 213.2h0M290.6 212.1h0M241.2 243.3h0M257.7 235.6h0M299.6 204.9h0M233.4 254.6h0M278.7 225.6h0M236.1 248.5h0M257.5 238.4h0M266.9 232.6h0M228.3 256.2h0M293.4 211.0h0M267.8 230.0h0M290.9 213.3h0M287.2 219.6h0M282.1 224.5h0M242.5 245.5h0M221.8 259.7h0M235.1 251.3h0M246.7 237.9h0M289.5 213.4h0M247.5 238.3h0M278.3 219.7h0M273.0 225.6h0M260.0 233.5h0M249.5 243.9h0M264.9 229.8h0M231.9 255.2h0M228.4 255.3h0M293.6 208.2h0M282.1 215.4h0M271.1 223.8h0M258.1 236.8h0M224.4 256.3h0M267.4 221.7h0M228.7 253.1h0M266.7 230.2h0M264.9 232.7h0M262.0 231.4h0M292.8 208.7h0M246.0 241.9h0M286.1 218.3h0M241.9 248.7h0M222.4 261.1h0M233.6 249.4h0M298.9 208.5h0M317.4 196.3h0M306.0 203.0h0M319.1 194.6h0M308.1 201.0h0M308.6 199.8h0M308.4 202.3h0M315.4 201.7h0M308.6 201.3h0M316.9 195.1h0M318.7 196.1h0M308.2 201.0h0M305.7 202.9h0M306.7 199.8h0M311.1 198.1h0M319.5 195.0h0M312.1 196.0h0M307.4 196.1h0M310.5 202.7h0M314.0 195.7h0M306.6 206.8h0M312.1 202.0h0M317.8 195.7h0M319.2 194.6h0M315.8 200.5h0M319.6 194.2h0M306.6 205.7h0M309.4 201.9h0M312.1 200.7h0M307.5 200.8h0M318.6 195.6h0M301.9 204.5h0M305.6 193.5h0M311.1 196.7h0M306.3 200.6h0M313.3 198.2h0M311.2 199.6h0M304.8 202.9h0M312.1 198.1h0M306.7 200.8h0M316.3 196.5h0M311.8 203.4h0M318.4 195.1h0M311.1 200.4h0M308.3 202.5h0M314.6 200.3h0M314.5 197.4h0M309.1 199.3h0M319.2 194.9h0M303.9 204.7h0M314.0 199.3h0M318.7 194.9h0M305.8 203.3h0M317.2 196.1h0M304.3 208.1h0M315.0 198.5h0M312.1 199.3h0M315.2 191.4h0M300.8 203.3h0M301.0 204.3h0M314.8 197.5h0M316.2 197.9h0M308.6 200.7h0M305.3 203.1h0M314.9 198.7h0M313.5 197.4h0M306.2 207.8h0M306.3 200.9h0M320.0 194.3h0M306.5 203.9h0M317.9 195.4h0M314.7 196.7h0M305.9 201.3h0M308.2 200.1h0M310.7 193.1h0M319.8 194.8h0M309.9 202.9h0M318.2 196.6h0M304.7 206.4h0M310.4 199.1h0M318.0 197.0h0M309.8 205.3h0M303.9 203.5h0M301.8 209.3h0M305.9 205.0h0M314.4 198.3h0M312.9 199.5h0M312.1 196.9h0M312.1 203.1h0M308.2 204.8h0M319.7 194.8h0M301.6 205.6h0M320.0 194.3h0M302.5 206.2h0M311.2 198.5h0M313.8 195.8h0M316.2 199.1h0M303.0 202.6h0M310.2 201.7h0M316.1 193.7h0M318.4 195.6h0M305.7 203.9h0M309.8 201.6h0M306.7 204.4h0M303.9 206.1h0M317.6 195.8h0M301.1 207.1h0M305.6 199.8h0M309.5 197.8h0M313.9 196.9h0M301.9 211.7h0M315.2 197.3h0M308.1 201.3h0M320.0 194.4h0M311.8 197.9h0M309.2 202.7h0M317.0 197.8h0M315.3 191.6h0M315.0 203.2h0M315.1 201.1h0M307.7 201.2h0M311.7 196.7h0M309.8 200.5h0M316.0 200.5h0M308.0 202.1h0M306.7 199.9h0M311.6 198.7h0M312.5 204.6h0M320.0 194.4h0M304.6 203.5h0M312.7 196.6h0M320.2 194.9h0M312.4 199.9h0M316.2 196.1h0M310.3 199.9h0M310.2 204.2h0M322.8 192.5h0M323.6 191.6h0M324.5 192.9h0M326.8 190.3h0M321.7 193.1h0M324.4 191.4h0M324.7 191.6h0M323.6 191.5h0M321.9 193.4h0M323.8 191.5h0M324.9 191.1h0M324.8 192.0h0M325.7 190.4h0M322.4 193.0h0M326.3 189.8h0M323.7 191.6h0M325.7 191.7h0M323.9 192.4h0M322.3 192.8h0M322.6 192.5h0M325.0 190.6h0M324.7 190.8h0M325.2 190.5h0M323.9 191.6h0M324.4 191.8h0M324.4 191.2h0M326.1 190.0h0M322.9 192.1h0M323.1 192.1h0M326.8 189.4h0M323.5 192.9h0M322.8 192.4h0M325.3 192.2h0M323.0 192.1h0M326.9 191.1h0M321.1 194.0h0M328.3 188.6h0M326.3 189.8h0M323.9 191.4h0M321.5 193.0h0M322.6 192.9h0M322.6 192.3h0M322.3 193.1h0M326.6 190.1h0M321.8 193.0h0M321.1 194.3h0M324.0 191.4h0M329.7 187.7h0M324.9 191.2h0M325.8 190.0h0M327.3 189.5h0M326.2 191.3h0M329.5 188.2h0M321.5 193.1h0M322.7 192.4h0M327.9 189.0h0M323.5 192.1h0M324.9 191.1h0M325.9 190.0h0M320.6 194.0h0M325.3 190.9h0M324.3 191.4h0M325.6 190.6h0M324.3 191.6h0M323.5 193.3h0M321.7 194.4h0M325.2 191.0h0M326.6 189.5h0M324.6 191.5h0M325.7 190.3h0M326.6 189.7h0M324.3 191.2h0M324.3 191.4h0M326.6 189.6h0M326.7 189.6h0M322.5 192.6h0M328.4 188.4h0M322.4 192.3h0M325.6 190.5h0M325.2 193.8h0M325.8 191.9h0M325.8 190.5h0M327.2 189.4h0M323.0 192.2h0M320.9 193.5h0M322.2 192.7h0M321.9 192.9h0M329.1 187.8h0M327.0 191.0h0M325.2 190.6h0M324.6 190.8h0M325.0 190.7h0M326.9 189.8h0M322.7 192.2h0M321.0 194.1h0M321.1 193.3h0M325.7 190.8h0M322.4 192.3h0M323.4 192.3h0M325.3 190.8h0M322.0 192.8h0M325.8 191.3h0M323.0 192.1h0M324.1 192.4h0M319.3 195.1h0M321.3 193.9h0M326.7 189.7h0M323.8 191.4h0M322.7 192.9h0M322.8 192.7h0M324.7 191.2h0M326.2 190.4h0M320.8 194.2h0M326.8 190.7h0M326.2 190.6h0M325.2 190.8h0M324.8 191.1h0M324.9 190.9h0M324.7 192.0h0M327.7 188.8h0M327.7 189.7h0M324.9 190.9h0M321.6 193.7h0M329.1 188.1h0M324.4 191.4h0M324.8 191.3h0M319.1 194.9h0M327.9 188.7h0M325.0 190.7h0M325.5 190.6h0M323.6 191.9h0M324.1 192.4h0M323.1 192.9h0M321.5 193.0h0M327.8 189.3h0M326.0 190.4h0M320.5 195.0h0M324.3 191.1h0M324.8 191.2h0M323.2 191.9h0M324.7 190.8h0M323.1 192.0h0M322.1 192.7h0M321.6 193.3h0M324.4 191.4h0M324.3 191.9h0M329.8 187.8h0M343.1 178.5h0M334.8 184.0h0M350.6 173.4h0M338.9 181.7h0M337.7 182.1h0M345.0 178.1h0M339.5 181.5h0M345.0 177.2h0M354.8 170.6h0M347.4 175.8h0M332.8 185.9h0M344.0 178.5h0M335.3 183.9h0M351.7 173.0h0M333.1 185.3h0M351.7 172.8h0M345.4 178.4h0M350.7 173.5h0M332.8 185.4h0M349.0 175.2h0M352.2 172.7h0M338.0 182.4h0M346.4 176.2h0M334.0 185.1h0" stroke="#ffa500" stroke-width="1.8" stroke-linecap="square" fill="none"/>
<path d="M213.8 264.3h0M213.1 265.0h0M213.4 265.3h0M213.0 264.5h0M213.0 261.5h0M213.1 264.1h0M213.3 265.1h0M213.4 263.1h0M213.0 264.4h0M212.9 263.4h0M213.6 260.1h0M213.2 258.2h0M213.1 264.9h0M213.6 264.5h0M213.8 265.2h0M213.6 264.2h0M213.2 264.2h0M213.1 261.0h0M214.0 261.6h0M213.4 262.2h0M213.5 265.4h0M213.9 260.7h0M213.1 263.7h0M213.2 261.4h0M213.3 261.9h0M213.3 262.9h0M213.3 254.8h0M213.5 258.5h0M214.4 265.2h0M213.6 258.4h0M214.0 263.5h0M213.7 248.8h0M213.7 261.5h0M213.3 263.8h0M213.5 265.9h0M212.9 259.4h0M213.9 243.1h0M214.1 260.8h0M212.9 263.7h0M213.6 255.6h0M213.2 264.9h0M213.3 264.6h0M213.0 264.2h0M213.6 261.4h0M214.0 259.5h0M213.5 257.1h0M213.1 264.0h0M213.5 265.2h0M213.3 262.4h0M213.1 265.8h0M213.4 263.4h0M213.2 262.6h0M213.3 262.2h0M213.1 264.2h0M213.5 263.9h0M214.1 265.1h0M213.2 262.9h0M213.1 263.7h0M213.9 263.8h0M213.5 261.4h0M213.3 259.9h0M213.1 259.7h0M213.0 265.0h0M213.1 261.4h0M213.1 260.9h0M214.2 263.9h0M213.3 260.5h0M213.6 263.3h0M213.4 263.8h0M213.8 264.1h0M213.1 265.2h0M213.6 265.8h0M213.1 259.9h0M213.0 265.2h0M213.6 248.5h0M213.4 264.8h0M213.1 265.5h0M213.3 262.4h0M213.2 260.7h0M213.4 264.9h0M213.9 258.0h0M213.4 258.7h0M213.7 260.7h0M213.9 260.6h0M213.4 265.4h0M213.3 264.4h0M213.9 265.7h0M213.4 261.3h0M213.7 242.8h0M213.8 260.0h0M213.0 264.0h0M214.7 265.9h0M213.5 263.3h0M213.1 258.3h0M213.9 262.5h0M213.7 264.1h0M213.3 264.0h0M213.2 262.0h0M214.1 264.5h0M213.6 262.9h0M213.5 258.0h0M213.7 264.7h0M213.2 259.3h0M213.8 263.8h0M235.0 247.6h0M218.0 268.2h0M216.7 263.8h0M225.3 245.8h0M218.0 261.9h0M224.5 259.2h0M213.7 266.4h0M229.0 256.6h0M221.2 260.3h0M214.9 267.4h0M235.6 249.4h0M219.5 262.1h0M231.4 253.2h0M213.5 258.5h0M243.2 246.3h0M221.8 261.8h0M232.5 255.0h0M225.2 260.7h0M222.4 261.6h0M213.6 266.4h0M213.6 267.0h0M215.3 259.7h0M241.5 246.3h0M214.2 265.2h0M224.8 256.3h0M216.9 257.9h0M224.4 257.5h0M231.4 251.2h0M213.8 266.0h0M226.1 257.5h0M225.3 264.8h0M217.7 263.2h0M227.6 255.9h0M221.9 261.6h0M233.8 251.6h0M221.9 268.5h0M218.3 261.5h0M213.5 266.3h0M226.2 256.9h0M224.3 233.9h0M219.2 262.0h0M219.0 260.7h0M228.6 255.0h0M216.5 260.9h0M214.9 266.1h0M228.8 255.3h0M219.7 263.4h0M219.0 263.1h0M232.1 252.7h0M219.0 258.3h0M222.9 241.8h0M214.2 263.9h0M217.4 250.0h0M213.7 255.6h0M219.7 258.9h0M216.4 253.9h0M213.3 268.4h0M217.4 262.3h0M220.9 261.1h0M213.3 264.0h0M224.0 269.5h0M228.8 255.8h0M222.6 259.5h0M224.2 268.4h0M213.3 264.5h0M244.8 243.9h0M236.4 227.5h0M220.6 260.0h0M213.4 263.9h0M216.7 261.1h0M229.3 253.5h0M216.8 259.8h0M217.2 263.4h0M224.3 257.4h0M230.5 254.7h0M213.3 265.5h0M229.3 254.2h0M213.3 264.3h0M228.6 249.3h0M217.6 266.0h0M221.0 262.4h0M214.4 265.0h0M214.6 263.9h0M222.9 259.2h0M215.3 264.7h0M215.1 262.3h0M216.9 261.7h0M216.8 263.5h0M231.1 253.9h0M220.9 259.7h0M220.8 262.4h0M215.1 263.4h0M221.8 261.2h0M227.7 254.6h0M214.8 264.2h0M225.8 259.2h0M220.5 260.6h0M227.0 257.9h0M225.3 238.8h0M213.8 264.7h0M222.7 256.3h0M218.5 263.1h0M229.0 255.8h0M225.8 256.6h0M240.8 248.0h0M223.2 257.6h0M217.7 263.2h0M235.6 251.0h0M223.1 260.0h0M217.4 262.4h0M231.5 254.1h0M220.0 264.5h0M239.5 244.8h0M215.3 262.8h0M236.2 251.2h0M219.0 263.3h0M217.5 261.6h0M215.2 265.1h0M240.6 249.8h0M232.9 254.9h0M219.5 259.5h0M234.7 251.4h0M214.9 264.4h0M227.1 255.8h0M213.7 265.1h0M213.4 265.5h0M219.6 262.7h0M214.3 266.5h0M230.2 253.5h0M215.1 263.2h0M216.5 252.5h0M214.1 266.0h0M216.8 257.7h0M220.5 263.6h0M246.0 244.6h0M224.0 258.7h0M223.9 261.4h0M219.7 259.2h0M238.9 250.5h0M253.9 233.2h0M218.7 261.2h0M214.2 237.7h0M238.9 247.9h0M214.6 266.1h0M237.0 251.7h0M224.1 259.9h0M247.1 242.3h0M216.5 263.1h0M225.7 255.9h0M214.1 265.1h0M214.3 264.0h0M219.3 262.5h0M213.9 262.7h0M240.3 248.9h0M227.7 240.1h0M213.5 267.0h0M225.4 258.5h0M242.8 248.4h0M226.9 257.6h0M219.9 262.0h0M221.9 260.4h0M213.3 266.7h0M226.0 257.3h0M219.4 260.3h0M225.0 257.0h0M213.9 264.0h0M225.9 253.8h0M287.4 215.6h0M287.6 215.4h0M273.0 228.4h0M243.6 245.9h0M255.5 236.8h0M283.0 216.3h0M254.9 236.6h0M274.7 233.8h0M269.1 230.3h0M220.6 243.4h0M241.0 249.1h0M234.5 251.4h0M284.9 218.6h0M232.4 252.4h0M253.2 236.7h0M265.3 231.5h0M253.5 236.3h0M259.6 235.5h0M278.3 221.6h0M295.0 210.6h0M296.0 209.3h0M272.2 224.7h0M229.0 253.3h0M259.6 233.9h0M271.0 226.1h0M269.7 227.6h0M225.6 256.0h0M241.3 246.1h0M269.3 227.7h0M292.3 211.4h0M292.8 211.2h0M226.7 256.4h0M242.4 245.7h0M240.0 248.0h0M268.8 230.1h0M218.9 263.3h0M297.6 209.4h0M221.1 259.9h0M266.1 231.8h0M254.9 237.6h0M269.5 227.3h0M280.0 221.1h0M239.6 246.5h0M241.8 246.7h0M244.0 245.5h0M259.1 234.3h0M295.2 210.0h0M270.0 225.9h0M293.9 210.0h0M281.6 217.0h0M296.3 211.8h0M240.0 248.5h0M233.5 250.8h0M239.6 249.3h0M276.5 223.7h0M239.2 248.4h0M273.3 224.6h0M250.3 243.1h0M225.5 257.5h0M248.2 242.5h0M279.2 220.4h0M282.7 212.8h0M257.7 233.7h0M224.8 255.5h0M293.1 211.8h0M220.8 265.0h0M221.7 253.0h0M296.7 210.6h0M292.5 207.0h0M248.1 240.1h0M275.3 223.7h0M241.7 247.0h0M239.1 245.9h0M298.2 208.9h0M243.7 247.7h0M264.7 230.9h0M277.3 224.5h0M285.5 218.2h0M277.0 222.6h0M279.3 221.5h0M270.4 226.0h0M278.9 222.3h0M264.7 230.6h0M246.6 260.4h0M280.6 218.2h0M245.7 243.2h0M236.3 250.6h0M274.8 221.0h0M245.7 245.2h0M219.9 263.0h0M222.2 260.8h0M231.4 252.7h0M293.1 211.5h0M255.5 237.4h0M289.9 220.0h0M241.1 247.8h0M298.3 209.3h0M271.7 226.1h0M259.3 235.4h0M274.3 224.9h0M250.8 236.5h0M247.6 243.1h0M245.0 247.1h0M243.8 245.2h0M246.9 241.8h0M291.0 212.1h0M227.4 242.2h0M278.9 220.5h0M298.6 206.9h0M268.1 226.9h0M299.0 205.3h0M240.5 248.1h0M260.6 232.4h0M250.3 240.6h0M233.6 253.6h0M284.0 218.6h0M269.0 229.1h0M259.5 235.4h0M238.7 247.5h0M271.5 226.6h0M241.2 252.3h0M255.5 237.8h0M251.8 231.7h0M234.9 251.2h0M221.9 258.7h0M289.5 212.8h0M262.7 232.4h0M252.2 240.6h0M282.8 217.9h0M241.3 247.1h0M252.1 239.3h0M255.3 243.6h0M260.6 225.5h0M276.8 221.1h0M265.2 230.0h0M290.4 213.9h0M219.8 260.7h0M229.1 256.3h0M249.6 231.8h0M234.9 253.3h0M246.8 257.0h0M249.3 240.7h0M298.0 208.0h0M292.5 212.7h0M229.6 255.4h0M224.7 256.1h0M300.5 206.9h0M292.1 214.6h0M277.2 222.5h0M229.1 255.5h0M222.3 259.0h0M283.9 233.6h0M253.4 235.7h0M279.4 223.1h0M285.1 216.7h0M278.7 219.6h0M222.4 261.0h0M292.1 208.2h0M294.2 211.8h0M238.7 249.5h0M252.1 241.1h0M220.6 259.2h0M255.6 235.7h0M291.2 229.3h0M281.9 217.8h0M233.2 252.1h0M292.3 213.1h0M267.3 230.8h0M274.8 224.6h0M296.9 207.9h0M299.2 205.7h0M240.3 247.1h0M235.2 249.6h0M271.3 223.9h0M295.3 210.0h0M221.1 260.5h0M285.7 215.8h0M267.8 227.2h0M259.6 234.6h0M259.4 234.0h0M238.1 250.1h0M232.7 251.8h0M230.4 253.2h0M276.3 221.9h0M240.5 245.4h0M297.7 208.7h0M244.0 244.3h0M228.6 255.2h0M253.1 241.5h0M242.8 244.4h0M221.6 258.6h0M239.1 251.9h0M295.1 208.3h0M264.7 229.8h0M236.5 250.9h0M297.5 211.9h0M277.6 226.6h0M269.2 227.9h0M288.8 215.6h0M233.8 251.5h0M300.7 216.9h0M264.3 231.0h0M223.5 260.4h0M296.0 206.0h0M257.6 235.1h0M249.0 245.2h0M273.1 227.3h0M279.3 220.9h0M232.6 253.3h0M294.4 211.6h0M253.7 237.5h0M228.2 254.9h0M298.2 206.9h0M260.9 233.4h0M238.7 249.4h0M233.3 254.8h0M289.2 216.6h0M281.6 222.6h0M225.7 256.8h0M253.1 233.0h0M284.2 217.3h0M229.7 255.9h0M247.8 240.9h0M270.5 229.5h0M228.0 247.0h0M285.8 215.4h0M255.5 238.8h0M248.6 239.7h0M251.7 241.6h0M297.7 227.7h0M247.5 243.7h0M226.1 258.4h0M255.6 228.5h0M298.5 208.6h0M234.6 249.7h0M298.2 209.9h0M272.5 227.1h0M232.1 254.5h0M267.2 241.3h0M238.1 249.5h0M291.0 213.5h0M230.0 256.0h0M244.0 245.3h0M228.3 229.2h0M226.7 254.6h0M298.0 206.9h0M257.4 271.2h0M256.5 237.5h0M220.1 256.9h0M260.3 236.4h0M296.5 210.4h0M242.9 245.1h0M275.7 225.5h0M222.5 261.4h0M290.3 216.0h0M258.6 251.3h0M225.5 257.4h0M265.3 231.4h0M227.2 259.4h0M220.0 258.5h0M274.7 213.5h0M252.5 240.0h0M243.3 243.5h0M281.4 218.9h0M286.5 218.0h0M260.8 233.6h0M290.7 216.1h0M269.9 227.7h0M286.5 218.0h0M256.2 227.2h0M253.6 237.9h0M275.7 223.8h0M289.0 213.4h0M286.0 216.5h0M273.2 223.8h0M236.8 252.1h0M233.1 254.2h0M237.3 244.2h0M294.3 219.6h0M241.8 247.2h0M288.1 215.2h0M286.4 215.0h0M266.9 229.2h0M294.8 208.3h0M244.5 247.6h0M251.0 232.9h0M274.7 224.0h0M236.6 239.3h0M291.0 213.6h0M244.9 242.3h0M261.3 230.6h0M240.5 247.3h0M263.6 233.2h0M263.0 233.0h0M299.7 207.6h0M221.9 258.4h0M227.2 255.6h0M300.3 206.2h0M296.9 209.7h0M220.8 260.5h0M280.6 219.2h0M254.6 235.5h0M262.0 233.6h0M285.1 217.1h0M296.5 209.7h0M249.0 244.2h0M275.1 225.7h0M291.6 210.7h0M271.5 227.7h0M254.1 238.4h0M261.1 235.7h0M249.0 238.1h0M292.2 209.9h0M283.4 219.7h0M246.7 243.4h0M223.7 257.9h0M239.6 245.9h0M271.6 227.2h0M250.2 238.8h0M266.0 228.7h0M273.4 222.0h0M288.6 216.9h0M221.7 260.5h0M286.8 209.7h0M235.9 249.4h0M225.1 260.4h0M218.9 254.3h0M299.4 211.5h0M262.9 233.3h0M284.7 216.7h0M254.3 237.5h0M223.6 256.9h0M258.1 235.2h0M259.5 235.7h0M258.5 234.0h0M243.3 244.7h0M246.2 257.0h0M294.7 208.0h0M232.7 246.2h0M264.2 230.7h0M222.8 258.7h0M234.4 252.0h0M234.1 253.1h0M253.7 240.2h0M234.1 254.1h0M294.3 211.5h0M276.5 222.9h0M282.4 218.9h0M253.5 241.5h0M268.0 228.0h0M237.1 248.8h0M233.1 253.8h0M257.1 235.6h0M299.2 209.3h0M297.8 210.6h0M258.0 235.8h0M298.6 207.6h0M228.7 256.3h0M296.4 210.8h0M278.1 222.7h0M295.0 210.7h0M269.8 223.5h0M283.6 215.6h0M258.6 236.5h0M226.4 270.9h0M277.1 221.7h0M224.0 256.9h0M227.7 255.8h0M300.0 202.9h0M250.4 240.3h0M285.3 216.4h0M260.7 234.5h0M247.3 254.5h0M289.8 213.9h0M296.3 211.4h0M289.4 212.4h0M290.0 202.8h0M230.6 253.8h0M300.4 208.2h0M293.1 213.1h0M236.9 250.3h0M284.2 218.8h0M243.4 244.6h0M225.2 257.6h0M298.8 209.3h0M257.0 231.8h0M254.2 240.6h0M227.9 256.9h0M219.3 256.4h0M243.3 244.1h0M232.5 251.7h0M229.3 255.0h0M277.8 242.8h0M272.1 230.3h0M274.8 224.9h0M244.4 244.0h0M280.1 220.6h0M272.1 226.0h0M256.5 253.7h0M248.1 243.2h0M283.1 219.6h0M269.2 227.4h0M300.7 205.0h0M279.3 220.4h0M242.4 244.1h0M281.5 220.8h0M281.7 219.3h0M290.6 212.6h0M246.1 244.8h0M243.4 236.2h0M260.1 234.4h0M233.8 253.9h0M225.9 260.5h0M253.8 239.4h0M265.1 232.1h0M250.2 243.1h0M266.7 230.0h0M272.2 225.0h0M254.0 238.4h0M291.7 214.4h0M271.2 226.0h0M235.0 250.1h0M291.5 221.2h0M263.3 232.2h0M245.2 244.5h0M229.1 255.8h0M289.6 217.6h0M259.0 235.9h0M293.7 207.2h0M277.3 221.6h0M292.3 213.3h0M255.1 241.9h0M228.8 246.1h0M293.1 211.1h0M235.2 250.2h0M285.5 216.9h0M293.0 212.5h0M224.7 257.4h0M276.6 223.4h0M297.4 208.1h0M230.8 251.0h0M254.6 238.1h0M272.4 225.8h0M251.1 240.9h0M238.1 248.9h0M290.2 216.4h0M224.5 261.1h0M235.1 250.3h0M254.6 236.7h0M294.9 212.9h0M267.7 229.6h0M297.3 208.9h0M233.8 253.5h0M230.6 253.5h0M238.5 249.2h0M276.4 224.4h0M242.8 265.3h0M226.5 258.0h0M288.4 215.8h0M277.1 241.6h0M250.8 237.9h0M231.4 254.7h0M299.1 208.4h0M261.1 234.0h0M233.0 255.4h0M296.8 209.0h0M263.1 228.9h0M253.1 238.1h0M288.3 214.8h0M287.8 217.9h0M260.1 233.2h0M289.3 217.1h0M255.7 239.0h0M256.6 236.7h0M260.8 232.3h0M254.6 235.4h0M228.1 257.0h0M290.5 214.6h0M282.0 217.0h0M252.1 240.2h0M285.8 215.2h0M252.8 240.3h0M230.4 257.2h0M287.9 216.4h0M241.3 248.2h0M223.0 259.1h0M224.8 258.7h0M225.7 254.3h0M280.8 218.7h0M223.6 260.6h0M285.8 216.1h0M272.8 225.7h0M280.1 219.8h0M239.5 245.9h0M271.1 238.9h0M220.6 245.1h0M240.3 257.9h0M236.9 249.3h0M262.6 215.6h0M272.3 224.2h0M219.0 261.0h0M293.8 213.3h0M248.1 242.8h0M276.4 218.8h0M266.8 229.0h0M227.5 252.6h0M228.8 237.2h0M298.4 205.0h0M222.6 259.9h0M251.5 239.2h0M222.0 255.5h0M231.6 251.7h0M285.8 196.3h0M286.3 217.2h0M298.2 208.4h0M277.0 222.1h0M274.3 224.3h0M242.0 246.7h0M234.1 250.8h0M252.7 243.2h0M269.5 229.1h0M289.6 215.1h0M248.2 243.4h0M281.6 218.1h0M279.9 222.1h0M233.0 255.7h0M269.1 226.3h0M252.7 238.0h0M299.6 205.0h0M293.4 210.4h0M234.6 253.9h0M241.6 228.9h0M261.5 236.7h0M298.9 208.3h0M257.7 237.0h0M275.1 220.3h0M245.3 246.4h0M289.4 213.5h0M256.6 236.3h0M234.7 265.9h0M296.0 210.0h0M264.7 230.2h0M300.0 208.3h0M293.6 227.9h0M240.0 247.2h0M286.5 218.1h0M283.6 218.7h0M252.3 240.9h0M276.6 222.9h0M275.0 220.7h0M246.8 240.1h0M250.7 241.0h0M241.5 248.7h0M244.6 245.3h0M269.0 228.1h0M282.6 218.1h0M259.8 257.3h0M272.7 224.8h0M240.3 247.7h0M219.6 260.7h0M266.8 227.8h0M260.7 232.3h0M220.0 262.0h0M257.6 236.9h0M255.7 235.8h0M254.0 236.5h0M300.7 212.0h0M294.5 209.7h0M253.4 240.7h0M273.9 225.8h0M250.9 239.5h0M286.6 215.6h0M295.7 206.7h0M287.6 215.4h0M262.3 233.4h0M299.1 205.8h0M246.3 244.1h0M225.0 257.8h0M264.9 230.9h0M295.2 211.0h0M261.8 234.3h0M237.0 251.2h0M229.5 253.0h0M272.7 250.8h0M259.6 233.9h0M294.5 209.6h0M271.7 225.7h0M222.2 260.2h0M293.4 207.2h0M293.9 211.8h0M294.7 216.1h0M300.5 196.9h0M231.9 256.5h0M228.8 256.9h0M254.5 238.2h0M231.8 251.3h0M290.1 219.5h0M286.3 215.9h0M243.2 244.5h0M283.9 218.1h0M300.6 204.6h0M242.2 247.7h0M269.0 228.3h0M239.7 245.9h0M269.8 228.7h0M279.1 222.8h0M264.9 231.5h0M299.6 205.7h0M227.2 253.6h0M239.4 250.3h0M281.2 222.9h0M271.5 227.3h0M220.0 259.0h0M228.4 254.2h0M246.1 244.6h0M263.2 233.3h0M218.8 261.0h0M246.0 244.6h0M288.3 216.1h0M259.4 232.8h0M226.8 255.8h0M288.2 216.4h0M282.8 219.5h0M225.2 256.3h0M250.9 240.9h0M279.2 221.0h0M243.5 244.5h0M253.3 219.0h0M235.2 254.2h0M219.6 262.7h0M250.0 241.9h0M226.3 257.3h0M279.5 223.4h0M240.2 247.5h0M260.8 235.1h0M228.7 253.9h0M244.1 249.1h0M257.0 235.6h0M267.0 231.0h0M255.2 235.9h0M272.4 224.7h0M288.3 215.0h0M279.8 219.9h0M220.0 259.1h0M222.5 257.5h0M267.5 231.3h0M274.9 224.4h0M247.7 265.2h0M291.0 215.7h0M283.0 219.4h0M248.4 242.2h0M298.6 210.5h0M219.4 262.0h0M227.3 257.5h0M292.9 215.1h0M259.3 234.8h0M286.5 219.1h0M240.9 245.9h0M248.4 245.1h0M228.1 253.0h0M234.7 253.3h0M257.1 236.8h0M265.6 231.5h0M287.1 213.4h0M240.2 244.4h0M232.7 252.7h0M300.6 207.6h0M238.8 250.6h0M291.1 212.9h0M247.3 241.9h0M232.7 254.5h0M237.0 250.1h0M224.9 250.4h0M228.0 253.6h0M270.7 226.2h0M232.6 254.1h0M273.5 222.8h0M244.3 245.4h0M271.2 232.9h0M243.3 243.4h0M298.3 210.7h0M291.9 212.3h0M284.5 218.5h0M293.5 209.8h0M265.6 229.2h0M258.9 226.2h0M232.1 253.0h0M286.9 231.8h0M233.8 250.5h0M234.4 251.6h0M227.1 267.7h0M249.6 240.2h0M292.6 214.9h0M261.5 233.0h0M222.3 260.6h0M229.7 256.9h0M238.7 242.9h0M269.6 227.5h0M243.4 245.2h0M262.0 241.0h0M273.0 223.3h0M248.1 243.4h0M222.6 259.0h0M289.2 213.8h0M222.7 255.8h0M283.7 200.8h0M250.1 238.0h0M267.5 228.6h0M230.5 253.1h0M289.1 213.6h0M253.6 238.8h0M267.2 230.5h0M282.7 220.6h0M276.1 221.0h0M236.9 250.6h0M233.8 252.5h0M229.2 252.0h0M221.2 270.8h0M242.1 246.8h0M266.7 229.8h0M263.8 228.8h0M271.6 227.0h0M281.6 219.8h0M225.1 257.7h0M268.0 226.8h0M273.3 223.3h0M252.5 240.9h0M250.2 235.2h0M223.4 259.9h0M291.4 212.6h0M253.5 240.2h0M241.9 258.9h0M223.9 258.2h0M235.4 251.2h0M290.9 212.1h0M287.8 218.5h0M256.1 244.0h0M229.8 235.5h0M259.0 235.5h0M237.3 249.6h0M289.4 215.0h0M238.1 248.1h0M234.3 251.3h0M263.1 231.1h0M250.5 241.5h0M287.7 216.6h0M299.0 208.3h0M259.8 237.5h0M244.3 245.3h0M282.8 219.1h0M234.6 253.7h0M275.6 222.2h0M284.8 218.7h0M259.6 233.6h0M223.6 256.3h0M274.4 224.2h0M243.0 246.6h0M240.7 249.8h0M295.2 209.5h0M252.7 239.4h0M219.0 264.8h0M228.5 255.7h0M289.6 214.9h0M247.5 252.1h0M300.5 208.2h0M239.5 243.6h0M244.9 246.6h0M222.7 247.9h0M258.1 236.4h0M273.6 223.8h0M254.9 238.5h0M282.0 222.7h0M232.5 251.0h0M237.3 247.1h0M267.7 229.0h0M296.4 200.0h0M271.2 226.9h0M245.5 246.1h0M230.2 254.7h0M225.0 256.1h0M277.5 223.3h0M288.3 215.6h0M249.9 241.8h0M300.6 205.1h0M234.3 244.8h0M234.0 251.3h0M256.3 234.5h0M234.2 253.7h0M267.9 226.3h0M228.7 255.2h0M224.8 257.2h0M250.3 242.7h0M283.9 218.5h0M280.6 208.2h0M242.8 241.2h0M248.7 240.1h0M268.3 232.2h0M295.4 210.9h0M283.2 218.8h0M277.5 221.8h0M226.7 258.2h0M228.9 256.5h0M254.3 239.5h0M286.0 217.2h0M254.1 237.0h0M271.6 225.8h0M264.6 231.2h0M293.0 217.3h0M255.6 237.6h0M282.6 218.8h0M222.9 257.9h0M299.6 230.8h0M247.5 243.6h0M313.0 198.2h0M309.1 209.6h0M308.0 202.8h0M313.3 199.5h0M319.8 196.2h0M302.4 210.3h0M305.9 206.3h0M310.8 199.5h0M310.0 200.6h0M317.7 196.0h0M311.2 191.2h0M311.9 198.5h0M308.1 200.0h0M303.1 198.7h0M312.1 201.6h0M303.2 207.5h0M308.7 200.3h0M313.1 201.3h0M310.5 202.6h0M314.2 226.6h0M317.5 197.1h0M304.2 206.1h0M311.1 199.1h0M311.9 197.2h0M305.6 202.6h0M317.0 194.7h0M305.1 203.4h0M317.5 195.9h0M311.6 198.5h0M302.3 204.6h0M319.1 203.9h0M308.9 201.9h0M315.1 200.9h0M313.3 196.8h0M318.7 194.9h0M319.6 194.4h0M316.9 194.9h0M319.6 194.8h0M314.7 196.0h0M306.0 203.2h0M306.5 201.6h0M310.1 201.7h0M315.8 195.6h0M316.6 195.9h0M310.1 192.7h0M318.3 196.3h0M319.6 196.4h0M312.5 198.1h0M309.6 203.3h0M310.4 197.9h0M316.2 196.1h0M304.0 202.4h0M316.3 195.5h0M319.8 194.1h0M315.7 194.1h0M304.7 204.4h0M305.3 202.8h0M319.4 195.1h0M308.1 203.4h0M307.3 203.6h0M309.5 200.2h0M310.0 207.1h0M314.2 171.0h0M304.0 205.8h0M303.5 205.5h0M311.9 200.1h0M313.4 200.8h0M313.8 199.2h0M319.0 195.5h0M314.6 195.4h0M314.5 197.1h0M316.9 195.9h0M317.1 197.5h0M318.7 195.4h0M317.2 195.7h0M317.0 197.3h0M314.1 197.4h0M301.2 206.8h0M301.6 206.4h0M314.3 200.1h0M312.8 199.4h0M311.5 200.4h0M304.0 205.7h0M308.5 178.0h0M316.9 195.0h0M320.0 194.0h0M314.9 195.6h0M314.7 198.9h0M315.5 189.2h0M315.8 195.9h0M305.2 204.5h0M316.6 196.1h0M306.5 201.3h0M319.8 198.3h0M317.0 194.4h0M324.5 191.8h0M327.4 189.5h0M323.2 192.1h0M320.8 193.5h0M325.6 190.9h0M322.0 194.5h0M326.3 190.4h0M325.3 190.5h0M323.1 192.0h0M322.3 194.0h0M324.3 202.9h0M323.1 193.2h0M325.4 193.2h0M325.8 190.3h0M321.5 193.9h0M323.7 191.7h0M320.7 194.0h0M324.8 191.1h0M323.9 191.4h0M325.6 191.5h0M322.8 193.0h0M325.0 195.5h0M323.5 191.6h0M326.1 190.1h0M322.8 192.4h0M325.0 191.5h0M323.8 192.4h0M322.5 192.6h0M323.2 192.4h0M324.5 191.5h0M321.5 193.0h0M323.0 194.3h0M320.0 194.0h0M327.2 189.5h0M322.8 192.1h0M328.4 193.1h0M322.9 192.0h0M325.1 190.6h0M323.8 191.9h0M323.1 192.0h0M324.8 191.5h0M322.8 192.5h0M323.8 192.2h0M322.9 192.3h0M322.0 193.1h0M322.7 192.9h0M326.1 190.1h0M322.3 193.8h0M322.5 192.8h0M321.6 194.7h0M324.7 191.1h0M323.4 192.1h0M323.6 192.1h0M326.0 190.3h0M323.4 192.2h0M322.0 192.7h0M326.9 191.1h0M323.6 191.8h0M324.8 191.2h0M324.9 197.3h0M324.6 191.4h0M328.0 189.0h0M326.6 196.2h0M325.1 191.4h0M325.9 194.1h0M321.5 193.1h0M325.6 191.1h0M323.6 194.5h0M325.1 191.6h0M322.1 192.8h0M324.8 190.8h0M324.1 205.3h0M326.4 189.7h0M322.2 192.8h0M325.1 190.7h0M319.9 195.9h0M325.0 191.5h0M330.1 193.9h0M327.7 189.4h0M322.3 193.2h0M325.6 190.5h0M326.0 190.9h0M327.0 191.0h0M323.2 191.9h0M324.5 191.7h0M323.0 193.3h0M323.2 192.0h0M322.0 193.5h0M323.6 192.0h0M324.0 192.2h0M327.2 203.8h0M326.5 190.7h0M325.3 190.8h0M325.7 190.1h0M322.4 192.9h0M323.8 192.4h0M325.7 191.2h0M321.9 193.7h0M324.3 191.2h0M326.1 190.8h0M324.2 191.7h0M321.6 193.2h0M326.6 191.1h0M323.1 200.4h0M323.7 192.1h0M325.1 190.9h0M325.9 190.0h0M325.1 192.3h0M322.2 192.6h0M323.6 191.7h0M324.6 191.5h0M323.1 195.1h0M320.9 194.5h0M328.0 195.7h0M324.1 191.6h0M325.1 191.7h0M325.4 190.7h0M332.4 187.4h0M354.2 196.8h0M335.5 191.7h0M347.5 175.8h0" stroke="#008000" stroke-width="1.8" stroke-linecap="square" fill="none"/>
<line x1="212.93" y1="266.08" x2="355.47" y2="170.04" stroke="#000" stroke-width="1" stroke-dasharray="2.2 1.3"/>
<rect x="208.60" y="168.50" width="6.2" height="5.6" rx="1.5" stroke="#dddddd" stroke-width="0.8" fill="#fff" fill-opacity="0.8"/>
<text x="224.40" y="183.80" font-size="10.5" font-weight="bold">(e)</text>
<text x="284.20" y="162.80" font-size="9.6" text-anchor="middle">XGBoost</text>
<text x="212.93" y="285.90" font-size="7.8" text-anchor="middle">0</text>
<text x="202.90" y="268.88" font-size="7.8" text-anchor="end">0</text>
<text x="251.98" y="285.90" font-size="7.8" text-anchor="middle">2</text>
<text x="202.90" y="242.57" font-size="7.8" text-anchor="end">2</text>
<text x="291.03" y="285.90" font-size="7.8" text-anchor="middle">4</text>
<text x="202.90" y="216.25" font-size="7.8" text-anchor="end">4</text>
<text x="330.09" y="285.90" font-size="7.8" text-anchor="middle">6</text>
<text x="202.90" y="189.94" font-size="7.8" text-anchor="end">6</text>
<text x="284.20" y="295.40" font-size="8.6" text-anchor="middle">Actual Band Gap (eV)</text>
<text transform="translate(194.00 221.15) rotate(-90)" x="0" y="0" font-size="8.8" text-anchor="middle">Predicted Band Gap (eV)</text>
<circle cx="416.7" cy="196.4" r="1.8" fill="#ffa500"/>
<circle cx="416.7" cy="229" r="1.8" fill="#008000"/>
<line x1="405.6" y1="261.5" x2="428" y2="261.5" stroke="#000" stroke-width="1" stroke-dasharray="2.2 1.3"/>
<text x="439.5" y="200.7" font-size="11.1">Training Data</text>
<text x="439.5" y="233.3" font-size="11.1">Test Data</text>
<text x="439.5" y="265.3" font-size="11.1">Perfect Prediction</text>
</svg></body></html>
